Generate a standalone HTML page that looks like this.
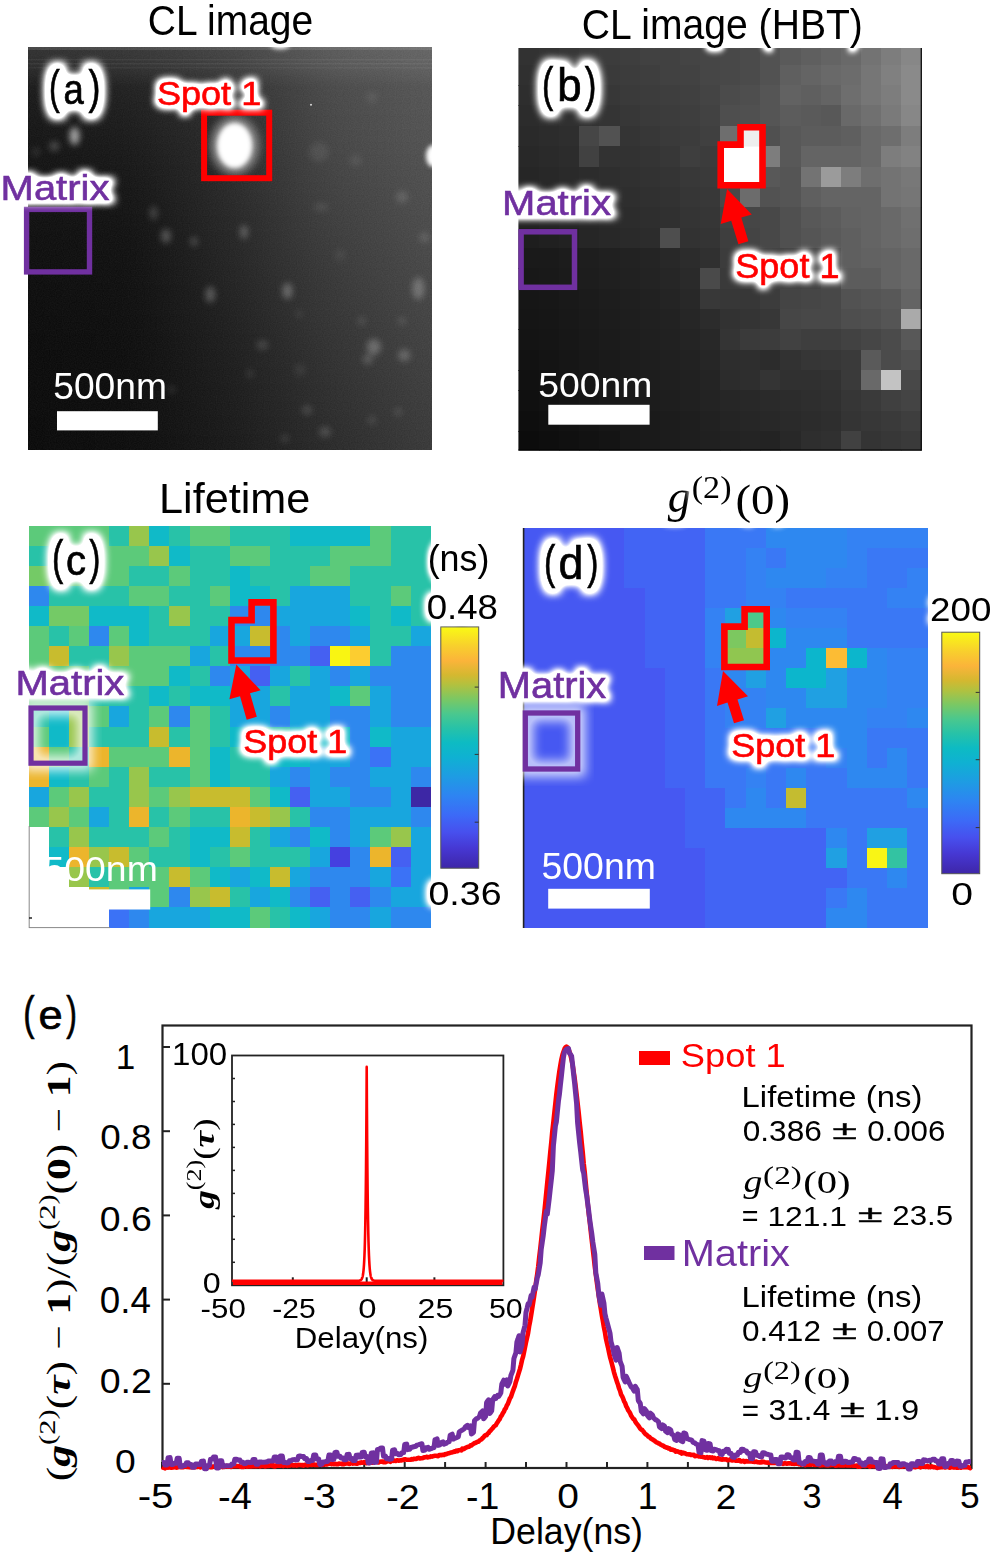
<!DOCTYPE html><html><head><meta charset="utf-8"><title>figure</title><style>html,body{margin:0;padding:0;background:#fff;width:997px;height:1552px;overflow:hidden}svg{position:absolute;left:0;top:0;display:block}</style></head><body>
<svg width="997" height="1552" viewBox="0 0 997 1552">
<defs><filter color-interpolation-filters="sRGB" id="glow" x="-30%" y="-40%" width="160%" height="180%"><feMorphology in="SourceAlpha" operator="dilate" radius="3.2" result="d"/><feGaussianBlur in="d" stdDeviation="3.6" result="b"/><feComponentTransfer in="b" result="b2"><feFuncA type="linear" slope="2.0"/></feComponentTransfer><feFlood flood-color="#fff"/><feComposite in2="b2" operator="in" result="g"/><feMerge><feMergeNode in="g"/><feMergeNode in="SourceGraphic"/></feMerge></filter><filter color-interpolation-filters="sRGB" id="glowS" x="-30%" y="-40%" width="160%" height="180%"><feMorphology in="SourceAlpha" operator="dilate" radius="2.6" result="d"/><feGaussianBlur in="d" stdDeviation="3.0" result="b"/><feComponentTransfer in="b" result="b2"><feFuncA type="linear" slope="1.8"/></feComponentTransfer><feFlood flood-color="#fff"/><feComposite in2="b2" operator="in" result="g"/><feMerge><feMergeNode in="g"/><feMergeNode in="SourceGraphic"/></feMerge></filter><filter color-interpolation-filters="sRGB" id="glowL" x="-30%" y="-40%" width="160%" height="180%"><feMorphology in="SourceAlpha" operator="dilate" radius="5.0" result="d"/><feGaussianBlur in="d" stdDeviation="4.0" result="b"/><feComponentTransfer in="b" result="b2"><feFuncA type="linear" slope="2.2"/></feComponentTransfer><feFlood flood-color="#fff"/><feComposite in2="b2" operator="in" result="g"/><feMerge><feMergeNode in="g"/><feMergeNode in="SourceGraphic"/></feMerge></filter><filter color-interpolation-filters="sRGB" id="boxglow" x="-30%" y="-30%" width="160%" height="160%"><feMorphology in="SourceAlpha" operator="dilate" radius="5" result="d"/><feGaussianBlur in="d" stdDeviation="5.5" result="b"/><feComponentTransfer in="b" result="b2"><feFuncA type="linear" slope="1.3"/></feComponentTransfer><feFlood flood-color="#fff" flood-opacity="0.62"/><feComposite in2="b2" operator="in" result="g"/><feMerge><feMergeNode in="g"/><feMergeNode in="SourceGraphic"/></feMerge></filter><filter color-interpolation-filters="sRGB" id="bl12" x="-100%" y="-100%" width="300%" height="300%"><feGaussianBlur stdDeviation="1.2"/></filter><filter color-interpolation-filters="sRGB" id="bl20" x="-100%" y="-100%" width="300%" height="300%"><feGaussianBlur stdDeviation="2.0"/></filter><filter color-interpolation-filters="sRGB" id="bl30" x="-100%" y="-100%" width="300%" height="300%"><feGaussianBlur stdDeviation="3.0"/></filter><filter color-interpolation-filters="sRGB" id="bl45" x="-100%" y="-100%" width="300%" height="300%"><feGaussianBlur stdDeviation="4.5"/></filter><filter color-interpolation-filters="sRGB" id="bl60" x="-100%" y="-100%" width="300%" height="300%"><feGaussianBlur stdDeviation="6.0"/></filter><filter color-interpolation-filters="sRGB" id="bl120" x="-100%" y="-100%" width="300%" height="300%"><feGaussianBlur stdDeviation="12.0"/></filter><filter color-interpolation-filters="sRGB" id="anoise" x="0" y="0" width="100%" height="100%"><feGaussianBlur in="SourceGraphic" stdDeviation="12" result="bg"/><feTurbulence type="fractalNoise" baseFrequency="0.85" numOctaves="1" seed="3" result="n"/><feColorMatrix in="n" type="matrix" values="1 0 0 0 0  1 0 0 0 0  1 0 0 0 0  0 0 0 0 1" result="ng"/><feComposite in="bg" in2="ng" operator="arithmetic" k1="0" k2="1" k3="0.07" k4="-0.035"/></filter><linearGradient id="parula" x1="0" y1="0" x2="0" y2="1"><stop offset="0.000" stop-color="#F9FA14"/><stop offset="0.080" stop-color="#F8CF2D"/><stop offset="0.140" stop-color="#FBB43A"/><stop offset="0.200" stop-color="#D4B830"/><stop offset="0.240" stop-color="#B2C13F"/><stop offset="0.300" stop-color="#7AC864"/><stop offset="0.360" stop-color="#4AC88E"/><stop offset="0.420" stop-color="#27C2A8"/><stop offset="0.480" stop-color="#0DBBC3"/><stop offset="0.540" stop-color="#0FB1D2"/><stop offset="0.620" stop-color="#1E9CE3"/><stop offset="0.700" stop-color="#2E84F2"/><stop offset="0.780" stop-color="#3C6AF7"/><stop offset="0.850" stop-color="#4750EE"/><stop offset="0.920" stop-color="#4637D2"/><stop offset="1.000" stop-color="#3E26A8"/></linearGradient><radialGradient id="aglow" cx="432" cy="60" r="470" gradientUnits="userSpaceOnUse"><stop offset="0" stop-color="#fff" stop-opacity="0.30"/><stop offset="0.45" stop-color="#fff" stop-opacity="0.18"/><stop offset="1" stop-color="#fff" stop-opacity="0"/></radialGradient><linearGradient id="aband" x1="0" y1="0" x2="0" y2="1"><stop offset="0" stop-color="#fff" stop-opacity="0.08"/><stop offset="0.5" stop-color="#fff" stop-opacity="0.06"/><stop offset="1" stop-color="#fff" stop-opacity="0"/></linearGradient></defs>
<rect width="997" height="1552" fill="#fff"/>
<clipPath id="clipa0"><rect x="28" y="47" width="404" height="403"/></clipPath>
<g clip-path="url(#clipa0)"><g filter="url(#anoise)">
<rect x="-5.7" y="13.3" width="17.4" height="17.4" fill="rgb(36,36,36)" shape-rendering="crispEdges"/>
<rect x="11.2" y="13.3" width="17.4" height="17.4" fill="rgb(36,36,36)" shape-rendering="crispEdges"/>
<rect x="28.0" y="13.3" width="17.4" height="17.4" fill="rgb(36,36,36)" shape-rendering="crispEdges"/>
<rect x="44.8" y="13.3" width="17.4" height="17.4" fill="rgb(38,38,38)" shape-rendering="crispEdges"/>
<rect x="61.7" y="13.3" width="17.4" height="17.4" fill="rgb(38,38,38)" shape-rendering="crispEdges"/>
<rect x="78.5" y="13.3" width="17.4" height="17.4" fill="rgb(40,40,40)" shape-rendering="crispEdges"/>
<rect x="95.3" y="13.3" width="17.4" height="17.4" fill="rgb(40,40,40)" shape-rendering="crispEdges"/>
<rect x="112.2" y="13.3" width="17.4" height="17.4" fill="rgb(42,42,42)" shape-rendering="crispEdges"/>
<rect x="129.0" y="13.3" width="17.4" height="17.4" fill="rgb(43,43,43)" shape-rendering="crispEdges"/>
<rect x="145.8" y="13.3" width="17.4" height="17.4" fill="rgb(46,46,46)" shape-rendering="crispEdges"/>
<rect x="162.7" y="13.3" width="17.4" height="17.4" fill="rgb(48,48,48)" shape-rendering="crispEdges"/>
<rect x="179.5" y="13.3" width="17.4" height="17.4" fill="rgb(50,50,50)" shape-rendering="crispEdges"/>
<rect x="196.3" y="13.3" width="17.4" height="17.4" fill="rgb(52,52,52)" shape-rendering="crispEdges"/>
<rect x="213.2" y="13.3" width="17.4" height="17.4" fill="rgb(55,55,55)" shape-rendering="crispEdges"/>
<rect x="230.0" y="13.3" width="17.4" height="17.4" fill="rgb(58,58,58)" shape-rendering="crispEdges"/>
<rect x="246.8" y="13.3" width="17.4" height="17.4" fill="rgb(62,62,62)" shape-rendering="crispEdges"/>
<rect x="263.7" y="13.3" width="17.4" height="17.4" fill="rgb(66,66,66)" shape-rendering="crispEdges"/>
<rect x="280.5" y="13.3" width="17.4" height="17.4" fill="rgb(70,70,70)" shape-rendering="crispEdges"/>
<rect x="297.3" y="13.3" width="17.4" height="17.4" fill="rgb(74,74,74)" shape-rendering="crispEdges"/>
<rect x="314.2" y="13.3" width="17.4" height="17.4" fill="rgb(78,78,78)" shape-rendering="crispEdges"/>
<rect x="331.0" y="13.3" width="17.4" height="17.4" fill="rgb(81,81,81)" shape-rendering="crispEdges"/>
<rect x="347.8" y="13.3" width="17.4" height="17.4" fill="rgb(82,82,82)" shape-rendering="crispEdges"/>
<rect x="364.7" y="13.3" width="17.4" height="17.4" fill="rgb(84,84,84)" shape-rendering="crispEdges"/>
<rect x="381.5" y="13.3" width="17.4" height="17.4" fill="rgb(86,86,86)" shape-rendering="crispEdges"/>
<rect x="398.3" y="13.3" width="17.4" height="17.4" fill="rgb(88,88,88)" shape-rendering="crispEdges"/>
<rect x="415.2" y="13.3" width="17.4" height="17.4" fill="rgb(89,89,89)" shape-rendering="crispEdges"/>
<rect x="432.0" y="13.3" width="17.4" height="17.4" fill="rgb(90,90,90)" shape-rendering="crispEdges"/>
<rect x="448.8" y="13.3" width="17.4" height="17.4" fill="rgb(90,90,90)" shape-rendering="crispEdges"/>
<rect x="-5.7" y="30.2" width="17.4" height="17.4" fill="rgb(36,36,36)" shape-rendering="crispEdges"/>
<rect x="11.2" y="30.2" width="17.4" height="17.4" fill="rgb(36,36,36)" shape-rendering="crispEdges"/>
<rect x="28.0" y="30.2" width="17.4" height="17.4" fill="rgb(36,36,36)" shape-rendering="crispEdges"/>
<rect x="44.8" y="30.2" width="17.4" height="17.4" fill="rgb(38,38,38)" shape-rendering="crispEdges"/>
<rect x="61.7" y="30.2" width="17.4" height="17.4" fill="rgb(38,38,38)" shape-rendering="crispEdges"/>
<rect x="78.5" y="30.2" width="17.4" height="17.4" fill="rgb(40,40,40)" shape-rendering="crispEdges"/>
<rect x="95.3" y="30.2" width="17.4" height="17.4" fill="rgb(40,40,40)" shape-rendering="crispEdges"/>
<rect x="112.2" y="30.2" width="17.4" height="17.4" fill="rgb(42,42,42)" shape-rendering="crispEdges"/>
<rect x="129.0" y="30.2" width="17.4" height="17.4" fill="rgb(43,43,43)" shape-rendering="crispEdges"/>
<rect x="145.8" y="30.2" width="17.4" height="17.4" fill="rgb(46,46,46)" shape-rendering="crispEdges"/>
<rect x="162.7" y="30.2" width="17.4" height="17.4" fill="rgb(48,48,48)" shape-rendering="crispEdges"/>
<rect x="179.5" y="30.2" width="17.4" height="17.4" fill="rgb(50,50,50)" shape-rendering="crispEdges"/>
<rect x="196.3" y="30.2" width="17.4" height="17.4" fill="rgb(52,52,52)" shape-rendering="crispEdges"/>
<rect x="213.2" y="30.2" width="17.4" height="17.4" fill="rgb(55,55,55)" shape-rendering="crispEdges"/>
<rect x="230.0" y="30.2" width="17.4" height="17.4" fill="rgb(58,58,58)" shape-rendering="crispEdges"/>
<rect x="246.8" y="30.2" width="17.4" height="17.4" fill="rgb(62,62,62)" shape-rendering="crispEdges"/>
<rect x="263.7" y="30.2" width="17.4" height="17.4" fill="rgb(66,66,66)" shape-rendering="crispEdges"/>
<rect x="280.5" y="30.2" width="17.4" height="17.4" fill="rgb(70,70,70)" shape-rendering="crispEdges"/>
<rect x="297.3" y="30.2" width="17.4" height="17.4" fill="rgb(74,74,74)" shape-rendering="crispEdges"/>
<rect x="314.2" y="30.2" width="17.4" height="17.4" fill="rgb(78,78,78)" shape-rendering="crispEdges"/>
<rect x="331.0" y="30.2" width="17.4" height="17.4" fill="rgb(81,81,81)" shape-rendering="crispEdges"/>
<rect x="347.8" y="30.2" width="17.4" height="17.4" fill="rgb(82,82,82)" shape-rendering="crispEdges"/>
<rect x="364.7" y="30.2" width="17.4" height="17.4" fill="rgb(84,84,84)" shape-rendering="crispEdges"/>
<rect x="381.5" y="30.2" width="17.4" height="17.4" fill="rgb(86,86,86)" shape-rendering="crispEdges"/>
<rect x="398.3" y="30.2" width="17.4" height="17.4" fill="rgb(88,88,88)" shape-rendering="crispEdges"/>
<rect x="415.2" y="30.2" width="17.4" height="17.4" fill="rgb(89,89,89)" shape-rendering="crispEdges"/>
<rect x="432.0" y="30.2" width="17.4" height="17.4" fill="rgb(90,90,90)" shape-rendering="crispEdges"/>
<rect x="448.8" y="30.2" width="17.4" height="17.4" fill="rgb(90,90,90)" shape-rendering="crispEdges"/>
<rect x="-5.7" y="47.0" width="17.4" height="17.4" fill="rgb(35,35,35)" shape-rendering="crispEdges"/>
<rect x="11.2" y="47.0" width="17.4" height="17.4" fill="rgb(35,35,35)" shape-rendering="crispEdges"/>
<rect x="28.0" y="47.0" width="17.4" height="17.4" fill="rgb(35,35,35)" shape-rendering="crispEdges"/>
<rect x="44.8" y="47.0" width="17.4" height="17.4" fill="rgb(36,36,36)" shape-rendering="crispEdges"/>
<rect x="61.7" y="47.0" width="17.4" height="17.4" fill="rgb(37,37,37)" shape-rendering="crispEdges"/>
<rect x="78.5" y="47.0" width="17.4" height="17.4" fill="rgb(38,38,38)" shape-rendering="crispEdges"/>
<rect x="95.3" y="47.0" width="17.4" height="17.4" fill="rgb(39,39,39)" shape-rendering="crispEdges"/>
<rect x="112.2" y="47.0" width="17.4" height="17.4" fill="rgb(40,40,40)" shape-rendering="crispEdges"/>
<rect x="129.0" y="47.0" width="17.4" height="17.4" fill="rgb(42,42,42)" shape-rendering="crispEdges"/>
<rect x="145.8" y="47.0" width="17.4" height="17.4" fill="rgb(44,44,44)" shape-rendering="crispEdges"/>
<rect x="162.7" y="47.0" width="17.4" height="17.4" fill="rgb(47,47,47)" shape-rendering="crispEdges"/>
<rect x="179.5" y="47.0" width="17.4" height="17.4" fill="rgb(49,49,49)" shape-rendering="crispEdges"/>
<rect x="196.3" y="47.0" width="17.4" height="17.4" fill="rgb(52,52,52)" shape-rendering="crispEdges"/>
<rect x="213.2" y="47.0" width="17.4" height="17.4" fill="rgb(54,54,54)" shape-rendering="crispEdges"/>
<rect x="230.0" y="47.0" width="17.4" height="17.4" fill="rgb(57,57,57)" shape-rendering="crispEdges"/>
<rect x="246.8" y="47.0" width="17.4" height="17.4" fill="rgb(61,61,61)" shape-rendering="crispEdges"/>
<rect x="263.7" y="47.0" width="17.4" height="17.4" fill="rgb(65,65,65)" shape-rendering="crispEdges"/>
<rect x="280.5" y="47.0" width="17.4" height="17.4" fill="rgb(69,69,69)" shape-rendering="crispEdges"/>
<rect x="297.3" y="47.0" width="17.4" height="17.4" fill="rgb(73,73,73)" shape-rendering="crispEdges"/>
<rect x="314.2" y="47.0" width="17.4" height="17.4" fill="rgb(77,77,77)" shape-rendering="crispEdges"/>
<rect x="331.0" y="47.0" width="17.4" height="17.4" fill="rgb(80,80,80)" shape-rendering="crispEdges"/>
<rect x="347.8" y="47.0" width="17.4" height="17.4" fill="rgb(82,82,82)" shape-rendering="crispEdges"/>
<rect x="364.7" y="47.0" width="17.4" height="17.4" fill="rgb(84,84,84)" shape-rendering="crispEdges"/>
<rect x="381.5" y="47.0" width="17.4" height="17.4" fill="rgb(85,85,85)" shape-rendering="crispEdges"/>
<rect x="398.3" y="47.0" width="17.4" height="17.4" fill="rgb(87,87,87)" shape-rendering="crispEdges"/>
<rect x="415.2" y="47.0" width="17.4" height="17.4" fill="rgb(89,89,89)" shape-rendering="crispEdges"/>
<rect x="432.0" y="47.0" width="17.4" height="17.4" fill="rgb(90,90,90)" shape-rendering="crispEdges"/>
<rect x="448.8" y="47.0" width="17.4" height="17.4" fill="rgb(90,90,90)" shape-rendering="crispEdges"/>
<rect x="-5.7" y="63.8" width="17.4" height="17.4" fill="rgb(33,33,33)" shape-rendering="crispEdges"/>
<rect x="11.2" y="63.8" width="17.4" height="17.4" fill="rgb(33,33,33)" shape-rendering="crispEdges"/>
<rect x="28.0" y="63.8" width="17.4" height="17.4" fill="rgb(33,33,33)" shape-rendering="crispEdges"/>
<rect x="44.8" y="63.8" width="17.4" height="17.4" fill="rgb(34,34,34)" shape-rendering="crispEdges"/>
<rect x="61.7" y="63.8" width="17.4" height="17.4" fill="rgb(35,35,35)" shape-rendering="crispEdges"/>
<rect x="78.5" y="63.8" width="17.4" height="17.4" fill="rgb(36,36,36)" shape-rendering="crispEdges"/>
<rect x="95.3" y="63.8" width="17.4" height="17.4" fill="rgb(37,37,37)" shape-rendering="crispEdges"/>
<rect x="112.2" y="63.8" width="17.4" height="17.4" fill="rgb(38,38,38)" shape-rendering="crispEdges"/>
<rect x="129.0" y="63.8" width="17.4" height="17.4" fill="rgb(40,40,40)" shape-rendering="crispEdges"/>
<rect x="145.8" y="63.8" width="17.4" height="17.4" fill="rgb(42,42,42)" shape-rendering="crispEdges"/>
<rect x="162.7" y="63.8" width="17.4" height="17.4" fill="rgb(45,45,45)" shape-rendering="crispEdges"/>
<rect x="179.5" y="63.8" width="17.4" height="17.4" fill="rgb(47,47,47)" shape-rendering="crispEdges"/>
<rect x="196.3" y="63.8" width="17.4" height="17.4" fill="rgb(50,50,50)" shape-rendering="crispEdges"/>
<rect x="213.2" y="63.8" width="17.4" height="17.4" fill="rgb(52,52,52)" shape-rendering="crispEdges"/>
<rect x="230.0" y="63.8" width="17.4" height="17.4" fill="rgb(56,56,56)" shape-rendering="crispEdges"/>
<rect x="246.8" y="63.8" width="17.4" height="17.4" fill="rgb(60,60,60)" shape-rendering="crispEdges"/>
<rect x="263.7" y="63.8" width="17.4" height="17.4" fill="rgb(64,64,64)" shape-rendering="crispEdges"/>
<rect x="280.5" y="63.8" width="17.4" height="17.4" fill="rgb(68,68,68)" shape-rendering="crispEdges"/>
<rect x="297.3" y="63.8" width="17.4" height="17.4" fill="rgb(72,72,72)" shape-rendering="crispEdges"/>
<rect x="314.2" y="63.8" width="17.4" height="17.4" fill="rgb(76,76,76)" shape-rendering="crispEdges"/>
<rect x="331.0" y="63.8" width="17.4" height="17.4" fill="rgb(79,79,79)" shape-rendering="crispEdges"/>
<rect x="347.8" y="63.8" width="17.4" height="17.4" fill="rgb(81,81,81)" shape-rendering="crispEdges"/>
<rect x="364.7" y="63.8" width="17.4" height="17.4" fill="rgb(82,82,82)" shape-rendering="crispEdges"/>
<rect x="381.5" y="63.8" width="17.4" height="17.4" fill="rgb(84,84,84)" shape-rendering="crispEdges"/>
<rect x="398.3" y="63.8" width="17.4" height="17.4" fill="rgb(86,86,86)" shape-rendering="crispEdges"/>
<rect x="415.2" y="63.8" width="17.4" height="17.4" fill="rgb(88,88,88)" shape-rendering="crispEdges"/>
<rect x="432.0" y="63.8" width="17.4" height="17.4" fill="rgb(88,88,88)" shape-rendering="crispEdges"/>
<rect x="448.8" y="63.8" width="17.4" height="17.4" fill="rgb(88,88,88)" shape-rendering="crispEdges"/>
<rect x="-5.7" y="80.7" width="17.4" height="17.4" fill="rgb(31,31,31)" shape-rendering="crispEdges"/>
<rect x="11.2" y="80.7" width="17.4" height="17.4" fill="rgb(31,31,31)" shape-rendering="crispEdges"/>
<rect x="28.0" y="80.7" width="17.4" height="17.4" fill="rgb(31,31,31)" shape-rendering="crispEdges"/>
<rect x="44.8" y="80.7" width="17.4" height="17.4" fill="rgb(32,32,32)" shape-rendering="crispEdges"/>
<rect x="61.7" y="80.7" width="17.4" height="17.4" fill="rgb(33,33,33)" shape-rendering="crispEdges"/>
<rect x="78.5" y="80.7" width="17.4" height="17.4" fill="rgb(34,34,34)" shape-rendering="crispEdges"/>
<rect x="95.3" y="80.7" width="17.4" height="17.4" fill="rgb(35,35,35)" shape-rendering="crispEdges"/>
<rect x="112.2" y="80.7" width="17.4" height="17.4" fill="rgb(36,36,36)" shape-rendering="crispEdges"/>
<rect x="129.0" y="80.7" width="17.4" height="17.4" fill="rgb(37,37,37)" shape-rendering="crispEdges"/>
<rect x="145.8" y="80.7" width="17.4" height="17.4" fill="rgb(40,40,40)" shape-rendering="crispEdges"/>
<rect x="162.7" y="80.7" width="17.4" height="17.4" fill="rgb(43,43,43)" shape-rendering="crispEdges"/>
<rect x="179.5" y="80.7" width="17.4" height="17.4" fill="rgb(45,45,45)" shape-rendering="crispEdges"/>
<rect x="196.3" y="80.7" width="17.4" height="17.4" fill="rgb(48,48,48)" shape-rendering="crispEdges"/>
<rect x="213.2" y="80.7" width="17.4" height="17.4" fill="rgb(51,51,51)" shape-rendering="crispEdges"/>
<rect x="230.0" y="80.7" width="17.4" height="17.4" fill="rgb(54,54,54)" shape-rendering="crispEdges"/>
<rect x="246.8" y="80.7" width="17.4" height="17.4" fill="rgb(58,58,58)" shape-rendering="crispEdges"/>
<rect x="263.7" y="80.7" width="17.4" height="17.4" fill="rgb(62,62,62)" shape-rendering="crispEdges"/>
<rect x="280.5" y="80.7" width="17.4" height="17.4" fill="rgb(66,66,66)" shape-rendering="crispEdges"/>
<rect x="297.3" y="80.7" width="17.4" height="17.4" fill="rgb(70,70,70)" shape-rendering="crispEdges"/>
<rect x="314.2" y="80.7" width="17.4" height="17.4" fill="rgb(75,75,75)" shape-rendering="crispEdges"/>
<rect x="331.0" y="80.7" width="17.4" height="17.4" fill="rgb(78,78,78)" shape-rendering="crispEdges"/>
<rect x="347.8" y="80.7" width="17.4" height="17.4" fill="rgb(79,79,79)" shape-rendering="crispEdges"/>
<rect x="364.7" y="80.7" width="17.4" height="17.4" fill="rgb(81,81,81)" shape-rendering="crispEdges"/>
<rect x="381.5" y="80.7" width="17.4" height="17.4" fill="rgb(83,83,83)" shape-rendering="crispEdges"/>
<rect x="398.3" y="80.7" width="17.4" height="17.4" fill="rgb(85,85,85)" shape-rendering="crispEdges"/>
<rect x="415.2" y="80.7" width="17.4" height="17.4" fill="rgb(87,87,87)" shape-rendering="crispEdges"/>
<rect x="432.0" y="80.7" width="17.4" height="17.4" fill="rgb(88,88,88)" shape-rendering="crispEdges"/>
<rect x="448.8" y="80.7" width="17.4" height="17.4" fill="rgb(88,88,88)" shape-rendering="crispEdges"/>
<rect x="-5.7" y="97.5" width="17.4" height="17.4" fill="rgb(29,29,29)" shape-rendering="crispEdges"/>
<rect x="11.2" y="97.5" width="17.4" height="17.4" fill="rgb(29,29,29)" shape-rendering="crispEdges"/>
<rect x="28.0" y="97.5" width="17.4" height="17.4" fill="rgb(29,29,29)" shape-rendering="crispEdges"/>
<rect x="44.8" y="97.5" width="17.4" height="17.4" fill="rgb(30,30,30)" shape-rendering="crispEdges"/>
<rect x="61.7" y="97.5" width="17.4" height="17.4" fill="rgb(31,31,31)" shape-rendering="crispEdges"/>
<rect x="78.5" y="97.5" width="17.4" height="17.4" fill="rgb(32,32,32)" shape-rendering="crispEdges"/>
<rect x="95.3" y="97.5" width="17.4" height="17.4" fill="rgb(33,33,33)" shape-rendering="crispEdges"/>
<rect x="112.2" y="97.5" width="17.4" height="17.4" fill="rgb(33,33,33)" shape-rendering="crispEdges"/>
<rect x="129.0" y="97.5" width="17.4" height="17.4" fill="rgb(35,35,35)" shape-rendering="crispEdges"/>
<rect x="145.8" y="97.5" width="17.4" height="17.4" fill="rgb(38,38,38)" shape-rendering="crispEdges"/>
<rect x="162.7" y="97.5" width="17.4" height="17.4" fill="rgb(41,41,41)" shape-rendering="crispEdges"/>
<rect x="179.5" y="97.5" width="17.4" height="17.4" fill="rgb(43,43,43)" shape-rendering="crispEdges"/>
<rect x="196.3" y="97.5" width="17.4" height="17.4" fill="rgb(46,46,46)" shape-rendering="crispEdges"/>
<rect x="213.2" y="97.5" width="17.4" height="17.4" fill="rgb(49,49,49)" shape-rendering="crispEdges"/>
<rect x="230.0" y="97.5" width="17.4" height="17.4" fill="rgb(52,52,52)" shape-rendering="crispEdges"/>
<rect x="246.8" y="97.5" width="17.4" height="17.4" fill="rgb(56,56,56)" shape-rendering="crispEdges"/>
<rect x="263.7" y="97.5" width="17.4" height="17.4" fill="rgb(61,61,61)" shape-rendering="crispEdges"/>
<rect x="280.5" y="97.5" width="17.4" height="17.4" fill="rgb(65,65,65)" shape-rendering="crispEdges"/>
<rect x="297.3" y="97.5" width="17.4" height="17.4" fill="rgb(69,69,69)" shape-rendering="crispEdges"/>
<rect x="314.2" y="97.5" width="17.4" height="17.4" fill="rgb(73,73,73)" shape-rendering="crispEdges"/>
<rect x="331.0" y="97.5" width="17.4" height="17.4" fill="rgb(76,76,76)" shape-rendering="crispEdges"/>
<rect x="347.8" y="97.5" width="17.4" height="17.4" fill="rgb(78,78,78)" shape-rendering="crispEdges"/>
<rect x="364.7" y="97.5" width="17.4" height="17.4" fill="rgb(80,80,80)" shape-rendering="crispEdges"/>
<rect x="381.5" y="97.5" width="17.4" height="17.4" fill="rgb(82,82,82)" shape-rendering="crispEdges"/>
<rect x="398.3" y="97.5" width="17.4" height="17.4" fill="rgb(84,84,84)" shape-rendering="crispEdges"/>
<rect x="415.2" y="97.5" width="17.4" height="17.4" fill="rgb(86,86,86)" shape-rendering="crispEdges"/>
<rect x="432.0" y="97.5" width="17.4" height="17.4" fill="rgb(86,86,86)" shape-rendering="crispEdges"/>
<rect x="448.8" y="97.5" width="17.4" height="17.4" fill="rgb(86,86,86)" shape-rendering="crispEdges"/>
<rect x="-5.7" y="114.3" width="17.4" height="17.4" fill="rgb(27,27,27)" shape-rendering="crispEdges"/>
<rect x="11.2" y="114.3" width="17.4" height="17.4" fill="rgb(27,27,27)" shape-rendering="crispEdges"/>
<rect x="28.0" y="114.3" width="17.4" height="17.4" fill="rgb(27,27,27)" shape-rendering="crispEdges"/>
<rect x="44.8" y="114.3" width="17.4" height="17.4" fill="rgb(28,28,28)" shape-rendering="crispEdges"/>
<rect x="61.7" y="114.3" width="17.4" height="17.4" fill="rgb(29,29,29)" shape-rendering="crispEdges"/>
<rect x="78.5" y="114.3" width="17.4" height="17.4" fill="rgb(30,30,30)" shape-rendering="crispEdges"/>
<rect x="95.3" y="114.3" width="17.4" height="17.4" fill="rgb(30,30,30)" shape-rendering="crispEdges"/>
<rect x="112.2" y="114.3" width="17.4" height="17.4" fill="rgb(31,31,31)" shape-rendering="crispEdges"/>
<rect x="129.0" y="114.3" width="17.4" height="17.4" fill="rgb(33,33,33)" shape-rendering="crispEdges"/>
<rect x="145.8" y="114.3" width="17.4" height="17.4" fill="rgb(36,36,36)" shape-rendering="crispEdges"/>
<rect x="162.7" y="114.3" width="17.4" height="17.4" fill="rgb(39,39,39)" shape-rendering="crispEdges"/>
<rect x="179.5" y="114.3" width="17.4" height="17.4" fill="rgb(41,41,41)" shape-rendering="crispEdges"/>
<rect x="196.3" y="114.3" width="17.4" height="17.4" fill="rgb(44,44,44)" shape-rendering="crispEdges"/>
<rect x="213.2" y="114.3" width="17.4" height="17.4" fill="rgb(47,47,47)" shape-rendering="crispEdges"/>
<rect x="230.0" y="114.3" width="17.4" height="17.4" fill="rgb(51,51,51)" shape-rendering="crispEdges"/>
<rect x="246.8" y="114.3" width="17.4" height="17.4" fill="rgb(55,55,55)" shape-rendering="crispEdges"/>
<rect x="263.7" y="114.3" width="17.4" height="17.4" fill="rgb(59,59,59)" shape-rendering="crispEdges"/>
<rect x="280.5" y="114.3" width="17.4" height="17.4" fill="rgb(63,63,63)" shape-rendering="crispEdges"/>
<rect x="297.3" y="114.3" width="17.4" height="17.4" fill="rgb(68,68,68)" shape-rendering="crispEdges"/>
<rect x="314.2" y="114.3" width="17.4" height="17.4" fill="rgb(72,72,72)" shape-rendering="crispEdges"/>
<rect x="331.0" y="114.3" width="17.4" height="17.4" fill="rgb(75,75,75)" shape-rendering="crispEdges"/>
<rect x="347.8" y="114.3" width="17.4" height="17.4" fill="rgb(77,77,77)" shape-rendering="crispEdges"/>
<rect x="364.7" y="114.3" width="17.4" height="17.4" fill="rgb(79,79,79)" shape-rendering="crispEdges"/>
<rect x="381.5" y="114.3" width="17.4" height="17.4" fill="rgb(81,81,81)" shape-rendering="crispEdges"/>
<rect x="398.3" y="114.3" width="17.4" height="17.4" fill="rgb(83,83,83)" shape-rendering="crispEdges"/>
<rect x="415.2" y="114.3" width="17.4" height="17.4" fill="rgb(85,85,85)" shape-rendering="crispEdges"/>
<rect x="432.0" y="114.3" width="17.4" height="17.4" fill="rgb(86,86,86)" shape-rendering="crispEdges"/>
<rect x="448.8" y="114.3" width="17.4" height="17.4" fill="rgb(86,86,86)" shape-rendering="crispEdges"/>
<rect x="-5.7" y="131.2" width="17.4" height="17.4" fill="rgb(25,25,25)" shape-rendering="crispEdges"/>
<rect x="11.2" y="131.2" width="17.4" height="17.4" fill="rgb(25,25,25)" shape-rendering="crispEdges"/>
<rect x="28.0" y="131.2" width="17.4" height="17.4" fill="rgb(25,25,25)" shape-rendering="crispEdges"/>
<rect x="44.8" y="131.2" width="17.4" height="17.4" fill="rgb(26,26,26)" shape-rendering="crispEdges"/>
<rect x="61.7" y="131.2" width="17.4" height="17.4" fill="rgb(27,27,27)" shape-rendering="crispEdges"/>
<rect x="78.5" y="131.2" width="17.4" height="17.4" fill="rgb(27,27,27)" shape-rendering="crispEdges"/>
<rect x="95.3" y="131.2" width="17.4" height="17.4" fill="rgb(28,28,28)" shape-rendering="crispEdges"/>
<rect x="112.2" y="131.2" width="17.4" height="17.4" fill="rgb(29,29,29)" shape-rendering="crispEdges"/>
<rect x="129.0" y="131.2" width="17.4" height="17.4" fill="rgb(31,31,31)" shape-rendering="crispEdges"/>
<rect x="145.8" y="131.2" width="17.4" height="17.4" fill="rgb(34,34,34)" shape-rendering="crispEdges"/>
<rect x="162.7" y="131.2" width="17.4" height="17.4" fill="rgb(37,37,37)" shape-rendering="crispEdges"/>
<rect x="179.5" y="131.2" width="17.4" height="17.4" fill="rgb(39,39,39)" shape-rendering="crispEdges"/>
<rect x="196.3" y="131.2" width="17.4" height="17.4" fill="rgb(42,42,42)" shape-rendering="crispEdges"/>
<rect x="213.2" y="131.2" width="17.4" height="17.4" fill="rgb(45,45,45)" shape-rendering="crispEdges"/>
<rect x="230.0" y="131.2" width="17.4" height="17.4" fill="rgb(49,49,49)" shape-rendering="crispEdges"/>
<rect x="246.8" y="131.2" width="17.4" height="17.4" fill="rgb(53,53,53)" shape-rendering="crispEdges"/>
<rect x="263.7" y="131.2" width="17.4" height="17.4" fill="rgb(58,58,58)" shape-rendering="crispEdges"/>
<rect x="280.5" y="131.2" width="17.4" height="17.4" fill="rgb(62,62,62)" shape-rendering="crispEdges"/>
<rect x="297.3" y="131.2" width="17.4" height="17.4" fill="rgb(66,66,66)" shape-rendering="crispEdges"/>
<rect x="314.2" y="131.2" width="17.4" height="17.4" fill="rgb(71,71,71)" shape-rendering="crispEdges"/>
<rect x="331.0" y="131.2" width="17.4" height="17.4" fill="rgb(74,74,74)" shape-rendering="crispEdges"/>
<rect x="347.8" y="131.2" width="17.4" height="17.4" fill="rgb(76,76,76)" shape-rendering="crispEdges"/>
<rect x="364.7" y="131.2" width="17.4" height="17.4" fill="rgb(78,78,78)" shape-rendering="crispEdges"/>
<rect x="381.5" y="131.2" width="17.4" height="17.4" fill="rgb(80,80,80)" shape-rendering="crispEdges"/>
<rect x="398.3" y="131.2" width="17.4" height="17.4" fill="rgb(82,82,82)" shape-rendering="crispEdges"/>
<rect x="415.2" y="131.2" width="17.4" height="17.4" fill="rgb(84,84,84)" shape-rendering="crispEdges"/>
<rect x="432.0" y="131.2" width="17.4" height="17.4" fill="rgb(84,84,84)" shape-rendering="crispEdges"/>
<rect x="448.8" y="131.2" width="17.4" height="17.4" fill="rgb(84,84,84)" shape-rendering="crispEdges"/>
<rect x="-5.7" y="148.0" width="17.4" height="17.4" fill="rgb(24,24,24)" shape-rendering="crispEdges"/>
<rect x="11.2" y="148.0" width="17.4" height="17.4" fill="rgb(24,24,24)" shape-rendering="crispEdges"/>
<rect x="28.0" y="148.0" width="17.4" height="17.4" fill="rgb(24,24,24)" shape-rendering="crispEdges"/>
<rect x="44.8" y="148.0" width="17.4" height="17.4" fill="rgb(24,24,24)" shape-rendering="crispEdges"/>
<rect x="61.7" y="148.0" width="17.4" height="17.4" fill="rgb(25,25,25)" shape-rendering="crispEdges"/>
<rect x="78.5" y="148.0" width="17.4" height="17.4" fill="rgb(26,26,26)" shape-rendering="crispEdges"/>
<rect x="95.3" y="148.0" width="17.4" height="17.4" fill="rgb(26,26,26)" shape-rendering="crispEdges"/>
<rect x="112.2" y="148.0" width="17.4" height="17.4" fill="rgb(27,27,27)" shape-rendering="crispEdges"/>
<rect x="129.0" y="148.0" width="17.4" height="17.4" fill="rgb(29,29,29)" shape-rendering="crispEdges"/>
<rect x="145.8" y="148.0" width="17.4" height="17.4" fill="rgb(32,32,32)" shape-rendering="crispEdges"/>
<rect x="162.7" y="148.0" width="17.4" height="17.4" fill="rgb(35,35,35)" shape-rendering="crispEdges"/>
<rect x="179.5" y="148.0" width="17.4" height="17.4" fill="rgb(38,38,38)" shape-rendering="crispEdges"/>
<rect x="196.3" y="148.0" width="17.4" height="17.4" fill="rgb(41,41,41)" shape-rendering="crispEdges"/>
<rect x="213.2" y="148.0" width="17.4" height="17.4" fill="rgb(44,44,44)" shape-rendering="crispEdges"/>
<rect x="230.0" y="148.0" width="17.4" height="17.4" fill="rgb(48,48,48)" shape-rendering="crispEdges"/>
<rect x="246.8" y="148.0" width="17.4" height="17.4" fill="rgb(52,52,52)" shape-rendering="crispEdges"/>
<rect x="263.7" y="148.0" width="17.4" height="17.4" fill="rgb(56,56,56)" shape-rendering="crispEdges"/>
<rect x="280.5" y="148.0" width="17.4" height="17.4" fill="rgb(60,60,60)" shape-rendering="crispEdges"/>
<rect x="297.3" y="148.0" width="17.4" height="17.4" fill="rgb(65,65,65)" shape-rendering="crispEdges"/>
<rect x="314.2" y="148.0" width="17.4" height="17.4" fill="rgb(69,69,69)" shape-rendering="crispEdges"/>
<rect x="331.0" y="148.0" width="17.4" height="17.4" fill="rgb(72,72,72)" shape-rendering="crispEdges"/>
<rect x="347.8" y="148.0" width="17.4" height="17.4" fill="rgb(74,74,74)" shape-rendering="crispEdges"/>
<rect x="364.7" y="148.0" width="17.4" height="17.4" fill="rgb(76,76,76)" shape-rendering="crispEdges"/>
<rect x="381.5" y="148.0" width="17.4" height="17.4" fill="rgb(78,78,78)" shape-rendering="crispEdges"/>
<rect x="398.3" y="148.0" width="17.4" height="17.4" fill="rgb(80,80,80)" shape-rendering="crispEdges"/>
<rect x="415.2" y="148.0" width="17.4" height="17.4" fill="rgb(82,82,82)" shape-rendering="crispEdges"/>
<rect x="432.0" y="148.0" width="17.4" height="17.4" fill="rgb(83,83,83)" shape-rendering="crispEdges"/>
<rect x="448.8" y="148.0" width="17.4" height="17.4" fill="rgb(83,83,83)" shape-rendering="crispEdges"/>
<rect x="-5.7" y="164.8" width="17.4" height="17.4" fill="rgb(22,22,22)" shape-rendering="crispEdges"/>
<rect x="11.2" y="164.8" width="17.4" height="17.4" fill="rgb(22,22,22)" shape-rendering="crispEdges"/>
<rect x="28.0" y="164.8" width="17.4" height="17.4" fill="rgb(23,23,23)" shape-rendering="crispEdges"/>
<rect x="44.8" y="164.8" width="17.4" height="17.4" fill="rgb(23,23,23)" shape-rendering="crispEdges"/>
<rect x="61.7" y="164.8" width="17.4" height="17.4" fill="rgb(24,24,24)" shape-rendering="crispEdges"/>
<rect x="78.5" y="164.8" width="17.4" height="17.4" fill="rgb(25,25,25)" shape-rendering="crispEdges"/>
<rect x="95.3" y="164.8" width="17.4" height="17.4" fill="rgb(25,25,25)" shape-rendering="crispEdges"/>
<rect x="112.2" y="164.8" width="17.4" height="17.4" fill="rgb(26,26,26)" shape-rendering="crispEdges"/>
<rect x="129.0" y="164.8" width="17.4" height="17.4" fill="rgb(28,28,28)" shape-rendering="crispEdges"/>
<rect x="145.8" y="164.8" width="17.4" height="17.4" fill="rgb(31,31,31)" shape-rendering="crispEdges"/>
<rect x="162.7" y="164.8" width="17.4" height="17.4" fill="rgb(34,34,34)" shape-rendering="crispEdges"/>
<rect x="179.5" y="164.8" width="17.4" height="17.4" fill="rgb(37,37,37)" shape-rendering="crispEdges"/>
<rect x="196.3" y="164.8" width="17.4" height="17.4" fill="rgb(40,40,40)" shape-rendering="crispEdges"/>
<rect x="213.2" y="164.8" width="17.4" height="17.4" fill="rgb(43,43,43)" shape-rendering="crispEdges"/>
<rect x="230.0" y="164.8" width="17.4" height="17.4" fill="rgb(47,47,47)" shape-rendering="crispEdges"/>
<rect x="246.8" y="164.8" width="17.4" height="17.4" fill="rgb(51,51,51)" shape-rendering="crispEdges"/>
<rect x="263.7" y="164.8" width="17.4" height="17.4" fill="rgb(55,55,55)" shape-rendering="crispEdges"/>
<rect x="280.5" y="164.8" width="17.4" height="17.4" fill="rgb(59,59,59)" shape-rendering="crispEdges"/>
<rect x="297.3" y="164.8" width="17.4" height="17.4" fill="rgb(63,63,63)" shape-rendering="crispEdges"/>
<rect x="314.2" y="164.8" width="17.4" height="17.4" fill="rgb(67,67,67)" shape-rendering="crispEdges"/>
<rect x="331.0" y="164.8" width="17.4" height="17.4" fill="rgb(71,71,71)" shape-rendering="crispEdges"/>
<rect x="347.8" y="164.8" width="17.4" height="17.4" fill="rgb(73,73,73)" shape-rendering="crispEdges"/>
<rect x="364.7" y="164.8" width="17.4" height="17.4" fill="rgb(75,75,75)" shape-rendering="crispEdges"/>
<rect x="381.5" y="164.8" width="17.4" height="17.4" fill="rgb(77,77,77)" shape-rendering="crispEdges"/>
<rect x="398.3" y="164.8" width="17.4" height="17.4" fill="rgb(79,79,79)" shape-rendering="crispEdges"/>
<rect x="415.2" y="164.8" width="17.4" height="17.4" fill="rgb(81,81,81)" shape-rendering="crispEdges"/>
<rect x="432.0" y="164.8" width="17.4" height="17.4" fill="rgb(82,82,82)" shape-rendering="crispEdges"/>
<rect x="448.8" y="164.8" width="17.4" height="17.4" fill="rgb(82,82,82)" shape-rendering="crispEdges"/>
<rect x="-5.7" y="181.7" width="17.4" height="17.4" fill="rgb(22,22,22)" shape-rendering="crispEdges"/>
<rect x="11.2" y="181.7" width="17.4" height="17.4" fill="rgb(22,22,22)" shape-rendering="crispEdges"/>
<rect x="28.0" y="181.7" width="17.4" height="17.4" fill="rgb(22,22,22)" shape-rendering="crispEdges"/>
<rect x="44.8" y="181.7" width="17.4" height="17.4" fill="rgb(22,22,22)" shape-rendering="crispEdges"/>
<rect x="61.7" y="181.7" width="17.4" height="17.4" fill="rgb(23,23,23)" shape-rendering="crispEdges"/>
<rect x="78.5" y="181.7" width="17.4" height="17.4" fill="rgb(23,23,23)" shape-rendering="crispEdges"/>
<rect x="95.3" y="181.7" width="17.4" height="17.4" fill="rgb(24,24,24)" shape-rendering="crispEdges"/>
<rect x="112.2" y="181.7" width="17.4" height="17.4" fill="rgb(24,24,24)" shape-rendering="crispEdges"/>
<rect x="129.0" y="181.7" width="17.4" height="17.4" fill="rgb(26,26,26)" shape-rendering="crispEdges"/>
<rect x="145.8" y="181.7" width="17.4" height="17.4" fill="rgb(29,29,29)" shape-rendering="crispEdges"/>
<rect x="162.7" y="181.7" width="17.4" height="17.4" fill="rgb(33,33,33)" shape-rendering="crispEdges"/>
<rect x="179.5" y="181.7" width="17.4" height="17.4" fill="rgb(36,36,36)" shape-rendering="crispEdges"/>
<rect x="196.3" y="181.7" width="17.4" height="17.4" fill="rgb(39,39,39)" shape-rendering="crispEdges"/>
<rect x="213.2" y="181.7" width="17.4" height="17.4" fill="rgb(42,42,42)" shape-rendering="crispEdges"/>
<rect x="230.0" y="181.7" width="17.4" height="17.4" fill="rgb(46,46,46)" shape-rendering="crispEdges"/>
<rect x="246.8" y="181.7" width="17.4" height="17.4" fill="rgb(50,50,50)" shape-rendering="crispEdges"/>
<rect x="263.7" y="181.7" width="17.4" height="17.4" fill="rgb(54,54,54)" shape-rendering="crispEdges"/>
<rect x="280.5" y="181.7" width="17.4" height="17.4" fill="rgb(58,58,58)" shape-rendering="crispEdges"/>
<rect x="297.3" y="181.7" width="17.4" height="17.4" fill="rgb(62,62,62)" shape-rendering="crispEdges"/>
<rect x="314.2" y="181.7" width="17.4" height="17.4" fill="rgb(66,66,66)" shape-rendering="crispEdges"/>
<rect x="331.0" y="181.7" width="17.4" height="17.4" fill="rgb(69,69,69)" shape-rendering="crispEdges"/>
<rect x="347.8" y="181.7" width="17.4" height="17.4" fill="rgb(71,71,71)" shape-rendering="crispEdges"/>
<rect x="364.7" y="181.7" width="17.4" height="17.4" fill="rgb(73,73,73)" shape-rendering="crispEdges"/>
<rect x="381.5" y="181.7" width="17.4" height="17.4" fill="rgb(75,75,75)" shape-rendering="crispEdges"/>
<rect x="398.3" y="181.7" width="17.4" height="17.4" fill="rgb(77,77,77)" shape-rendering="crispEdges"/>
<rect x="415.2" y="181.7" width="17.4" height="17.4" fill="rgb(80,80,80)" shape-rendering="crispEdges"/>
<rect x="432.0" y="181.7" width="17.4" height="17.4" fill="rgb(81,81,81)" shape-rendering="crispEdges"/>
<rect x="448.8" y="181.7" width="17.4" height="17.4" fill="rgb(81,81,81)" shape-rendering="crispEdges"/>
<rect x="-5.7" y="198.5" width="17.4" height="17.4" fill="rgb(20,20,20)" shape-rendering="crispEdges"/>
<rect x="11.2" y="198.5" width="17.4" height="17.4" fill="rgb(20,20,20)" shape-rendering="crispEdges"/>
<rect x="28.0" y="198.5" width="17.4" height="17.4" fill="rgb(21,21,21)" shape-rendering="crispEdges"/>
<rect x="44.8" y="198.5" width="17.4" height="17.4" fill="rgb(21,21,21)" shape-rendering="crispEdges"/>
<rect x="61.7" y="198.5" width="17.4" height="17.4" fill="rgb(22,22,22)" shape-rendering="crispEdges"/>
<rect x="78.5" y="198.5" width="17.4" height="17.4" fill="rgb(22,22,22)" shape-rendering="crispEdges"/>
<rect x="95.3" y="198.5" width="17.4" height="17.4" fill="rgb(23,23,23)" shape-rendering="crispEdges"/>
<rect x="112.2" y="198.5" width="17.4" height="17.4" fill="rgb(23,23,23)" shape-rendering="crispEdges"/>
<rect x="129.0" y="198.5" width="17.4" height="17.4" fill="rgb(25,25,25)" shape-rendering="crispEdges"/>
<rect x="145.8" y="198.5" width="17.4" height="17.4" fill="rgb(28,28,28)" shape-rendering="crispEdges"/>
<rect x="162.7" y="198.5" width="17.4" height="17.4" fill="rgb(31,31,31)" shape-rendering="crispEdges"/>
<rect x="179.5" y="198.5" width="17.4" height="17.4" fill="rgb(35,35,35)" shape-rendering="crispEdges"/>
<rect x="196.3" y="198.5" width="17.4" height="17.4" fill="rgb(38,38,38)" shape-rendering="crispEdges"/>
<rect x="213.2" y="198.5" width="17.4" height="17.4" fill="rgb(41,41,41)" shape-rendering="crispEdges"/>
<rect x="230.0" y="198.5" width="17.4" height="17.4" fill="rgb(44,44,44)" shape-rendering="crispEdges"/>
<rect x="246.8" y="198.5" width="17.4" height="17.4" fill="rgb(48,48,48)" shape-rendering="crispEdges"/>
<rect x="263.7" y="198.5" width="17.4" height="17.4" fill="rgb(52,52,52)" shape-rendering="crispEdges"/>
<rect x="280.5" y="198.5" width="17.4" height="17.4" fill="rgb(56,56,56)" shape-rendering="crispEdges"/>
<rect x="297.3" y="198.5" width="17.4" height="17.4" fill="rgb(60,60,60)" shape-rendering="crispEdges"/>
<rect x="314.2" y="198.5" width="17.4" height="17.4" fill="rgb(64,64,64)" shape-rendering="crispEdges"/>
<rect x="331.0" y="198.5" width="17.4" height="17.4" fill="rgb(67,67,67)" shape-rendering="crispEdges"/>
<rect x="347.8" y="198.5" width="17.4" height="17.4" fill="rgb(69,69,69)" shape-rendering="crispEdges"/>
<rect x="364.7" y="198.5" width="17.4" height="17.4" fill="rgb(72,72,72)" shape-rendering="crispEdges"/>
<rect x="381.5" y="198.5" width="17.4" height="17.4" fill="rgb(74,74,74)" shape-rendering="crispEdges"/>
<rect x="398.3" y="198.5" width="17.4" height="17.4" fill="rgb(76,76,76)" shape-rendering="crispEdges"/>
<rect x="415.2" y="198.5" width="17.4" height="17.4" fill="rgb(78,78,78)" shape-rendering="crispEdges"/>
<rect x="432.0" y="198.5" width="17.4" height="17.4" fill="rgb(79,79,79)" shape-rendering="crispEdges"/>
<rect x="448.8" y="198.5" width="17.4" height="17.4" fill="rgb(79,79,79)" shape-rendering="crispEdges"/>
<rect x="-5.7" y="215.3" width="17.4" height="17.4" fill="rgb(20,20,20)" shape-rendering="crispEdges"/>
<rect x="11.2" y="215.3" width="17.4" height="17.4" fill="rgb(20,20,20)" shape-rendering="crispEdges"/>
<rect x="28.0" y="215.3" width="17.4" height="17.4" fill="rgb(20,20,20)" shape-rendering="crispEdges"/>
<rect x="44.8" y="215.3" width="17.4" height="17.4" fill="rgb(20,20,20)" shape-rendering="crispEdges"/>
<rect x="61.7" y="215.3" width="17.4" height="17.4" fill="rgb(21,21,21)" shape-rendering="crispEdges"/>
<rect x="78.5" y="215.3" width="17.4" height="17.4" fill="rgb(21,21,21)" shape-rendering="crispEdges"/>
<rect x="95.3" y="215.3" width="17.4" height="17.4" fill="rgb(21,21,21)" shape-rendering="crispEdges"/>
<rect x="112.2" y="215.3" width="17.4" height="17.4" fill="rgb(22,22,22)" shape-rendering="crispEdges"/>
<rect x="129.0" y="215.3" width="17.4" height="17.4" fill="rgb(24,24,24)" shape-rendering="crispEdges"/>
<rect x="145.8" y="215.3" width="17.4" height="17.4" fill="rgb(27,27,27)" shape-rendering="crispEdges"/>
<rect x="162.7" y="215.3" width="17.4" height="17.4" fill="rgb(30,30,30)" shape-rendering="crispEdges"/>
<rect x="179.5" y="215.3" width="17.4" height="17.4" fill="rgb(33,33,33)" shape-rendering="crispEdges"/>
<rect x="196.3" y="215.3" width="17.4" height="17.4" fill="rgb(37,37,37)" shape-rendering="crispEdges"/>
<rect x="213.2" y="215.3" width="17.4" height="17.4" fill="rgb(40,40,40)" shape-rendering="crispEdges"/>
<rect x="230.0" y="215.3" width="17.4" height="17.4" fill="rgb(43,43,43)" shape-rendering="crispEdges"/>
<rect x="246.8" y="215.3" width="17.4" height="17.4" fill="rgb(47,47,47)" shape-rendering="crispEdges"/>
<rect x="263.7" y="215.3" width="17.4" height="17.4" fill="rgb(51,51,51)" shape-rendering="crispEdges"/>
<rect x="280.5" y="215.3" width="17.4" height="17.4" fill="rgb(55,55,55)" shape-rendering="crispEdges"/>
<rect x="297.3" y="215.3" width="17.4" height="17.4" fill="rgb(59,59,59)" shape-rendering="crispEdges"/>
<rect x="314.2" y="215.3" width="17.4" height="17.4" fill="rgb(63,63,63)" shape-rendering="crispEdges"/>
<rect x="331.0" y="215.3" width="17.4" height="17.4" fill="rgb(66,66,66)" shape-rendering="crispEdges"/>
<rect x="347.8" y="215.3" width="17.4" height="17.4" fill="rgb(68,68,68)" shape-rendering="crispEdges"/>
<rect x="364.7" y="215.3" width="17.4" height="17.4" fill="rgb(70,70,70)" shape-rendering="crispEdges"/>
<rect x="381.5" y="215.3" width="17.4" height="17.4" fill="rgb(72,72,72)" shape-rendering="crispEdges"/>
<rect x="398.3" y="215.3" width="17.4" height="17.4" fill="rgb(75,75,75)" shape-rendering="crispEdges"/>
<rect x="415.2" y="215.3" width="17.4" height="17.4" fill="rgb(77,77,77)" shape-rendering="crispEdges"/>
<rect x="432.0" y="215.3" width="17.4" height="17.4" fill="rgb(78,78,78)" shape-rendering="crispEdges"/>
<rect x="448.8" y="215.3" width="17.4" height="17.4" fill="rgb(78,78,78)" shape-rendering="crispEdges"/>
<rect x="-5.7" y="232.2" width="17.4" height="17.4" fill="rgb(18,18,18)" shape-rendering="crispEdges"/>
<rect x="11.2" y="232.2" width="17.4" height="17.4" fill="rgb(18,18,18)" shape-rendering="crispEdges"/>
<rect x="28.0" y="232.2" width="17.4" height="17.4" fill="rgb(19,19,19)" shape-rendering="crispEdges"/>
<rect x="44.8" y="232.2" width="17.4" height="17.4" fill="rgb(19,19,19)" shape-rendering="crispEdges"/>
<rect x="61.7" y="232.2" width="17.4" height="17.4" fill="rgb(19,19,19)" shape-rendering="crispEdges"/>
<rect x="78.5" y="232.2" width="17.4" height="17.4" fill="rgb(20,20,20)" shape-rendering="crispEdges"/>
<rect x="95.3" y="232.2" width="17.4" height="17.4" fill="rgb(20,20,20)" shape-rendering="crispEdges"/>
<rect x="112.2" y="232.2" width="17.4" height="17.4" fill="rgb(20,20,20)" shape-rendering="crispEdges"/>
<rect x="129.0" y="232.2" width="17.4" height="17.4" fill="rgb(22,22,22)" shape-rendering="crispEdges"/>
<rect x="145.8" y="232.2" width="17.4" height="17.4" fill="rgb(26,26,26)" shape-rendering="crispEdges"/>
<rect x="162.7" y="232.2" width="17.4" height="17.4" fill="rgb(29,29,29)" shape-rendering="crispEdges"/>
<rect x="179.5" y="232.2" width="17.4" height="17.4" fill="rgb(32,32,32)" shape-rendering="crispEdges"/>
<rect x="196.3" y="232.2" width="17.4" height="17.4" fill="rgb(36,36,36)" shape-rendering="crispEdges"/>
<rect x="213.2" y="232.2" width="17.4" height="17.4" fill="rgb(39,39,39)" shape-rendering="crispEdges"/>
<rect x="230.0" y="232.2" width="17.4" height="17.4" fill="rgb(42,42,42)" shape-rendering="crispEdges"/>
<rect x="246.8" y="232.2" width="17.4" height="17.4" fill="rgb(46,46,46)" shape-rendering="crispEdges"/>
<rect x="263.7" y="232.2" width="17.4" height="17.4" fill="rgb(50,50,50)" shape-rendering="crispEdges"/>
<rect x="280.5" y="232.2" width="17.4" height="17.4" fill="rgb(54,54,54)" shape-rendering="crispEdges"/>
<rect x="297.3" y="232.2" width="17.4" height="17.4" fill="rgb(57,57,57)" shape-rendering="crispEdges"/>
<rect x="314.2" y="232.2" width="17.4" height="17.4" fill="rgb(61,61,61)" shape-rendering="crispEdges"/>
<rect x="331.0" y="232.2" width="17.4" height="17.4" fill="rgb(64,64,64)" shape-rendering="crispEdges"/>
<rect x="347.8" y="232.2" width="17.4" height="17.4" fill="rgb(66,66,66)" shape-rendering="crispEdges"/>
<rect x="364.7" y="232.2" width="17.4" height="17.4" fill="rgb(69,69,69)" shape-rendering="crispEdges"/>
<rect x="381.5" y="232.2" width="17.4" height="17.4" fill="rgb(71,71,71)" shape-rendering="crispEdges"/>
<rect x="398.3" y="232.2" width="17.4" height="17.4" fill="rgb(73,73,73)" shape-rendering="crispEdges"/>
<rect x="415.2" y="232.2" width="17.4" height="17.4" fill="rgb(76,76,76)" shape-rendering="crispEdges"/>
<rect x="432.0" y="232.2" width="17.4" height="17.4" fill="rgb(77,77,77)" shape-rendering="crispEdges"/>
<rect x="448.8" y="232.2" width="17.4" height="17.4" fill="rgb(77,77,77)" shape-rendering="crispEdges"/>
<rect x="-5.7" y="249.0" width="17.4" height="17.4" fill="rgb(18,18,18)" shape-rendering="crispEdges"/>
<rect x="11.2" y="249.0" width="17.4" height="17.4" fill="rgb(18,18,18)" shape-rendering="crispEdges"/>
<rect x="28.0" y="249.0" width="17.4" height="17.4" fill="rgb(18,18,18)" shape-rendering="crispEdges"/>
<rect x="44.8" y="249.0" width="17.4" height="17.4" fill="rgb(18,18,18)" shape-rendering="crispEdges"/>
<rect x="61.7" y="249.0" width="17.4" height="17.4" fill="rgb(19,19,19)" shape-rendering="crispEdges"/>
<rect x="78.5" y="249.0" width="17.4" height="17.4" fill="rgb(19,19,19)" shape-rendering="crispEdges"/>
<rect x="95.3" y="249.0" width="17.4" height="17.4" fill="rgb(19,19,19)" shape-rendering="crispEdges"/>
<rect x="112.2" y="249.0" width="17.4" height="17.4" fill="rgb(20,20,20)" shape-rendering="crispEdges"/>
<rect x="129.0" y="249.0" width="17.4" height="17.4" fill="rgb(21,21,21)" shape-rendering="crispEdges"/>
<rect x="145.8" y="249.0" width="17.4" height="17.4" fill="rgb(25,25,25)" shape-rendering="crispEdges"/>
<rect x="162.7" y="249.0" width="17.4" height="17.4" fill="rgb(28,28,28)" shape-rendering="crispEdges"/>
<rect x="179.5" y="249.0" width="17.4" height="17.4" fill="rgb(31,31,31)" shape-rendering="crispEdges"/>
<rect x="196.3" y="249.0" width="17.4" height="17.4" fill="rgb(34,34,34)" shape-rendering="crispEdges"/>
<rect x="213.2" y="249.0" width="17.4" height="17.4" fill="rgb(38,38,38)" shape-rendering="crispEdges"/>
<rect x="230.0" y="249.0" width="17.4" height="17.4" fill="rgb(41,41,41)" shape-rendering="crispEdges"/>
<rect x="246.8" y="249.0" width="17.4" height="17.4" fill="rgb(45,45,45)" shape-rendering="crispEdges"/>
<rect x="263.7" y="249.0" width="17.4" height="17.4" fill="rgb(49,49,49)" shape-rendering="crispEdges"/>
<rect x="280.5" y="249.0" width="17.4" height="17.4" fill="rgb(52,52,52)" shape-rendering="crispEdges"/>
<rect x="297.3" y="249.0" width="17.4" height="17.4" fill="rgb(56,56,56)" shape-rendering="crispEdges"/>
<rect x="314.2" y="249.0" width="17.4" height="17.4" fill="rgb(59,59,59)" shape-rendering="crispEdges"/>
<rect x="331.0" y="249.0" width="17.4" height="17.4" fill="rgb(62,62,62)" shape-rendering="crispEdges"/>
<rect x="347.8" y="249.0" width="17.4" height="17.4" fill="rgb(65,65,65)" shape-rendering="crispEdges"/>
<rect x="364.7" y="249.0" width="17.4" height="17.4" fill="rgb(67,67,67)" shape-rendering="crispEdges"/>
<rect x="381.5" y="249.0" width="17.4" height="17.4" fill="rgb(69,69,69)" shape-rendering="crispEdges"/>
<rect x="398.3" y="249.0" width="17.4" height="17.4" fill="rgb(72,72,72)" shape-rendering="crispEdges"/>
<rect x="415.2" y="249.0" width="17.4" height="17.4" fill="rgb(74,74,74)" shape-rendering="crispEdges"/>
<rect x="432.0" y="249.0" width="17.4" height="17.4" fill="rgb(75,75,75)" shape-rendering="crispEdges"/>
<rect x="448.8" y="249.0" width="17.4" height="17.4" fill="rgb(75,75,75)" shape-rendering="crispEdges"/>
<rect x="-5.7" y="265.8" width="17.4" height="17.4" fill="rgb(17,17,17)" shape-rendering="crispEdges"/>
<rect x="11.2" y="265.8" width="17.4" height="17.4" fill="rgb(17,17,17)" shape-rendering="crispEdges"/>
<rect x="28.0" y="265.8" width="17.4" height="17.4" fill="rgb(17,17,17)" shape-rendering="crispEdges"/>
<rect x="44.8" y="265.8" width="17.4" height="17.4" fill="rgb(18,18,18)" shape-rendering="crispEdges"/>
<rect x="61.7" y="265.8" width="17.4" height="17.4" fill="rgb(18,18,18)" shape-rendering="crispEdges"/>
<rect x="78.5" y="265.8" width="17.4" height="17.4" fill="rgb(18,18,18)" shape-rendering="crispEdges"/>
<rect x="95.3" y="265.8" width="17.4" height="17.4" fill="rgb(19,19,19)" shape-rendering="crispEdges"/>
<rect x="112.2" y="265.8" width="17.4" height="17.4" fill="rgb(19,19,19)" shape-rendering="crispEdges"/>
<rect x="129.0" y="265.8" width="17.4" height="17.4" fill="rgb(21,21,21)" shape-rendering="crispEdges"/>
<rect x="145.8" y="265.8" width="17.4" height="17.4" fill="rgb(24,24,24)" shape-rendering="crispEdges"/>
<rect x="162.7" y="265.8" width="17.4" height="17.4" fill="rgb(27,27,27)" shape-rendering="crispEdges"/>
<rect x="179.5" y="265.8" width="17.4" height="17.4" fill="rgb(30,30,30)" shape-rendering="crispEdges"/>
<rect x="196.3" y="265.8" width="17.4" height="17.4" fill="rgb(34,34,34)" shape-rendering="crispEdges"/>
<rect x="213.2" y="265.8" width="17.4" height="17.4" fill="rgb(37,37,37)" shape-rendering="crispEdges"/>
<rect x="230.0" y="265.8" width="17.4" height="17.4" fill="rgb(40,40,40)" shape-rendering="crispEdges"/>
<rect x="246.8" y="265.8" width="17.4" height="17.4" fill="rgb(44,44,44)" shape-rendering="crispEdges"/>
<rect x="263.7" y="265.8" width="17.4" height="17.4" fill="rgb(47,47,47)" shape-rendering="crispEdges"/>
<rect x="280.5" y="265.8" width="17.4" height="17.4" fill="rgb(51,51,51)" shape-rendering="crispEdges"/>
<rect x="297.3" y="265.8" width="17.4" height="17.4" fill="rgb(54,54,54)" shape-rendering="crispEdges"/>
<rect x="314.2" y="265.8" width="17.4" height="17.4" fill="rgb(58,58,58)" shape-rendering="crispEdges"/>
<rect x="331.0" y="265.8" width="17.4" height="17.4" fill="rgb(61,61,61)" shape-rendering="crispEdges"/>
<rect x="347.8" y="265.8" width="17.4" height="17.4" fill="rgb(63,63,63)" shape-rendering="crispEdges"/>
<rect x="364.7" y="265.8" width="17.4" height="17.4" fill="rgb(66,66,66)" shape-rendering="crispEdges"/>
<rect x="381.5" y="265.8" width="17.4" height="17.4" fill="rgb(68,68,68)" shape-rendering="crispEdges"/>
<rect x="398.3" y="265.8" width="17.4" height="17.4" fill="rgb(70,70,70)" shape-rendering="crispEdges"/>
<rect x="415.2" y="265.8" width="17.4" height="17.4" fill="rgb(73,73,73)" shape-rendering="crispEdges"/>
<rect x="432.0" y="265.8" width="17.4" height="17.4" fill="rgb(74,74,74)" shape-rendering="crispEdges"/>
<rect x="448.8" y="265.8" width="17.4" height="17.4" fill="rgb(74,74,74)" shape-rendering="crispEdges"/>
<rect x="-5.7" y="282.7" width="17.4" height="17.4" fill="rgb(17,17,17)" shape-rendering="crispEdges"/>
<rect x="11.2" y="282.7" width="17.4" height="17.4" fill="rgb(17,17,17)" shape-rendering="crispEdges"/>
<rect x="28.0" y="282.7" width="17.4" height="17.4" fill="rgb(17,17,17)" shape-rendering="crispEdges"/>
<rect x="44.8" y="282.7" width="17.4" height="17.4" fill="rgb(17,17,17)" shape-rendering="crispEdges"/>
<rect x="61.7" y="282.7" width="17.4" height="17.4" fill="rgb(18,18,18)" shape-rendering="crispEdges"/>
<rect x="78.5" y="282.7" width="17.4" height="17.4" fill="rgb(18,18,18)" shape-rendering="crispEdges"/>
<rect x="95.3" y="282.7" width="17.4" height="17.4" fill="rgb(18,18,18)" shape-rendering="crispEdges"/>
<rect x="112.2" y="282.7" width="17.4" height="17.4" fill="rgb(19,19,19)" shape-rendering="crispEdges"/>
<rect x="129.0" y="282.7" width="17.4" height="17.4" fill="rgb(20,20,20)" shape-rendering="crispEdges"/>
<rect x="145.8" y="282.7" width="17.4" height="17.4" fill="rgb(23,23,23)" shape-rendering="crispEdges"/>
<rect x="162.7" y="282.7" width="17.4" height="17.4" fill="rgb(26,26,26)" shape-rendering="crispEdges"/>
<rect x="179.5" y="282.7" width="17.4" height="17.4" fill="rgb(29,29,29)" shape-rendering="crispEdges"/>
<rect x="196.3" y="282.7" width="17.4" height="17.4" fill="rgb(32,32,32)" shape-rendering="crispEdges"/>
<rect x="213.2" y="282.7" width="17.4" height="17.4" fill="rgb(36,36,36)" shape-rendering="crispEdges"/>
<rect x="230.0" y="282.7" width="17.4" height="17.4" fill="rgb(39,39,39)" shape-rendering="crispEdges"/>
<rect x="246.8" y="282.7" width="17.4" height="17.4" fill="rgb(42,42,42)" shape-rendering="crispEdges"/>
<rect x="263.7" y="282.7" width="17.4" height="17.4" fill="rgb(46,46,46)" shape-rendering="crispEdges"/>
<rect x="280.5" y="282.7" width="17.4" height="17.4" fill="rgb(49,49,49)" shape-rendering="crispEdges"/>
<rect x="297.3" y="282.7" width="17.4" height="17.4" fill="rgb(53,53,53)" shape-rendering="crispEdges"/>
<rect x="314.2" y="282.7" width="17.4" height="17.4" fill="rgb(56,56,56)" shape-rendering="crispEdges"/>
<rect x="331.0" y="282.7" width="17.4" height="17.4" fill="rgb(59,59,59)" shape-rendering="crispEdges"/>
<rect x="347.8" y="282.7" width="17.4" height="17.4" fill="rgb(62,62,62)" shape-rendering="crispEdges"/>
<rect x="364.7" y="282.7" width="17.4" height="17.4" fill="rgb(64,64,64)" shape-rendering="crispEdges"/>
<rect x="381.5" y="282.7" width="17.4" height="17.4" fill="rgb(67,67,67)" shape-rendering="crispEdges"/>
<rect x="398.3" y="282.7" width="17.4" height="17.4" fill="rgb(69,69,69)" shape-rendering="crispEdges"/>
<rect x="415.2" y="282.7" width="17.4" height="17.4" fill="rgb(71,71,71)" shape-rendering="crispEdges"/>
<rect x="432.0" y="282.7" width="17.4" height="17.4" fill="rgb(73,73,73)" shape-rendering="crispEdges"/>
<rect x="448.8" y="282.7" width="17.4" height="17.4" fill="rgb(73,73,73)" shape-rendering="crispEdges"/>
<rect x="-5.7" y="299.5" width="17.4" height="17.4" fill="rgb(16,16,16)" shape-rendering="crispEdges"/>
<rect x="11.2" y="299.5" width="17.4" height="17.4" fill="rgb(16,16,16)" shape-rendering="crispEdges"/>
<rect x="28.0" y="299.5" width="17.4" height="17.4" fill="rgb(16,16,16)" shape-rendering="crispEdges"/>
<rect x="44.8" y="299.5" width="17.4" height="17.4" fill="rgb(17,17,17)" shape-rendering="crispEdges"/>
<rect x="61.7" y="299.5" width="17.4" height="17.4" fill="rgb(17,17,17)" shape-rendering="crispEdges"/>
<rect x="78.5" y="299.5" width="17.4" height="17.4" fill="rgb(17,17,17)" shape-rendering="crispEdges"/>
<rect x="95.3" y="299.5" width="17.4" height="17.4" fill="rgb(18,18,18)" shape-rendering="crispEdges"/>
<rect x="112.2" y="299.5" width="17.4" height="17.4" fill="rgb(18,18,18)" shape-rendering="crispEdges"/>
<rect x="129.0" y="299.5" width="17.4" height="17.4" fill="rgb(20,20,20)" shape-rendering="crispEdges"/>
<rect x="145.8" y="299.5" width="17.4" height="17.4" fill="rgb(23,23,23)" shape-rendering="crispEdges"/>
<rect x="162.7" y="299.5" width="17.4" height="17.4" fill="rgb(26,26,26)" shape-rendering="crispEdges"/>
<rect x="179.5" y="299.5" width="17.4" height="17.4" fill="rgb(29,29,29)" shape-rendering="crispEdges"/>
<rect x="196.3" y="299.5" width="17.4" height="17.4" fill="rgb(32,32,32)" shape-rendering="crispEdges"/>
<rect x="213.2" y="299.5" width="17.4" height="17.4" fill="rgb(34,34,34)" shape-rendering="crispEdges"/>
<rect x="230.0" y="299.5" width="17.4" height="17.4" fill="rgb(38,38,38)" shape-rendering="crispEdges"/>
<rect x="246.8" y="299.5" width="17.4" height="17.4" fill="rgb(41,41,41)" shape-rendering="crispEdges"/>
<rect x="263.7" y="299.5" width="17.4" height="17.4" fill="rgb(45,45,45)" shape-rendering="crispEdges"/>
<rect x="280.5" y="299.5" width="17.4" height="17.4" fill="rgb(48,48,48)" shape-rendering="crispEdges"/>
<rect x="297.3" y="299.5" width="17.4" height="17.4" fill="rgb(52,52,52)" shape-rendering="crispEdges"/>
<rect x="314.2" y="299.5" width="17.4" height="17.4" fill="rgb(55,55,55)" shape-rendering="crispEdges"/>
<rect x="331.0" y="299.5" width="17.4" height="17.4" fill="rgb(58,58,58)" shape-rendering="crispEdges"/>
<rect x="347.8" y="299.5" width="17.4" height="17.4" fill="rgb(60,60,60)" shape-rendering="crispEdges"/>
<rect x="364.7" y="299.5" width="17.4" height="17.4" fill="rgb(63,63,63)" shape-rendering="crispEdges"/>
<rect x="381.5" y="299.5" width="17.4" height="17.4" fill="rgb(65,65,65)" shape-rendering="crispEdges"/>
<rect x="398.3" y="299.5" width="17.4" height="17.4" fill="rgb(68,68,68)" shape-rendering="crispEdges"/>
<rect x="415.2" y="299.5" width="17.4" height="17.4" fill="rgb(70,70,70)" shape-rendering="crispEdges"/>
<rect x="432.0" y="299.5" width="17.4" height="17.4" fill="rgb(71,71,71)" shape-rendering="crispEdges"/>
<rect x="448.8" y="299.5" width="17.4" height="17.4" fill="rgb(71,71,71)" shape-rendering="crispEdges"/>
<rect x="-5.7" y="316.3" width="17.4" height="17.4" fill="rgb(16,16,16)" shape-rendering="crispEdges"/>
<rect x="11.2" y="316.3" width="17.4" height="17.4" fill="rgb(16,16,16)" shape-rendering="crispEdges"/>
<rect x="28.0" y="316.3" width="17.4" height="17.4" fill="rgb(16,16,16)" shape-rendering="crispEdges"/>
<rect x="44.8" y="316.3" width="17.4" height="17.4" fill="rgb(16,16,16)" shape-rendering="crispEdges"/>
<rect x="61.7" y="316.3" width="17.4" height="17.4" fill="rgb(17,17,17)" shape-rendering="crispEdges"/>
<rect x="78.5" y="316.3" width="17.4" height="17.4" fill="rgb(17,17,17)" shape-rendering="crispEdges"/>
<rect x="95.3" y="316.3" width="17.4" height="17.4" fill="rgb(17,17,17)" shape-rendering="crispEdges"/>
<rect x="112.2" y="316.3" width="17.4" height="17.4" fill="rgb(18,18,18)" shape-rendering="crispEdges"/>
<rect x="129.0" y="316.3" width="17.4" height="17.4" fill="rgb(19,19,19)" shape-rendering="crispEdges"/>
<rect x="145.8" y="316.3" width="17.4" height="17.4" fill="rgb(22,22,22)" shape-rendering="crispEdges"/>
<rect x="162.7" y="316.3" width="17.4" height="17.4" fill="rgb(25,25,25)" shape-rendering="crispEdges"/>
<rect x="179.5" y="316.3" width="17.4" height="17.4" fill="rgb(28,28,28)" shape-rendering="crispEdges"/>
<rect x="196.3" y="316.3" width="17.4" height="17.4" fill="rgb(30,30,30)" shape-rendering="crispEdges"/>
<rect x="213.2" y="316.3" width="17.4" height="17.4" fill="rgb(33,33,33)" shape-rendering="crispEdges"/>
<rect x="230.0" y="316.3" width="17.4" height="17.4" fill="rgb(36,36,36)" shape-rendering="crispEdges"/>
<rect x="246.8" y="316.3" width="17.4" height="17.4" fill="rgb(40,40,40)" shape-rendering="crispEdges"/>
<rect x="263.7" y="316.3" width="17.4" height="17.4" fill="rgb(43,43,43)" shape-rendering="crispEdges"/>
<rect x="280.5" y="316.3" width="17.4" height="17.4" fill="rgb(47,47,47)" shape-rendering="crispEdges"/>
<rect x="297.3" y="316.3" width="17.4" height="17.4" fill="rgb(50,50,50)" shape-rendering="crispEdges"/>
<rect x="314.2" y="316.3" width="17.4" height="17.4" fill="rgb(54,54,54)" shape-rendering="crispEdges"/>
<rect x="331.0" y="316.3" width="17.4" height="17.4" fill="rgb(56,56,56)" shape-rendering="crispEdges"/>
<rect x="347.8" y="316.3" width="17.4" height="17.4" fill="rgb(59,59,59)" shape-rendering="crispEdges"/>
<rect x="364.7" y="316.3" width="17.4" height="17.4" fill="rgb(61,61,61)" shape-rendering="crispEdges"/>
<rect x="381.5" y="316.3" width="17.4" height="17.4" fill="rgb(64,64,64)" shape-rendering="crispEdges"/>
<rect x="398.3" y="316.3" width="17.4" height="17.4" fill="rgb(66,66,66)" shape-rendering="crispEdges"/>
<rect x="415.2" y="316.3" width="17.4" height="17.4" fill="rgb(69,69,69)" shape-rendering="crispEdges"/>
<rect x="432.0" y="316.3" width="17.4" height="17.4" fill="rgb(70,70,70)" shape-rendering="crispEdges"/>
<rect x="448.8" y="316.3" width="17.4" height="17.4" fill="rgb(70,70,70)" shape-rendering="crispEdges"/>
<rect x="-5.7" y="333.2" width="17.4" height="17.4" fill="rgb(15,15,15)" shape-rendering="crispEdges"/>
<rect x="11.2" y="333.2" width="17.4" height="17.4" fill="rgb(15,15,15)" shape-rendering="crispEdges"/>
<rect x="28.0" y="333.2" width="17.4" height="17.4" fill="rgb(15,15,15)" shape-rendering="crispEdges"/>
<rect x="44.8" y="333.2" width="17.4" height="17.4" fill="rgb(16,16,16)" shape-rendering="crispEdges"/>
<rect x="61.7" y="333.2" width="17.4" height="17.4" fill="rgb(16,16,16)" shape-rendering="crispEdges"/>
<rect x="78.5" y="333.2" width="17.4" height="17.4" fill="rgb(16,16,16)" shape-rendering="crispEdges"/>
<rect x="95.3" y="333.2" width="17.4" height="17.4" fill="rgb(17,17,17)" shape-rendering="crispEdges"/>
<rect x="112.2" y="333.2" width="17.4" height="17.4" fill="rgb(17,17,17)" shape-rendering="crispEdges"/>
<rect x="129.0" y="333.2" width="17.4" height="17.4" fill="rgb(19,19,19)" shape-rendering="crispEdges"/>
<rect x="145.8" y="333.2" width="17.4" height="17.4" fill="rgb(21,21,21)" shape-rendering="crispEdges"/>
<rect x="162.7" y="333.2" width="17.4" height="17.4" fill="rgb(24,24,24)" shape-rendering="crispEdges"/>
<rect x="179.5" y="333.2" width="17.4" height="17.4" fill="rgb(27,27,27)" shape-rendering="crispEdges"/>
<rect x="196.3" y="333.2" width="17.4" height="17.4" fill="rgb(30,30,30)" shape-rendering="crispEdges"/>
<rect x="213.2" y="333.2" width="17.4" height="17.4" fill="rgb(32,32,32)" shape-rendering="crispEdges"/>
<rect x="230.0" y="333.2" width="17.4" height="17.4" fill="rgb(35,35,35)" shape-rendering="crispEdges"/>
<rect x="246.8" y="333.2" width="17.4" height="17.4" fill="rgb(39,39,39)" shape-rendering="crispEdges"/>
<rect x="263.7" y="333.2" width="17.4" height="17.4" fill="rgb(42,42,42)" shape-rendering="crispEdges"/>
<rect x="280.5" y="333.2" width="17.4" height="17.4" fill="rgb(45,45,45)" shape-rendering="crispEdges"/>
<rect x="297.3" y="333.2" width="17.4" height="17.4" fill="rgb(49,49,49)" shape-rendering="crispEdges"/>
<rect x="314.2" y="333.2" width="17.4" height="17.4" fill="rgb(52,52,52)" shape-rendering="crispEdges"/>
<rect x="331.0" y="333.2" width="17.4" height="17.4" fill="rgb(55,55,55)" shape-rendering="crispEdges"/>
<rect x="347.8" y="333.2" width="17.4" height="17.4" fill="rgb(57,57,57)" shape-rendering="crispEdges"/>
<rect x="364.7" y="333.2" width="17.4" height="17.4" fill="rgb(60,60,60)" shape-rendering="crispEdges"/>
<rect x="381.5" y="333.2" width="17.4" height="17.4" fill="rgb(62,62,62)" shape-rendering="crispEdges"/>
<rect x="398.3" y="333.2" width="17.4" height="17.4" fill="rgb(65,65,65)" shape-rendering="crispEdges"/>
<rect x="415.2" y="333.2" width="17.4" height="17.4" fill="rgb(67,67,67)" shape-rendering="crispEdges"/>
<rect x="432.0" y="333.2" width="17.4" height="17.4" fill="rgb(69,69,69)" shape-rendering="crispEdges"/>
<rect x="448.8" y="333.2" width="17.4" height="17.4" fill="rgb(69,69,69)" shape-rendering="crispEdges"/>
<rect x="-5.7" y="350.0" width="17.4" height="17.4" fill="rgb(15,15,15)" shape-rendering="crispEdges"/>
<rect x="11.2" y="350.0" width="17.4" height="17.4" fill="rgb(15,15,15)" shape-rendering="crispEdges"/>
<rect x="28.0" y="350.0" width="17.4" height="17.4" fill="rgb(15,15,15)" shape-rendering="crispEdges"/>
<rect x="44.8" y="350.0" width="17.4" height="17.4" fill="rgb(15,15,15)" shape-rendering="crispEdges"/>
<rect x="61.7" y="350.0" width="17.4" height="17.4" fill="rgb(16,16,16)" shape-rendering="crispEdges"/>
<rect x="78.5" y="350.0" width="17.4" height="17.4" fill="rgb(16,16,16)" shape-rendering="crispEdges"/>
<rect x="95.3" y="350.0" width="17.4" height="17.4" fill="rgb(16,16,16)" shape-rendering="crispEdges"/>
<rect x="112.2" y="350.0" width="17.4" height="17.4" fill="rgb(17,17,17)" shape-rendering="crispEdges"/>
<rect x="129.0" y="350.0" width="17.4" height="17.4" fill="rgb(18,18,18)" shape-rendering="crispEdges"/>
<rect x="145.8" y="350.0" width="17.4" height="17.4" fill="rgb(21,21,21)" shape-rendering="crispEdges"/>
<rect x="162.7" y="350.0" width="17.4" height="17.4" fill="rgb(23,23,23)" shape-rendering="crispEdges"/>
<rect x="179.5" y="350.0" width="17.4" height="17.4" fill="rgb(26,26,26)" shape-rendering="crispEdges"/>
<rect x="196.3" y="350.0" width="17.4" height="17.4" fill="rgb(29,29,29)" shape-rendering="crispEdges"/>
<rect x="213.2" y="350.0" width="17.4" height="17.4" fill="rgb(31,31,31)" shape-rendering="crispEdges"/>
<rect x="230.0" y="350.0" width="17.4" height="17.4" fill="rgb(34,34,34)" shape-rendering="crispEdges"/>
<rect x="246.8" y="350.0" width="17.4" height="17.4" fill="rgb(38,38,38)" shape-rendering="crispEdges"/>
<rect x="263.7" y="350.0" width="17.4" height="17.4" fill="rgb(41,41,41)" shape-rendering="crispEdges"/>
<rect x="280.5" y="350.0" width="17.4" height="17.4" fill="rgb(44,44,44)" shape-rendering="crispEdges"/>
<rect x="297.3" y="350.0" width="17.4" height="17.4" fill="rgb(47,47,47)" shape-rendering="crispEdges"/>
<rect x="314.2" y="350.0" width="17.4" height="17.4" fill="rgb(51,51,51)" shape-rendering="crispEdges"/>
<rect x="331.0" y="350.0" width="17.4" height="17.4" fill="rgb(54,54,54)" shape-rendering="crispEdges"/>
<rect x="347.8" y="350.0" width="17.4" height="17.4" fill="rgb(56,56,56)" shape-rendering="crispEdges"/>
<rect x="364.7" y="350.0" width="17.4" height="17.4" fill="rgb(59,59,59)" shape-rendering="crispEdges"/>
<rect x="381.5" y="350.0" width="17.4" height="17.4" fill="rgb(61,61,61)" shape-rendering="crispEdges"/>
<rect x="398.3" y="350.0" width="17.4" height="17.4" fill="rgb(64,64,64)" shape-rendering="crispEdges"/>
<rect x="415.2" y="350.0" width="17.4" height="17.4" fill="rgb(66,66,66)" shape-rendering="crispEdges"/>
<rect x="432.0" y="350.0" width="17.4" height="17.4" fill="rgb(67,67,67)" shape-rendering="crispEdges"/>
<rect x="448.8" y="350.0" width="17.4" height="17.4" fill="rgb(67,67,67)" shape-rendering="crispEdges"/>
<rect x="-5.7" y="366.8" width="17.4" height="17.4" fill="rgb(15,15,15)" shape-rendering="crispEdges"/>
<rect x="11.2" y="366.8" width="17.4" height="17.4" fill="rgb(15,15,15)" shape-rendering="crispEdges"/>
<rect x="28.0" y="366.8" width="17.4" height="17.4" fill="rgb(15,15,15)" shape-rendering="crispEdges"/>
<rect x="44.8" y="366.8" width="17.4" height="17.4" fill="rgb(15,15,15)" shape-rendering="crispEdges"/>
<rect x="61.7" y="366.8" width="17.4" height="17.4" fill="rgb(16,16,16)" shape-rendering="crispEdges"/>
<rect x="78.5" y="366.8" width="17.4" height="17.4" fill="rgb(16,16,16)" shape-rendering="crispEdges"/>
<rect x="95.3" y="366.8" width="17.4" height="17.4" fill="rgb(16,16,16)" shape-rendering="crispEdges"/>
<rect x="112.2" y="366.8" width="17.4" height="17.4" fill="rgb(17,17,17)" shape-rendering="crispEdges"/>
<rect x="129.0" y="366.8" width="17.4" height="17.4" fill="rgb(18,18,18)" shape-rendering="crispEdges"/>
<rect x="145.8" y="366.8" width="17.4" height="17.4" fill="rgb(20,20,20)" shape-rendering="crispEdges"/>
<rect x="162.7" y="366.8" width="17.4" height="17.4" fill="rgb(23,23,23)" shape-rendering="crispEdges"/>
<rect x="179.5" y="366.8" width="17.4" height="17.4" fill="rgb(25,25,25)" shape-rendering="crispEdges"/>
<rect x="196.3" y="366.8" width="17.4" height="17.4" fill="rgb(28,28,28)" shape-rendering="crispEdges"/>
<rect x="213.2" y="366.8" width="17.4" height="17.4" fill="rgb(31,31,31)" shape-rendering="crispEdges"/>
<rect x="230.0" y="366.8" width="17.4" height="17.4" fill="rgb(33,33,33)" shape-rendering="crispEdges"/>
<rect x="246.8" y="366.8" width="17.4" height="17.4" fill="rgb(37,37,37)" shape-rendering="crispEdges"/>
<rect x="263.7" y="366.8" width="17.4" height="17.4" fill="rgb(40,40,40)" shape-rendering="crispEdges"/>
<rect x="280.5" y="366.8" width="17.4" height="17.4" fill="rgb(43,43,43)" shape-rendering="crispEdges"/>
<rect x="297.3" y="366.8" width="17.4" height="17.4" fill="rgb(46,46,46)" shape-rendering="crispEdges"/>
<rect x="314.2" y="366.8" width="17.4" height="17.4" fill="rgb(49,49,49)" shape-rendering="crispEdges"/>
<rect x="331.0" y="366.8" width="17.4" height="17.4" fill="rgb(52,52,52)" shape-rendering="crispEdges"/>
<rect x="347.8" y="366.8" width="17.4" height="17.4" fill="rgb(55,55,55)" shape-rendering="crispEdges"/>
<rect x="364.7" y="366.8" width="17.4" height="17.4" fill="rgb(57,57,57)" shape-rendering="crispEdges"/>
<rect x="381.5" y="366.8" width="17.4" height="17.4" fill="rgb(60,60,60)" shape-rendering="crispEdges"/>
<rect x="398.3" y="366.8" width="17.4" height="17.4" fill="rgb(62,62,62)" shape-rendering="crispEdges"/>
<rect x="415.2" y="366.8" width="17.4" height="17.4" fill="rgb(65,65,65)" shape-rendering="crispEdges"/>
<rect x="432.0" y="366.8" width="17.4" height="17.4" fill="rgb(66,66,66)" shape-rendering="crispEdges"/>
<rect x="448.8" y="366.8" width="17.4" height="17.4" fill="rgb(66,66,66)" shape-rendering="crispEdges"/>
<rect x="-5.7" y="383.7" width="17.4" height="17.4" fill="rgb(15,15,15)" shape-rendering="crispEdges"/>
<rect x="11.2" y="383.7" width="17.4" height="17.4" fill="rgb(15,15,15)" shape-rendering="crispEdges"/>
<rect x="28.0" y="383.7" width="17.4" height="17.4" fill="rgb(15,15,15)" shape-rendering="crispEdges"/>
<rect x="44.8" y="383.7" width="17.4" height="17.4" fill="rgb(15,15,15)" shape-rendering="crispEdges"/>
<rect x="61.7" y="383.7" width="17.4" height="17.4" fill="rgb(15,15,15)" shape-rendering="crispEdges"/>
<rect x="78.5" y="383.7" width="17.4" height="17.4" fill="rgb(16,16,16)" shape-rendering="crispEdges"/>
<rect x="95.3" y="383.7" width="17.4" height="17.4" fill="rgb(16,16,16)" shape-rendering="crispEdges"/>
<rect x="112.2" y="383.7" width="17.4" height="17.4" fill="rgb(16,16,16)" shape-rendering="crispEdges"/>
<rect x="129.0" y="383.7" width="17.4" height="17.4" fill="rgb(18,18,18)" shape-rendering="crispEdges"/>
<rect x="145.8" y="383.7" width="17.4" height="17.4" fill="rgb(20,20,20)" shape-rendering="crispEdges"/>
<rect x="162.7" y="383.7" width="17.4" height="17.4" fill="rgb(23,23,23)" shape-rendering="crispEdges"/>
<rect x="179.5" y="383.7" width="17.4" height="17.4" fill="rgb(25,25,25)" shape-rendering="crispEdges"/>
<rect x="196.3" y="383.7" width="17.4" height="17.4" fill="rgb(27,27,27)" shape-rendering="crispEdges"/>
<rect x="213.2" y="383.7" width="17.4" height="17.4" fill="rgb(30,30,30)" shape-rendering="crispEdges"/>
<rect x="230.0" y="383.7" width="17.4" height="17.4" fill="rgb(32,32,32)" shape-rendering="crispEdges"/>
<rect x="246.8" y="383.7" width="17.4" height="17.4" fill="rgb(36,36,36)" shape-rendering="crispEdges"/>
<rect x="263.7" y="383.7" width="17.4" height="17.4" fill="rgb(39,39,39)" shape-rendering="crispEdges"/>
<rect x="280.5" y="383.7" width="17.4" height="17.4" fill="rgb(42,42,42)" shape-rendering="crispEdges"/>
<rect x="297.3" y="383.7" width="17.4" height="17.4" fill="rgb(45,45,45)" shape-rendering="crispEdges"/>
<rect x="314.2" y="383.7" width="17.4" height="17.4" fill="rgb(48,48,48)" shape-rendering="crispEdges"/>
<rect x="331.0" y="383.7" width="17.4" height="17.4" fill="rgb(51,51,51)" shape-rendering="crispEdges"/>
<rect x="347.8" y="383.7" width="17.4" height="17.4" fill="rgb(53,53,53)" shape-rendering="crispEdges"/>
<rect x="364.7" y="383.7" width="17.4" height="17.4" fill="rgb(56,56,56)" shape-rendering="crispEdges"/>
<rect x="381.5" y="383.7" width="17.4" height="17.4" fill="rgb(58,58,58)" shape-rendering="crispEdges"/>
<rect x="398.3" y="383.7" width="17.4" height="17.4" fill="rgb(61,61,61)" shape-rendering="crispEdges"/>
<rect x="415.2" y="383.7" width="17.4" height="17.4" fill="rgb(63,63,63)" shape-rendering="crispEdges"/>
<rect x="432.0" y="383.7" width="17.4" height="17.4" fill="rgb(65,65,65)" shape-rendering="crispEdges"/>
<rect x="448.8" y="383.7" width="17.4" height="17.4" fill="rgb(65,65,65)" shape-rendering="crispEdges"/>
<rect x="-5.7" y="400.5" width="17.4" height="17.4" fill="rgb(14,14,14)" shape-rendering="crispEdges"/>
<rect x="11.2" y="400.5" width="17.4" height="17.4" fill="rgb(14,14,14)" shape-rendering="crispEdges"/>
<rect x="28.0" y="400.5" width="17.4" height="17.4" fill="rgb(15,15,15)" shape-rendering="crispEdges"/>
<rect x="44.8" y="400.5" width="17.4" height="17.4" fill="rgb(15,15,15)" shape-rendering="crispEdges"/>
<rect x="61.7" y="400.5" width="17.4" height="17.4" fill="rgb(15,15,15)" shape-rendering="crispEdges"/>
<rect x="78.5" y="400.5" width="17.4" height="17.4" fill="rgb(16,16,16)" shape-rendering="crispEdges"/>
<rect x="95.3" y="400.5" width="17.4" height="17.4" fill="rgb(16,16,16)" shape-rendering="crispEdges"/>
<rect x="112.2" y="400.5" width="17.4" height="17.4" fill="rgb(16,16,16)" shape-rendering="crispEdges"/>
<rect x="129.0" y="400.5" width="17.4" height="17.4" fill="rgb(18,18,18)" shape-rendering="crispEdges"/>
<rect x="145.8" y="400.5" width="17.4" height="17.4" fill="rgb(20,20,20)" shape-rendering="crispEdges"/>
<rect x="162.7" y="400.5" width="17.4" height="17.4" fill="rgb(22,22,22)" shape-rendering="crispEdges"/>
<rect x="179.5" y="400.5" width="17.4" height="17.4" fill="rgb(24,24,24)" shape-rendering="crispEdges"/>
<rect x="196.3" y="400.5" width="17.4" height="17.4" fill="rgb(27,27,27)" shape-rendering="crispEdges"/>
<rect x="213.2" y="400.5" width="17.4" height="17.4" fill="rgb(29,29,29)" shape-rendering="crispEdges"/>
<rect x="230.0" y="400.5" width="17.4" height="17.4" fill="rgb(32,32,32)" shape-rendering="crispEdges"/>
<rect x="246.8" y="400.5" width="17.4" height="17.4" fill="rgb(35,35,35)" shape-rendering="crispEdges"/>
<rect x="263.7" y="400.5" width="17.4" height="17.4" fill="rgb(38,38,38)" shape-rendering="crispEdges"/>
<rect x="280.5" y="400.5" width="17.4" height="17.4" fill="rgb(41,41,41)" shape-rendering="crispEdges"/>
<rect x="297.3" y="400.5" width="17.4" height="17.4" fill="rgb(44,44,44)" shape-rendering="crispEdges"/>
<rect x="314.2" y="400.5" width="17.4" height="17.4" fill="rgb(47,47,47)" shape-rendering="crispEdges"/>
<rect x="331.0" y="400.5" width="17.4" height="17.4" fill="rgb(50,50,50)" shape-rendering="crispEdges"/>
<rect x="347.8" y="400.5" width="17.4" height="17.4" fill="rgb(52,52,52)" shape-rendering="crispEdges"/>
<rect x="364.7" y="400.5" width="17.4" height="17.4" fill="rgb(55,55,55)" shape-rendering="crispEdges"/>
<rect x="381.5" y="400.5" width="17.4" height="17.4" fill="rgb(57,57,57)" shape-rendering="crispEdges"/>
<rect x="398.3" y="400.5" width="17.4" height="17.4" fill="rgb(60,60,60)" shape-rendering="crispEdges"/>
<rect x="415.2" y="400.5" width="17.4" height="17.4" fill="rgb(62,62,62)" shape-rendering="crispEdges"/>
<rect x="432.0" y="400.5" width="17.4" height="17.4" fill="rgb(63,63,63)" shape-rendering="crispEdges"/>
<rect x="448.8" y="400.5" width="17.4" height="17.4" fill="rgb(63,63,63)" shape-rendering="crispEdges"/>
<rect x="-5.7" y="417.3" width="17.4" height="17.4" fill="rgb(14,14,14)" shape-rendering="crispEdges"/>
<rect x="11.2" y="417.3" width="17.4" height="17.4" fill="rgb(14,14,14)" shape-rendering="crispEdges"/>
<rect x="28.0" y="417.3" width="17.4" height="17.4" fill="rgb(14,14,14)" shape-rendering="crispEdges"/>
<rect x="44.8" y="417.3" width="17.4" height="17.4" fill="rgb(15,15,15)" shape-rendering="crispEdges"/>
<rect x="61.7" y="417.3" width="17.4" height="17.4" fill="rgb(15,15,15)" shape-rendering="crispEdges"/>
<rect x="78.5" y="417.3" width="17.4" height="17.4" fill="rgb(15,15,15)" shape-rendering="crispEdges"/>
<rect x="95.3" y="417.3" width="17.4" height="17.4" fill="rgb(16,16,16)" shape-rendering="crispEdges"/>
<rect x="112.2" y="417.3" width="17.4" height="17.4" fill="rgb(16,16,16)" shape-rendering="crispEdges"/>
<rect x="129.0" y="417.3" width="17.4" height="17.4" fill="rgb(17,17,17)" shape-rendering="crispEdges"/>
<rect x="145.8" y="417.3" width="17.4" height="17.4" fill="rgb(20,20,20)" shape-rendering="crispEdges"/>
<rect x="162.7" y="417.3" width="17.4" height="17.4" fill="rgb(22,22,22)" shape-rendering="crispEdges"/>
<rect x="179.5" y="417.3" width="17.4" height="17.4" fill="rgb(24,24,24)" shape-rendering="crispEdges"/>
<rect x="196.3" y="417.3" width="17.4" height="17.4" fill="rgb(26,26,26)" shape-rendering="crispEdges"/>
<rect x="213.2" y="417.3" width="17.4" height="17.4" fill="rgb(28,28,28)" shape-rendering="crispEdges"/>
<rect x="230.0" y="417.3" width="17.4" height="17.4" fill="rgb(31,31,31)" shape-rendering="crispEdges"/>
<rect x="246.8" y="417.3" width="17.4" height="17.4" fill="rgb(34,34,34)" shape-rendering="crispEdges"/>
<rect x="263.7" y="417.3" width="17.4" height="17.4" fill="rgb(37,37,37)" shape-rendering="crispEdges"/>
<rect x="280.5" y="417.3" width="17.4" height="17.4" fill="rgb(40,40,40)" shape-rendering="crispEdges"/>
<rect x="297.3" y="417.3" width="17.4" height="17.4" fill="rgb(43,43,43)" shape-rendering="crispEdges"/>
<rect x="314.2" y="417.3" width="17.4" height="17.4" fill="rgb(46,46,46)" shape-rendering="crispEdges"/>
<rect x="331.0" y="417.3" width="17.4" height="17.4" fill="rgb(48,48,48)" shape-rendering="crispEdges"/>
<rect x="347.8" y="417.3" width="17.4" height="17.4" fill="rgb(51,51,51)" shape-rendering="crispEdges"/>
<rect x="364.7" y="417.3" width="17.4" height="17.4" fill="rgb(53,53,53)" shape-rendering="crispEdges"/>
<rect x="381.5" y="417.3" width="17.4" height="17.4" fill="rgb(56,56,56)" shape-rendering="crispEdges"/>
<rect x="398.3" y="417.3" width="17.4" height="17.4" fill="rgb(58,58,58)" shape-rendering="crispEdges"/>
<rect x="415.2" y="417.3" width="17.4" height="17.4" fill="rgb(61,61,61)" shape-rendering="crispEdges"/>
<rect x="432.0" y="417.3" width="17.4" height="17.4" fill="rgb(62,62,62)" shape-rendering="crispEdges"/>
<rect x="448.8" y="417.3" width="17.4" height="17.4" fill="rgb(62,62,62)" shape-rendering="crispEdges"/>
<rect x="-5.7" y="434.2" width="17.4" height="17.4" fill="rgb(14,14,14)" shape-rendering="crispEdges"/>
<rect x="11.2" y="434.2" width="17.4" height="17.4" fill="rgb(14,14,14)" shape-rendering="crispEdges"/>
<rect x="28.0" y="434.2" width="17.4" height="17.4" fill="rgb(14,14,14)" shape-rendering="crispEdges"/>
<rect x="44.8" y="434.2" width="17.4" height="17.4" fill="rgb(15,15,15)" shape-rendering="crispEdges"/>
<rect x="61.7" y="434.2" width="17.4" height="17.4" fill="rgb(15,15,15)" shape-rendering="crispEdges"/>
<rect x="78.5" y="434.2" width="17.4" height="17.4" fill="rgb(15,15,15)" shape-rendering="crispEdges"/>
<rect x="95.3" y="434.2" width="17.4" height="17.4" fill="rgb(16,16,16)" shape-rendering="crispEdges"/>
<rect x="112.2" y="434.2" width="17.4" height="17.4" fill="rgb(16,16,16)" shape-rendering="crispEdges"/>
<rect x="129.0" y="434.2" width="17.4" height="17.4" fill="rgb(17,17,17)" shape-rendering="crispEdges"/>
<rect x="145.8" y="434.2" width="17.4" height="17.4" fill="rgb(19,19,19)" shape-rendering="crispEdges"/>
<rect x="162.7" y="434.2" width="17.4" height="17.4" fill="rgb(21,21,21)" shape-rendering="crispEdges"/>
<rect x="179.5" y="434.2" width="17.4" height="17.4" fill="rgb(23,23,23)" shape-rendering="crispEdges"/>
<rect x="196.3" y="434.2" width="17.4" height="17.4" fill="rgb(25,25,25)" shape-rendering="crispEdges"/>
<rect x="213.2" y="434.2" width="17.4" height="17.4" fill="rgb(27,27,27)" shape-rendering="crispEdges"/>
<rect x="230.0" y="434.2" width="17.4" height="17.4" fill="rgb(30,30,30)" shape-rendering="crispEdges"/>
<rect x="246.8" y="434.2" width="17.4" height="17.4" fill="rgb(33,33,33)" shape-rendering="crispEdges"/>
<rect x="263.7" y="434.2" width="17.4" height="17.4" fill="rgb(36,36,36)" shape-rendering="crispEdges"/>
<rect x="280.5" y="434.2" width="17.4" height="17.4" fill="rgb(38,38,38)" shape-rendering="crispEdges"/>
<rect x="297.3" y="434.2" width="17.4" height="17.4" fill="rgb(41,41,41)" shape-rendering="crispEdges"/>
<rect x="314.2" y="434.2" width="17.4" height="17.4" fill="rgb(44,44,44)" shape-rendering="crispEdges"/>
<rect x="331.0" y="434.2" width="17.4" height="17.4" fill="rgb(47,47,47)" shape-rendering="crispEdges"/>
<rect x="347.8" y="434.2" width="17.4" height="17.4" fill="rgb(49,49,49)" shape-rendering="crispEdges"/>
<rect x="364.7" y="434.2" width="17.4" height="17.4" fill="rgb(52,52,52)" shape-rendering="crispEdges"/>
<rect x="381.5" y="434.2" width="17.4" height="17.4" fill="rgb(54,54,54)" shape-rendering="crispEdges"/>
<rect x="398.3" y="434.2" width="17.4" height="17.4" fill="rgb(57,57,57)" shape-rendering="crispEdges"/>
<rect x="415.2" y="434.2" width="17.4" height="17.4" fill="rgb(59,59,59)" shape-rendering="crispEdges"/>
<rect x="432.0" y="434.2" width="17.4" height="17.4" fill="rgb(61,61,61)" shape-rendering="crispEdges"/>
<rect x="448.8" y="434.2" width="17.4" height="17.4" fill="rgb(61,61,61)" shape-rendering="crispEdges"/>
<rect x="-5.7" y="451.0" width="17.4" height="17.4" fill="rgb(14,14,14)" shape-rendering="crispEdges"/>
<rect x="11.2" y="451.0" width="17.4" height="17.4" fill="rgb(14,14,14)" shape-rendering="crispEdges"/>
<rect x="28.0" y="451.0" width="17.4" height="17.4" fill="rgb(14,14,14)" shape-rendering="crispEdges"/>
<rect x="44.8" y="451.0" width="17.4" height="17.4" fill="rgb(14,14,14)" shape-rendering="crispEdges"/>
<rect x="61.7" y="451.0" width="17.4" height="17.4" fill="rgb(15,15,15)" shape-rendering="crispEdges"/>
<rect x="78.5" y="451.0" width="17.4" height="17.4" fill="rgb(15,15,15)" shape-rendering="crispEdges"/>
<rect x="95.3" y="451.0" width="17.4" height="17.4" fill="rgb(16,16,16)" shape-rendering="crispEdges"/>
<rect x="112.2" y="451.0" width="17.4" height="17.4" fill="rgb(16,16,16)" shape-rendering="crispEdges"/>
<rect x="129.0" y="451.0" width="17.4" height="17.4" fill="rgb(17,17,17)" shape-rendering="crispEdges"/>
<rect x="145.8" y="451.0" width="17.4" height="17.4" fill="rgb(19,19,19)" shape-rendering="crispEdges"/>
<rect x="162.7" y="451.0" width="17.4" height="17.4" fill="rgb(21,21,21)" shape-rendering="crispEdges"/>
<rect x="179.5" y="451.0" width="17.4" height="17.4" fill="rgb(23,23,23)" shape-rendering="crispEdges"/>
<rect x="196.3" y="451.0" width="17.4" height="17.4" fill="rgb(25,25,25)" shape-rendering="crispEdges"/>
<rect x="213.2" y="451.0" width="17.4" height="17.4" fill="rgb(27,27,27)" shape-rendering="crispEdges"/>
<rect x="230.0" y="451.0" width="17.4" height="17.4" fill="rgb(29,29,29)" shape-rendering="crispEdges"/>
<rect x="246.8" y="451.0" width="17.4" height="17.4" fill="rgb(32,32,32)" shape-rendering="crispEdges"/>
<rect x="263.7" y="451.0" width="17.4" height="17.4" fill="rgb(35,35,35)" shape-rendering="crispEdges"/>
<rect x="280.5" y="451.0" width="17.4" height="17.4" fill="rgb(38,38,38)" shape-rendering="crispEdges"/>
<rect x="297.3" y="451.0" width="17.4" height="17.4" fill="rgb(41,41,41)" shape-rendering="crispEdges"/>
<rect x="314.2" y="451.0" width="17.4" height="17.4" fill="rgb(44,44,44)" shape-rendering="crispEdges"/>
<rect x="331.0" y="451.0" width="17.4" height="17.4" fill="rgb(46,46,46)" shape-rendering="crispEdges"/>
<rect x="347.8" y="451.0" width="17.4" height="17.4" fill="rgb(49,49,49)" shape-rendering="crispEdges"/>
<rect x="364.7" y="451.0" width="17.4" height="17.4" fill="rgb(51,51,51)" shape-rendering="crispEdges"/>
<rect x="381.5" y="451.0" width="17.4" height="17.4" fill="rgb(54,54,54)" shape-rendering="crispEdges"/>
<rect x="398.3" y="451.0" width="17.4" height="17.4" fill="rgb(56,56,56)" shape-rendering="crispEdges"/>
<rect x="415.2" y="451.0" width="17.4" height="17.4" fill="rgb(59,59,59)" shape-rendering="crispEdges"/>
<rect x="432.0" y="451.0" width="17.4" height="17.4" fill="rgb(60,60,60)" shape-rendering="crispEdges"/>
<rect x="448.8" y="451.0" width="17.4" height="17.4" fill="rgb(60,60,60)" shape-rendering="crispEdges"/>
<rect x="-5.7" y="467.8" width="17.4" height="17.4" fill="rgb(14,14,14)" shape-rendering="crispEdges"/>
<rect x="11.2" y="467.8" width="17.4" height="17.4" fill="rgb(14,14,14)" shape-rendering="crispEdges"/>
<rect x="28.0" y="467.8" width="17.4" height="17.4" fill="rgb(14,14,14)" shape-rendering="crispEdges"/>
<rect x="44.8" y="467.8" width="17.4" height="17.4" fill="rgb(14,14,14)" shape-rendering="crispEdges"/>
<rect x="61.7" y="467.8" width="17.4" height="17.4" fill="rgb(15,15,15)" shape-rendering="crispEdges"/>
<rect x="78.5" y="467.8" width="17.4" height="17.4" fill="rgb(15,15,15)" shape-rendering="crispEdges"/>
<rect x="95.3" y="467.8" width="17.4" height="17.4" fill="rgb(16,16,16)" shape-rendering="crispEdges"/>
<rect x="112.2" y="467.8" width="17.4" height="17.4" fill="rgb(16,16,16)" shape-rendering="crispEdges"/>
<rect x="129.0" y="467.8" width="17.4" height="17.4" fill="rgb(17,17,17)" shape-rendering="crispEdges"/>
<rect x="145.8" y="467.8" width="17.4" height="17.4" fill="rgb(19,19,19)" shape-rendering="crispEdges"/>
<rect x="162.7" y="467.8" width="17.4" height="17.4" fill="rgb(21,21,21)" shape-rendering="crispEdges"/>
<rect x="179.5" y="467.8" width="17.4" height="17.4" fill="rgb(23,23,23)" shape-rendering="crispEdges"/>
<rect x="196.3" y="467.8" width="17.4" height="17.4" fill="rgb(25,25,25)" shape-rendering="crispEdges"/>
<rect x="213.2" y="467.8" width="17.4" height="17.4" fill="rgb(27,27,27)" shape-rendering="crispEdges"/>
<rect x="230.0" y="467.8" width="17.4" height="17.4" fill="rgb(29,29,29)" shape-rendering="crispEdges"/>
<rect x="246.8" y="467.8" width="17.4" height="17.4" fill="rgb(32,32,32)" shape-rendering="crispEdges"/>
<rect x="263.7" y="467.8" width="17.4" height="17.4" fill="rgb(35,35,35)" shape-rendering="crispEdges"/>
<rect x="280.5" y="467.8" width="17.4" height="17.4" fill="rgb(38,38,38)" shape-rendering="crispEdges"/>
<rect x="297.3" y="467.8" width="17.4" height="17.4" fill="rgb(41,41,41)" shape-rendering="crispEdges"/>
<rect x="314.2" y="467.8" width="17.4" height="17.4" fill="rgb(44,44,44)" shape-rendering="crispEdges"/>
<rect x="331.0" y="467.8" width="17.4" height="17.4" fill="rgb(46,46,46)" shape-rendering="crispEdges"/>
<rect x="347.8" y="467.8" width="17.4" height="17.4" fill="rgb(49,49,49)" shape-rendering="crispEdges"/>
<rect x="364.7" y="467.8" width="17.4" height="17.4" fill="rgb(51,51,51)" shape-rendering="crispEdges"/>
<rect x="381.5" y="467.8" width="17.4" height="17.4" fill="rgb(54,54,54)" shape-rendering="crispEdges"/>
<rect x="398.3" y="467.8" width="17.4" height="17.4" fill="rgb(56,56,56)" shape-rendering="crispEdges"/>
<rect x="415.2" y="467.8" width="17.4" height="17.4" fill="rgb(59,59,59)" shape-rendering="crispEdges"/>
<rect x="432.0" y="467.8" width="17.4" height="17.4" fill="rgb(60,60,60)" shape-rendering="crispEdges"/>
<rect x="448.8" y="467.8" width="17.4" height="17.4" fill="rgb(60,60,60)" shape-rendering="crispEdges"/>
</g></g>
<rect x="28" y="47" width="404" height="3" fill="#fff" opacity="0.10"/>
<rect x="28" y="47" width="404" height="40" fill="url(#aband)"/>
<rect x="28" y="59" width="404" height="1.5" fill="#fff" opacity="0.05"/>
<rect x="28" y="63" width="404" height="1.5" fill="#fff" opacity="0.06"/>
<rect x="28" y="67" width="404" height="1.5" fill="#fff" opacity="0.04"/>
<g filter="url(#bl30)">
<ellipse cx="74.6" cy="136" rx="5" ry="9" fill="#fff" opacity="0.6"/>
<ellipse cx="54.3" cy="146.3" rx="5" ry="5" fill="#fff" opacity="0.22"/>
<ellipse cx="36" cy="152" rx="4" ry="4" fill="#fff" opacity="0.12"/>
<ellipse cx="153.6" cy="213" rx="4" ry="7" fill="#fff" opacity="0.18"/>
<ellipse cx="166" cy="236" rx="5" ry="7" fill="#fff" opacity="0.25"/>
<ellipse cx="194" cy="241.5" rx="4" ry="5" fill="#fff" opacity="0.18"/>
<ellipse cx="244" cy="232" rx="4" ry="7" fill="#fff" opacity="0.25"/>
<ellipse cx="210.3" cy="294.5" rx="5" ry="8" fill="#fff" opacity="0.25"/>
<ellipse cx="287.5" cy="291" rx="5" ry="8" fill="#fff" opacity="0.28"/>
<ellipse cx="299" cy="314" rx="3" ry="3" fill="#fff" opacity="0.12"/>
<ellipse cx="262.4" cy="345" rx="6" ry="5" fill="#fff" opacity="0.14"/>
<ellipse cx="373.8" cy="347" rx="7" ry="8" fill="#fff" opacity="0.25"/>
<ellipse cx="367.8" cy="359.4" rx="5" ry="5" fill="#fff" opacity="0.18"/>
<ellipse cx="404.2" cy="355.3" rx="6" ry="6" fill="#fff" opacity="0.22"/>
<ellipse cx="418.4" cy="288.5" rx="6" ry="11" fill="#fff" opacity="0.25"/>
<ellipse cx="402" cy="321" rx="4" ry="4" fill="#fff" opacity="0.12"/>
<ellipse cx="361.7" cy="321" rx="4" ry="4" fill="#fff" opacity="0.12"/>
<ellipse cx="307" cy="410" rx="5" ry="5" fill="#fff" opacity="0.14"/>
<ellipse cx="325" cy="432" rx="6" ry="5" fill="#fff" opacity="0.17"/>
<ellipse cx="398" cy="412" rx="4" ry="4" fill="#fff" opacity="0.12"/>
<ellipse cx="250" cy="373.6" rx="4" ry="4" fill="#fff" opacity="0.1"/>
<ellipse cx="284.7" cy="438.4" rx="4" ry="4" fill="#fff" opacity="0.12"/>
<ellipse cx="371.8" cy="420.2" rx="4" ry="4" fill="#fff" opacity="0.12"/>
<ellipse cx="319" cy="152" rx="10" ry="10" fill="#fff" opacity="0.08"/>
<ellipse cx="355.6" cy="160.5" rx="6" ry="6" fill="#fff" opacity="0.08"/>
<ellipse cx="402" cy="197" rx="6" ry="6" fill="#fff" opacity="0.14"/>
<ellipse cx="424.5" cy="237.4" rx="5" ry="5" fill="#fff" opacity="0.14"/>
<ellipse cx="371.8" cy="97.6" rx="6" ry="6" fill="#fff" opacity="0.07"/>
<ellipse cx="171.8" cy="389.4" rx="4" ry="4" fill="#fff" opacity="0.1"/>
<ellipse cx="321" cy="207" rx="8" ry="3" fill="#fff" opacity="0.12"/>
<ellipse cx="340" cy="255" rx="6" ry="6" fill="#fff" opacity="0.06"/>
<ellipse cx="300" cy="370" rx="6" ry="6" fill="#fff" opacity="0.07"/>
</g>
<circle cx="311" cy="104.7" r="1" fill="#fff" opacity="0.8"/>
<ellipse cx="234.6" cy="145.6" rx="24" ry="29" fill="#fff" opacity="0.45" filter="url(#bl45)"/>
<ellipse cx="234.6" cy="145.6" rx="17.5" ry="22.5" fill="#fff" filter="url(#bl20)"/>
<clipPath id="clipa"><rect x="28" y="47" width="404" height="403"/></clipPath>
<g clip-path="url(#clipa)"><ellipse cx="433" cy="156" rx="7" ry="11" fill="#fff" filter="url(#bl20)"/></g>
<clipPath id="clipb"><rect x="518.4" y="48.1" width="402.9" height="402.09999999999997"/></clipPath>
<g clip-path="url(#clipb)" shape-rendering="crispEdges">
<rect x="518.40" y="44.40" width="21.12" height="20.85" fill="rgb(50,50,50)"/>
<rect x="539.02" y="44.40" width="20.62" height="20.85" fill="rgb(52,52,52)"/>
<rect x="559.14" y="44.40" width="20.62" height="20.85" fill="rgb(55,55,55)"/>
<rect x="579.26" y="44.40" width="20.62" height="20.85" fill="rgb(58,58,58)"/>
<rect x="599.38" y="44.40" width="20.62" height="20.85" fill="rgb(60,60,60)"/>
<rect x="619.50" y="44.40" width="20.62" height="20.85" fill="rgb(62,62,62)"/>
<rect x="639.62" y="44.40" width="20.62" height="20.85" fill="rgb(65,65,65)"/>
<rect x="659.74" y="44.40" width="20.62" height="20.85" fill="rgb(65,65,65)"/>
<rect x="679.86" y="44.40" width="20.62" height="20.85" fill="rgb(68,68,68)"/>
<rect x="699.98" y="44.40" width="20.62" height="20.85" fill="rgb(70,70,70)"/>
<rect x="720.10" y="44.40" width="20.62" height="20.85" fill="rgb(72,72,72)"/>
<rect x="740.22" y="44.40" width="20.62" height="20.85" fill="rgb(75,75,75)"/>
<rect x="760.34" y="44.40" width="20.62" height="20.85" fill="rgb(82,82,82)"/>
<rect x="780.46" y="44.40" width="20.62" height="20.85" fill="rgb(90,90,90)"/>
<rect x="800.58" y="44.40" width="20.62" height="20.85" fill="rgb(95,95,95)"/>
<rect x="820.70" y="44.40" width="20.62" height="20.85" fill="rgb(100,100,100)"/>
<rect x="840.82" y="44.40" width="20.62" height="20.85" fill="rgb(105,105,105)"/>
<rect x="860.94" y="44.40" width="20.62" height="20.85" fill="rgb(115,115,115)"/>
<rect x="881.06" y="44.40" width="20.62" height="20.85" fill="rgb(125,125,125)"/>
<rect x="901.18" y="44.40" width="20.62" height="20.85" fill="rgb(135,135,135)"/>
<rect x="518.40" y="64.75" width="21.12" height="20.85" fill="rgb(48,48,48)"/>
<rect x="539.02" y="64.75" width="20.62" height="20.85" fill="rgb(50,50,50)"/>
<rect x="559.14" y="64.75" width="20.62" height="20.85" fill="rgb(52,52,52)"/>
<rect x="579.26" y="64.75" width="20.62" height="20.85" fill="rgb(55,55,55)"/>
<rect x="599.38" y="64.75" width="20.62" height="20.85" fill="rgb(58,58,58)"/>
<rect x="619.50" y="64.75" width="20.62" height="20.85" fill="rgb(60,60,60)"/>
<rect x="639.62" y="64.75" width="20.62" height="20.85" fill="rgb(62,62,62)"/>
<rect x="659.74" y="64.75" width="20.62" height="20.85" fill="rgb(65,65,65)"/>
<rect x="679.86" y="64.75" width="20.62" height="20.85" fill="rgb(66,66,66)"/>
<rect x="699.98" y="64.75" width="20.62" height="20.85" fill="rgb(70,70,70)"/>
<rect x="720.10" y="64.75" width="20.62" height="20.85" fill="rgb(72,72,72)"/>
<rect x="740.22" y="64.75" width="20.62" height="20.85" fill="rgb(75,75,75)"/>
<rect x="760.34" y="64.75" width="20.62" height="20.85" fill="rgb(82,82,82)"/>
<rect x="780.46" y="64.75" width="20.62" height="20.85" fill="rgb(95,95,95)"/>
<rect x="800.58" y="64.75" width="20.62" height="20.85" fill="rgb(100,100,100)"/>
<rect x="820.70" y="64.75" width="20.62" height="20.85" fill="rgb(105,105,105)"/>
<rect x="840.82" y="64.75" width="20.62" height="20.85" fill="rgb(108,108,108)"/>
<rect x="860.94" y="64.75" width="20.62" height="20.85" fill="rgb(118,118,118)"/>
<rect x="881.06" y="64.75" width="20.62" height="20.85" fill="rgb(128,128,128)"/>
<rect x="901.18" y="64.75" width="20.62" height="20.85" fill="rgb(138,138,138)"/>
<rect x="518.40" y="85.10" width="21.12" height="20.85" fill="rgb(46,46,46)"/>
<rect x="539.02" y="85.10" width="20.62" height="20.85" fill="rgb(48,48,48)"/>
<rect x="559.14" y="85.10" width="20.62" height="20.85" fill="rgb(50,50,50)"/>
<rect x="579.26" y="85.10" width="20.62" height="20.85" fill="rgb(52,52,52)"/>
<rect x="599.38" y="85.10" width="20.62" height="20.85" fill="rgb(55,55,55)"/>
<rect x="619.50" y="85.10" width="20.62" height="20.85" fill="rgb(58,58,58)"/>
<rect x="639.62" y="85.10" width="20.62" height="20.85" fill="rgb(60,60,60)"/>
<rect x="659.74" y="85.10" width="20.62" height="20.85" fill="rgb(62,62,62)"/>
<rect x="679.86" y="85.10" width="20.62" height="20.85" fill="rgb(64,64,64)"/>
<rect x="699.98" y="85.10" width="20.62" height="20.85" fill="rgb(68,68,68)"/>
<rect x="720.10" y="85.10" width="20.62" height="20.85" fill="rgb(75,75,75)"/>
<rect x="740.22" y="85.10" width="20.62" height="20.85" fill="rgb(78,78,78)"/>
<rect x="760.34" y="85.10" width="20.62" height="20.85" fill="rgb(85,85,85)"/>
<rect x="780.46" y="85.10" width="20.62" height="20.85" fill="rgb(98,98,98)"/>
<rect x="800.58" y="85.10" width="20.62" height="20.85" fill="rgb(95,95,95)"/>
<rect x="820.70" y="85.10" width="20.62" height="20.85" fill="rgb(100,100,100)"/>
<rect x="840.82" y="85.10" width="20.62" height="20.85" fill="rgb(110,110,110)"/>
<rect x="860.94" y="85.10" width="20.62" height="20.85" fill="rgb(118,118,118)"/>
<rect x="881.06" y="85.10" width="20.62" height="20.85" fill="rgb(125,125,125)"/>
<rect x="901.18" y="85.10" width="20.62" height="20.85" fill="rgb(138,138,138)"/>
<rect x="518.40" y="105.45" width="21.12" height="20.85" fill="rgb(44,44,44)"/>
<rect x="539.02" y="105.45" width="20.62" height="20.85" fill="rgb(46,46,46)"/>
<rect x="559.14" y="105.45" width="20.62" height="20.85" fill="rgb(48,48,48)"/>
<rect x="579.26" y="105.45" width="20.62" height="20.85" fill="rgb(50,50,50)"/>
<rect x="599.38" y="105.45" width="20.62" height="20.85" fill="rgb(52,52,52)"/>
<rect x="619.50" y="105.45" width="20.62" height="20.85" fill="rgb(55,55,55)"/>
<rect x="639.62" y="105.45" width="20.62" height="20.85" fill="rgb(58,58,58)"/>
<rect x="659.74" y="105.45" width="20.62" height="20.85" fill="rgb(60,60,60)"/>
<rect x="679.86" y="105.45" width="20.62" height="20.85" fill="rgb(62,62,62)"/>
<rect x="699.98" y="105.45" width="20.62" height="20.85" fill="rgb(66,66,66)"/>
<rect x="720.10" y="105.45" width="20.62" height="20.85" fill="rgb(78,78,78)"/>
<rect x="740.22" y="105.45" width="20.62" height="20.85" fill="rgb(80,80,80)"/>
<rect x="760.34" y="105.45" width="20.62" height="20.85" fill="rgb(85,85,85)"/>
<rect x="780.46" y="105.45" width="20.62" height="20.85" fill="rgb(92,92,92)"/>
<rect x="800.58" y="105.45" width="20.62" height="20.85" fill="rgb(90,90,90)"/>
<rect x="820.70" y="105.45" width="20.62" height="20.85" fill="rgb(88,88,88)"/>
<rect x="840.82" y="105.45" width="20.62" height="20.85" fill="rgb(105,105,105)"/>
<rect x="860.94" y="105.45" width="20.62" height="20.85" fill="rgb(112,112,112)"/>
<rect x="881.06" y="105.45" width="20.62" height="20.85" fill="rgb(122,122,122)"/>
<rect x="901.18" y="105.45" width="20.62" height="20.85" fill="rgb(135,135,135)"/>
<rect x="518.40" y="125.80" width="21.12" height="20.85" fill="rgb(42,42,42)"/>
<rect x="539.02" y="125.80" width="20.62" height="20.85" fill="rgb(44,44,44)"/>
<rect x="559.14" y="125.80" width="20.62" height="20.85" fill="rgb(46,46,46)"/>
<rect x="579.26" y="125.80" width="20.62" height="20.85" fill="rgb(70,70,70)"/>
<rect x="599.38" y="125.80" width="20.62" height="20.85" fill="rgb(82,82,82)"/>
<rect x="619.50" y="125.80" width="20.62" height="20.85" fill="rgb(52,52,52)"/>
<rect x="639.62" y="125.80" width="20.62" height="20.85" fill="rgb(55,55,55)"/>
<rect x="659.74" y="125.80" width="20.62" height="20.85" fill="rgb(58,58,58)"/>
<rect x="679.86" y="125.80" width="20.62" height="20.85" fill="rgb(60,60,60)"/>
<rect x="699.98" y="125.80" width="20.62" height="20.85" fill="rgb(64,64,64)"/>
<rect x="720.10" y="125.80" width="20.62" height="20.85" fill="rgb(110,110,110)"/>
<rect x="740.22" y="125.80" width="20.62" height="20.85" fill="rgb(100,100,100)"/>
<rect x="760.34" y="125.80" width="20.62" height="20.85" fill="rgb(80,80,80)"/>
<rect x="780.46" y="125.80" width="20.62" height="20.85" fill="rgb(88,88,88)"/>
<rect x="800.58" y="125.80" width="20.62" height="20.85" fill="rgb(92,92,92)"/>
<rect x="820.70" y="125.80" width="20.62" height="20.85" fill="rgb(92,92,92)"/>
<rect x="840.82" y="125.80" width="20.62" height="20.85" fill="rgb(95,95,95)"/>
<rect x="860.94" y="125.80" width="20.62" height="20.85" fill="rgb(105,105,105)"/>
<rect x="881.06" y="125.80" width="20.62" height="20.85" fill="rgb(110,110,110)"/>
<rect x="901.18" y="125.80" width="20.62" height="20.85" fill="rgb(125,125,125)"/>
<rect x="518.40" y="146.15" width="21.12" height="20.85" fill="rgb(40,40,40)"/>
<rect x="539.02" y="146.15" width="20.62" height="20.85" fill="rgb(42,42,42)"/>
<rect x="559.14" y="146.15" width="20.62" height="20.85" fill="rgb(44,44,44)"/>
<rect x="579.26" y="146.15" width="20.62" height="20.85" fill="rgb(65,65,65)"/>
<rect x="599.38" y="146.15" width="20.62" height="20.85" fill="rgb(50,50,50)"/>
<rect x="619.50" y="146.15" width="20.62" height="20.85" fill="rgb(50,50,50)"/>
<rect x="639.62" y="146.15" width="20.62" height="20.85" fill="rgb(52,52,52)"/>
<rect x="659.74" y="146.15" width="20.62" height="20.85" fill="rgb(55,55,55)"/>
<rect x="679.86" y="146.15" width="20.62" height="20.85" fill="rgb(62,62,62)"/>
<rect x="699.98" y="146.15" width="20.62" height="20.85" fill="rgb(60,60,60)"/>
<rect x="720.10" y="146.15" width="20.62" height="20.85" fill="rgb(100,100,100)"/>
<rect x="740.22" y="146.15" width="20.62" height="20.85" fill="rgb(100,100,100)"/>
<rect x="760.34" y="146.15" width="20.62" height="20.85" fill="rgb(125,125,125)"/>
<rect x="780.46" y="146.15" width="20.62" height="20.85" fill="rgb(88,88,88)"/>
<rect x="800.58" y="146.15" width="20.62" height="20.85" fill="rgb(100,100,100)"/>
<rect x="820.70" y="146.15" width="20.62" height="20.85" fill="rgb(100,100,100)"/>
<rect x="840.82" y="146.15" width="20.62" height="20.85" fill="rgb(100,100,100)"/>
<rect x="860.94" y="146.15" width="20.62" height="20.85" fill="rgb(105,105,105)"/>
<rect x="881.06" y="146.15" width="20.62" height="20.85" fill="rgb(125,125,125)"/>
<rect x="901.18" y="146.15" width="20.62" height="20.85" fill="rgb(130,130,130)"/>
<rect x="518.40" y="166.50" width="21.12" height="20.85" fill="rgb(38,38,38)"/>
<rect x="539.02" y="166.50" width="20.62" height="20.85" fill="rgb(40,40,40)"/>
<rect x="559.14" y="166.50" width="20.62" height="20.85" fill="rgb(42,42,42)"/>
<rect x="579.26" y="166.50" width="20.62" height="20.85" fill="rgb(44,44,44)"/>
<rect x="599.38" y="166.50" width="20.62" height="20.85" fill="rgb(46,46,46)"/>
<rect x="619.50" y="166.50" width="20.62" height="20.85" fill="rgb(48,48,48)"/>
<rect x="639.62" y="166.50" width="20.62" height="20.85" fill="rgb(50,50,50)"/>
<rect x="659.74" y="166.50" width="20.62" height="20.85" fill="rgb(52,52,52)"/>
<rect x="679.86" y="166.50" width="20.62" height="20.85" fill="rgb(56,56,56)"/>
<rect x="699.98" y="166.50" width="20.62" height="20.85" fill="rgb(58,58,58)"/>
<rect x="720.10" y="166.50" width="20.62" height="20.85" fill="rgb(75,75,75)"/>
<rect x="740.22" y="166.50" width="20.62" height="20.85" fill="rgb(80,80,80)"/>
<rect x="760.34" y="166.50" width="20.62" height="20.85" fill="rgb(88,88,88)"/>
<rect x="780.46" y="166.50" width="20.62" height="20.85" fill="rgb(85,85,85)"/>
<rect x="800.58" y="166.50" width="20.62" height="20.85" fill="rgb(115,115,115)"/>
<rect x="820.70" y="166.50" width="20.62" height="20.85" fill="rgb(155,155,155)"/>
<rect x="840.82" y="166.50" width="20.62" height="20.85" fill="rgb(125,125,125)"/>
<rect x="860.94" y="166.50" width="20.62" height="20.85" fill="rgb(110,110,110)"/>
<rect x="881.06" y="166.50" width="20.62" height="20.85" fill="rgb(115,115,115)"/>
<rect x="901.18" y="166.50" width="20.62" height="20.85" fill="rgb(120,120,120)"/>
<rect x="518.40" y="186.85" width="21.12" height="20.85" fill="rgb(36,36,36)"/>
<rect x="539.02" y="186.85" width="20.62" height="20.85" fill="rgb(38,38,38)"/>
<rect x="559.14" y="186.85" width="20.62" height="20.85" fill="rgb(40,40,40)"/>
<rect x="579.26" y="186.85" width="20.62" height="20.85" fill="rgb(42,42,42)"/>
<rect x="599.38" y="186.85" width="20.62" height="20.85" fill="rgb(44,44,44)"/>
<rect x="619.50" y="186.85" width="20.62" height="20.85" fill="rgb(46,46,46)"/>
<rect x="639.62" y="186.85" width="20.62" height="20.85" fill="rgb(48,48,48)"/>
<rect x="659.74" y="186.85" width="20.62" height="20.85" fill="rgb(50,50,50)"/>
<rect x="679.86" y="186.85" width="20.62" height="20.85" fill="rgb(54,54,54)"/>
<rect x="699.98" y="186.85" width="20.62" height="20.85" fill="rgb(56,56,56)"/>
<rect x="720.10" y="186.85" width="20.62" height="20.85" fill="rgb(72,72,72)"/>
<rect x="740.22" y="186.85" width="20.62" height="20.85" fill="rgb(108,108,108)"/>
<rect x="760.34" y="186.85" width="20.62" height="20.85" fill="rgb(82,82,82)"/>
<rect x="780.46" y="186.85" width="20.62" height="20.85" fill="rgb(85,85,85)"/>
<rect x="800.58" y="186.85" width="20.62" height="20.85" fill="rgb(95,95,95)"/>
<rect x="820.70" y="186.85" width="20.62" height="20.85" fill="rgb(100,100,100)"/>
<rect x="840.82" y="186.85" width="20.62" height="20.85" fill="rgb(100,100,100)"/>
<rect x="860.94" y="186.85" width="20.62" height="20.85" fill="rgb(100,100,100)"/>
<rect x="881.06" y="186.85" width="20.62" height="20.85" fill="rgb(115,115,115)"/>
<rect x="901.18" y="186.85" width="20.62" height="20.85" fill="rgb(118,118,118)"/>
<rect x="518.40" y="207.20" width="21.12" height="20.85" fill="rgb(34,34,34)"/>
<rect x="539.02" y="207.20" width="20.62" height="20.85" fill="rgb(36,36,36)"/>
<rect x="559.14" y="207.20" width="20.62" height="20.85" fill="rgb(38,38,38)"/>
<rect x="579.26" y="207.20" width="20.62" height="20.85" fill="rgb(40,40,40)"/>
<rect x="599.38" y="207.20" width="20.62" height="20.85" fill="rgb(42,42,42)"/>
<rect x="619.50" y="207.20" width="20.62" height="20.85" fill="rgb(44,44,44)"/>
<rect x="639.62" y="207.20" width="20.62" height="20.85" fill="rgb(46,46,46)"/>
<rect x="659.74" y="207.20" width="20.62" height="20.85" fill="rgb(48,48,48)"/>
<rect x="679.86" y="207.20" width="20.62" height="20.85" fill="rgb(52,52,52)"/>
<rect x="699.98" y="207.20" width="20.62" height="20.85" fill="rgb(54,54,54)"/>
<rect x="720.10" y="207.20" width="20.62" height="20.85" fill="rgb(65,65,65)"/>
<rect x="740.22" y="207.20" width="20.62" height="20.85" fill="rgb(70,70,70)"/>
<rect x="760.34" y="207.20" width="20.62" height="20.85" fill="rgb(72,72,72)"/>
<rect x="780.46" y="207.20" width="20.62" height="20.85" fill="rgb(80,80,80)"/>
<rect x="800.58" y="207.20" width="20.62" height="20.85" fill="rgb(88,88,88)"/>
<rect x="820.70" y="207.20" width="20.62" height="20.85" fill="rgb(92,92,92)"/>
<rect x="840.82" y="207.20" width="20.62" height="20.85" fill="rgb(98,98,98)"/>
<rect x="860.94" y="207.20" width="20.62" height="20.85" fill="rgb(100,100,100)"/>
<rect x="881.06" y="207.20" width="20.62" height="20.85" fill="rgb(105,105,105)"/>
<rect x="901.18" y="207.20" width="20.62" height="20.85" fill="rgb(112,112,112)"/>
<rect x="518.40" y="227.55" width="21.12" height="20.85" fill="rgb(30,30,30)"/>
<rect x="539.02" y="227.55" width="20.62" height="20.85" fill="rgb(32,32,32)"/>
<rect x="559.14" y="227.55" width="20.62" height="20.85" fill="rgb(34,34,34)"/>
<rect x="579.26" y="227.55" width="20.62" height="20.85" fill="rgb(38,38,38)"/>
<rect x="599.38" y="227.55" width="20.62" height="20.85" fill="rgb(40,40,40)"/>
<rect x="619.50" y="227.55" width="20.62" height="20.85" fill="rgb(42,42,42)"/>
<rect x="639.62" y="227.55" width="20.62" height="20.85" fill="rgb(44,44,44)"/>
<rect x="659.74" y="227.55" width="20.62" height="20.85" fill="rgb(78,78,78)"/>
<rect x="679.86" y="227.55" width="20.62" height="20.85" fill="rgb(50,50,50)"/>
<rect x="699.98" y="227.55" width="20.62" height="20.85" fill="rgb(52,52,52)"/>
<rect x="720.10" y="227.55" width="20.62" height="20.85" fill="rgb(62,62,62)"/>
<rect x="740.22" y="227.55" width="20.62" height="20.85" fill="rgb(68,68,68)"/>
<rect x="760.34" y="227.55" width="20.62" height="20.85" fill="rgb(72,72,72)"/>
<rect x="780.46" y="227.55" width="20.62" height="20.85" fill="rgb(80,80,80)"/>
<rect x="800.58" y="227.55" width="20.62" height="20.85" fill="rgb(85,85,85)"/>
<rect x="820.70" y="227.55" width="20.62" height="20.85" fill="rgb(90,90,90)"/>
<rect x="840.82" y="227.55" width="20.62" height="20.85" fill="rgb(95,95,95)"/>
<rect x="860.94" y="227.55" width="20.62" height="20.85" fill="rgb(100,100,100)"/>
<rect x="881.06" y="227.55" width="20.62" height="20.85" fill="rgb(105,105,105)"/>
<rect x="901.18" y="227.55" width="20.62" height="20.85" fill="rgb(110,110,110)"/>
<rect x="518.40" y="247.90" width="21.12" height="20.85" fill="rgb(26,26,26)"/>
<rect x="539.02" y="247.90" width="20.62" height="20.85" fill="rgb(26,26,26)"/>
<rect x="559.14" y="247.90" width="20.62" height="20.85" fill="rgb(28,28,28)"/>
<rect x="579.26" y="247.90" width="20.62" height="20.85" fill="rgb(30,30,30)"/>
<rect x="599.38" y="247.90" width="20.62" height="20.85" fill="rgb(32,32,32)"/>
<rect x="619.50" y="247.90" width="20.62" height="20.85" fill="rgb(34,34,34)"/>
<rect x="639.62" y="247.90" width="20.62" height="20.85" fill="rgb(36,36,36)"/>
<rect x="659.74" y="247.90" width="20.62" height="20.85" fill="rgb(40,40,40)"/>
<rect x="679.86" y="247.90" width="20.62" height="20.85" fill="rgb(44,44,44)"/>
<rect x="699.98" y="247.90" width="20.62" height="20.85" fill="rgb(48,48,48)"/>
<rect x="720.10" y="247.90" width="20.62" height="20.85" fill="rgb(60,60,60)"/>
<rect x="740.22" y="247.90" width="20.62" height="20.85" fill="rgb(62,62,62)"/>
<rect x="760.34" y="247.90" width="20.62" height="20.85" fill="rgb(64,64,64)"/>
<rect x="780.46" y="247.90" width="20.62" height="20.85" fill="rgb(66,66,66)"/>
<rect x="800.58" y="247.90" width="20.62" height="20.85" fill="rgb(70,70,70)"/>
<rect x="820.70" y="247.90" width="20.62" height="20.85" fill="rgb(80,80,80)"/>
<rect x="840.82" y="247.90" width="20.62" height="20.85" fill="rgb(95,95,95)"/>
<rect x="860.94" y="247.90" width="20.62" height="20.85" fill="rgb(98,98,98)"/>
<rect x="881.06" y="247.90" width="20.62" height="20.85" fill="rgb(100,100,100)"/>
<rect x="901.18" y="247.90" width="20.62" height="20.85" fill="rgb(105,105,105)"/>
<rect x="518.40" y="268.25" width="21.12" height="20.85" fill="rgb(24,24,24)"/>
<rect x="539.02" y="268.25" width="20.62" height="20.85" fill="rgb(25,25,25)"/>
<rect x="559.14" y="268.25" width="20.62" height="20.85" fill="rgb(27,27,27)"/>
<rect x="579.26" y="268.25" width="20.62" height="20.85" fill="rgb(29,29,29)"/>
<rect x="599.38" y="268.25" width="20.62" height="20.85" fill="rgb(31,31,31)"/>
<rect x="619.50" y="268.25" width="20.62" height="20.85" fill="rgb(33,33,33)"/>
<rect x="639.62" y="268.25" width="20.62" height="20.85" fill="rgb(35,35,35)"/>
<rect x="659.74" y="268.25" width="20.62" height="20.85" fill="rgb(38,38,38)"/>
<rect x="679.86" y="268.25" width="20.62" height="20.85" fill="rgb(42,42,42)"/>
<rect x="699.98" y="268.25" width="20.62" height="20.85" fill="rgb(74,74,74)"/>
<rect x="720.10" y="268.25" width="20.62" height="20.85" fill="rgb(58,58,58)"/>
<rect x="740.22" y="268.25" width="20.62" height="20.85" fill="rgb(60,60,60)"/>
<rect x="760.34" y="268.25" width="20.62" height="20.85" fill="rgb(62,62,62)"/>
<rect x="780.46" y="268.25" width="20.62" height="20.85" fill="rgb(64,64,64)"/>
<rect x="800.58" y="268.25" width="20.62" height="20.85" fill="rgb(66,66,66)"/>
<rect x="820.70" y="268.25" width="20.62" height="20.85" fill="rgb(72,72,72)"/>
<rect x="840.82" y="268.25" width="20.62" height="20.85" fill="rgb(92,92,92)"/>
<rect x="860.94" y="268.25" width="20.62" height="20.85" fill="rgb(92,92,92)"/>
<rect x="881.06" y="268.25" width="20.62" height="20.85" fill="rgb(100,100,100)"/>
<rect x="901.18" y="268.25" width="20.62" height="20.85" fill="rgb(105,105,105)"/>
<rect x="518.40" y="288.60" width="21.12" height="20.85" fill="rgb(22,22,22)"/>
<rect x="539.02" y="288.60" width="20.62" height="20.85" fill="rgb(23,23,23)"/>
<rect x="559.14" y="288.60" width="20.62" height="20.85" fill="rgb(25,25,25)"/>
<rect x="579.26" y="288.60" width="20.62" height="20.85" fill="rgb(27,27,27)"/>
<rect x="599.38" y="288.60" width="20.62" height="20.85" fill="rgb(29,29,29)"/>
<rect x="619.50" y="288.60" width="20.62" height="20.85" fill="rgb(31,31,31)"/>
<rect x="639.62" y="288.60" width="20.62" height="20.85" fill="rgb(33,33,33)"/>
<rect x="659.74" y="288.60" width="20.62" height="20.85" fill="rgb(36,36,36)"/>
<rect x="679.86" y="288.60" width="20.62" height="20.85" fill="rgb(40,40,40)"/>
<rect x="699.98" y="288.60" width="20.62" height="20.85" fill="rgb(56,56,56)"/>
<rect x="720.10" y="288.60" width="20.62" height="20.85" fill="rgb(55,55,55)"/>
<rect x="740.22" y="288.60" width="20.62" height="20.85" fill="rgb(55,55,55)"/>
<rect x="760.34" y="288.60" width="20.62" height="20.85" fill="rgb(60,60,60)"/>
<rect x="780.46" y="288.60" width="20.62" height="20.85" fill="rgb(68,68,68)"/>
<rect x="800.58" y="288.60" width="20.62" height="20.85" fill="rgb(70,70,70)"/>
<rect x="820.70" y="288.60" width="20.62" height="20.85" fill="rgb(72,72,72)"/>
<rect x="840.82" y="288.60" width="20.62" height="20.85" fill="rgb(82,82,82)"/>
<rect x="860.94" y="288.60" width="20.62" height="20.85" fill="rgb(85,85,85)"/>
<rect x="881.06" y="288.60" width="20.62" height="20.85" fill="rgb(88,88,88)"/>
<rect x="901.18" y="288.60" width="20.62" height="20.85" fill="rgb(100,100,100)"/>
<rect x="518.40" y="308.95" width="21.12" height="20.85" fill="rgb(21,21,21)"/>
<rect x="539.02" y="308.95" width="20.62" height="20.85" fill="rgb(22,22,22)"/>
<rect x="559.14" y="308.95" width="20.62" height="20.85" fill="rgb(24,24,24)"/>
<rect x="579.26" y="308.95" width="20.62" height="20.85" fill="rgb(26,26,26)"/>
<rect x="599.38" y="308.95" width="20.62" height="20.85" fill="rgb(28,28,28)"/>
<rect x="619.50" y="308.95" width="20.62" height="20.85" fill="rgb(30,30,30)"/>
<rect x="639.62" y="308.95" width="20.62" height="20.85" fill="rgb(32,32,32)"/>
<rect x="659.74" y="308.95" width="20.62" height="20.85" fill="rgb(34,34,34)"/>
<rect x="679.86" y="308.95" width="20.62" height="20.85" fill="rgb(38,38,38)"/>
<rect x="699.98" y="308.95" width="20.62" height="20.85" fill="rgb(44,44,44)"/>
<rect x="720.10" y="308.95" width="20.62" height="20.85" fill="rgb(50,50,50)"/>
<rect x="740.22" y="308.95" width="20.62" height="20.85" fill="rgb(52,52,52)"/>
<rect x="760.34" y="308.95" width="20.62" height="20.85" fill="rgb(55,55,55)"/>
<rect x="780.46" y="308.95" width="20.62" height="20.85" fill="rgb(70,70,70)"/>
<rect x="800.58" y="308.95" width="20.62" height="20.85" fill="rgb(72,72,72)"/>
<rect x="820.70" y="308.95" width="20.62" height="20.85" fill="rgb(72,72,72)"/>
<rect x="840.82" y="308.95" width="20.62" height="20.85" fill="rgb(78,78,78)"/>
<rect x="860.94" y="308.95" width="20.62" height="20.85" fill="rgb(80,80,80)"/>
<rect x="881.06" y="308.95" width="20.62" height="20.85" fill="rgb(85,85,85)"/>
<rect x="901.18" y="308.95" width="20.62" height="20.85" fill="rgb(170,170,170)"/>
<rect x="518.40" y="329.30" width="21.12" height="20.85" fill="rgb(20,20,20)"/>
<rect x="539.02" y="329.30" width="20.62" height="20.85" fill="rgb(21,21,21)"/>
<rect x="559.14" y="329.30" width="20.62" height="20.85" fill="rgb(23,23,23)"/>
<rect x="579.26" y="329.30" width="20.62" height="20.85" fill="rgb(25,25,25)"/>
<rect x="599.38" y="329.30" width="20.62" height="20.85" fill="rgb(27,27,27)"/>
<rect x="619.50" y="329.30" width="20.62" height="20.85" fill="rgb(29,29,29)"/>
<rect x="639.62" y="329.30" width="20.62" height="20.85" fill="rgb(31,31,31)"/>
<rect x="659.74" y="329.30" width="20.62" height="20.85" fill="rgb(33,33,33)"/>
<rect x="679.86" y="329.30" width="20.62" height="20.85" fill="rgb(36,36,36)"/>
<rect x="699.98" y="329.30" width="20.62" height="20.85" fill="rgb(40,40,40)"/>
<rect x="720.10" y="329.30" width="20.62" height="20.85" fill="rgb(52,52,52)"/>
<rect x="740.22" y="329.30" width="20.62" height="20.85" fill="rgb(58,58,58)"/>
<rect x="760.34" y="329.30" width="20.62" height="20.85" fill="rgb(60,60,60)"/>
<rect x="780.46" y="329.30" width="20.62" height="20.85" fill="rgb(65,65,65)"/>
<rect x="800.58" y="329.30" width="20.62" height="20.85" fill="rgb(62,62,62)"/>
<rect x="820.70" y="329.30" width="20.62" height="20.85" fill="rgb(62,62,62)"/>
<rect x="840.82" y="329.30" width="20.62" height="20.85" fill="rgb(66,66,66)"/>
<rect x="860.94" y="329.30" width="20.62" height="20.85" fill="rgb(70,70,70)"/>
<rect x="881.06" y="329.30" width="20.62" height="20.85" fill="rgb(75,75,75)"/>
<rect x="901.18" y="329.30" width="20.62" height="20.85" fill="rgb(88,88,88)"/>
<rect x="518.40" y="349.65" width="21.12" height="20.85" fill="rgb(18,18,18)"/>
<rect x="539.02" y="349.65" width="20.62" height="20.85" fill="rgb(20,20,20)"/>
<rect x="559.14" y="349.65" width="20.62" height="20.85" fill="rgb(22,22,22)"/>
<rect x="579.26" y="349.65" width="20.62" height="20.85" fill="rgb(24,24,24)"/>
<rect x="599.38" y="349.65" width="20.62" height="20.85" fill="rgb(26,26,26)"/>
<rect x="619.50" y="349.65" width="20.62" height="20.85" fill="rgb(28,28,28)"/>
<rect x="639.62" y="349.65" width="20.62" height="20.85" fill="rgb(30,30,30)"/>
<rect x="659.74" y="349.65" width="20.62" height="20.85" fill="rgb(32,32,32)"/>
<rect x="679.86" y="349.65" width="20.62" height="20.85" fill="rgb(34,34,34)"/>
<rect x="699.98" y="349.65" width="20.62" height="20.85" fill="rgb(38,38,38)"/>
<rect x="720.10" y="349.65" width="20.62" height="20.85" fill="rgb(45,45,45)"/>
<rect x="740.22" y="349.65" width="20.62" height="20.85" fill="rgb(46,46,46)"/>
<rect x="760.34" y="349.65" width="20.62" height="20.85" fill="rgb(44,44,44)"/>
<rect x="780.46" y="349.65" width="20.62" height="20.85" fill="rgb(50,50,50)"/>
<rect x="800.58" y="349.65" width="20.62" height="20.85" fill="rgb(54,54,54)"/>
<rect x="820.70" y="349.65" width="20.62" height="20.85" fill="rgb(55,55,55)"/>
<rect x="840.82" y="349.65" width="20.62" height="20.85" fill="rgb(58,58,58)"/>
<rect x="860.94" y="349.65" width="20.62" height="20.85" fill="rgb(90,90,90)"/>
<rect x="881.06" y="349.65" width="20.62" height="20.85" fill="rgb(75,75,75)"/>
<rect x="901.18" y="349.65" width="20.62" height="20.85" fill="rgb(80,80,80)"/>
<rect x="518.40" y="370.00" width="21.12" height="20.85" fill="rgb(17,17,17)"/>
<rect x="539.02" y="370.00" width="20.62" height="20.85" fill="rgb(19,19,19)"/>
<rect x="559.14" y="370.00" width="20.62" height="20.85" fill="rgb(21,21,21)"/>
<rect x="579.26" y="370.00" width="20.62" height="20.85" fill="rgb(23,23,23)"/>
<rect x="599.38" y="370.00" width="20.62" height="20.85" fill="rgb(25,25,25)"/>
<rect x="619.50" y="370.00" width="20.62" height="20.85" fill="rgb(27,27,27)"/>
<rect x="639.62" y="370.00" width="20.62" height="20.85" fill="rgb(29,29,29)"/>
<rect x="659.74" y="370.00" width="20.62" height="20.85" fill="rgb(31,31,31)"/>
<rect x="679.86" y="370.00" width="20.62" height="20.85" fill="rgb(33,33,33)"/>
<rect x="699.98" y="370.00" width="20.62" height="20.85" fill="rgb(36,36,36)"/>
<rect x="720.10" y="370.00" width="20.62" height="20.85" fill="rgb(44,44,44)"/>
<rect x="740.22" y="370.00" width="20.62" height="20.85" fill="rgb(46,46,46)"/>
<rect x="760.34" y="370.00" width="20.62" height="20.85" fill="rgb(52,52,52)"/>
<rect x="780.46" y="370.00" width="20.62" height="20.85" fill="rgb(48,48,48)"/>
<rect x="800.58" y="370.00" width="20.62" height="20.85" fill="rgb(48,48,48)"/>
<rect x="820.70" y="370.00" width="20.62" height="20.85" fill="rgb(50,50,50)"/>
<rect x="840.82" y="370.00" width="20.62" height="20.85" fill="rgb(58,58,58)"/>
<rect x="860.94" y="370.00" width="20.62" height="20.85" fill="rgb(105,105,105)"/>
<rect x="881.06" y="370.00" width="20.62" height="20.85" fill="rgb(195,195,195)"/>
<rect x="901.18" y="370.00" width="20.62" height="20.85" fill="rgb(72,72,72)"/>
<rect x="518.40" y="390.35" width="21.12" height="20.85" fill="rgb(16,16,16)"/>
<rect x="539.02" y="390.35" width="20.62" height="20.85" fill="rgb(18,18,18)"/>
<rect x="559.14" y="390.35" width="20.62" height="20.85" fill="rgb(20,20,20)"/>
<rect x="579.26" y="390.35" width="20.62" height="20.85" fill="rgb(22,22,22)"/>
<rect x="599.38" y="390.35" width="20.62" height="20.85" fill="rgb(24,24,24)"/>
<rect x="619.50" y="390.35" width="20.62" height="20.85" fill="rgb(26,26,26)"/>
<rect x="639.62" y="390.35" width="20.62" height="20.85" fill="rgb(28,28,28)"/>
<rect x="659.74" y="390.35" width="20.62" height="20.85" fill="rgb(30,30,30)"/>
<rect x="679.86" y="390.35" width="20.62" height="20.85" fill="rgb(32,32,32)"/>
<rect x="699.98" y="390.35" width="20.62" height="20.85" fill="rgb(35,35,35)"/>
<rect x="720.10" y="390.35" width="20.62" height="20.85" fill="rgb(38,38,38)"/>
<rect x="740.22" y="390.35" width="20.62" height="20.85" fill="rgb(40,40,40)"/>
<rect x="760.34" y="390.35" width="20.62" height="20.85" fill="rgb(42,42,42)"/>
<rect x="780.46" y="390.35" width="20.62" height="20.85" fill="rgb(44,44,44)"/>
<rect x="800.58" y="390.35" width="20.62" height="20.85" fill="rgb(46,46,46)"/>
<rect x="820.70" y="390.35" width="20.62" height="20.85" fill="rgb(48,48,48)"/>
<rect x="840.82" y="390.35" width="20.62" height="20.85" fill="rgb(54,54,54)"/>
<rect x="860.94" y="390.35" width="20.62" height="20.85" fill="rgb(58,58,58)"/>
<rect x="881.06" y="390.35" width="20.62" height="20.85" fill="rgb(64,64,64)"/>
<rect x="901.18" y="390.35" width="20.62" height="20.85" fill="rgb(68,68,68)"/>
<rect x="518.40" y="410.70" width="21.12" height="20.85" fill="rgb(14,14,14)"/>
<rect x="539.02" y="410.70" width="20.62" height="20.85" fill="rgb(16,16,16)"/>
<rect x="559.14" y="410.70" width="20.62" height="20.85" fill="rgb(18,18,18)"/>
<rect x="579.26" y="410.70" width="20.62" height="20.85" fill="rgb(20,20,20)"/>
<rect x="599.38" y="410.70" width="20.62" height="20.85" fill="rgb(22,22,22)"/>
<rect x="619.50" y="410.70" width="20.62" height="20.85" fill="rgb(24,24,24)"/>
<rect x="639.62" y="410.70" width="20.62" height="20.85" fill="rgb(26,26,26)"/>
<rect x="659.74" y="410.70" width="20.62" height="20.85" fill="rgb(28,28,28)"/>
<rect x="679.86" y="410.70" width="20.62" height="20.85" fill="rgb(30,30,30)"/>
<rect x="699.98" y="410.70" width="20.62" height="20.85" fill="rgb(33,33,33)"/>
<rect x="720.10" y="410.70" width="20.62" height="20.85" fill="rgb(36,36,36)"/>
<rect x="740.22" y="410.70" width="20.62" height="20.85" fill="rgb(38,38,38)"/>
<rect x="760.34" y="410.70" width="20.62" height="20.85" fill="rgb(40,40,40)"/>
<rect x="780.46" y="410.70" width="20.62" height="20.85" fill="rgb(42,42,42)"/>
<rect x="800.58" y="410.70" width="20.62" height="20.85" fill="rgb(44,44,44)"/>
<rect x="820.70" y="410.70" width="20.62" height="20.85" fill="rgb(46,46,46)"/>
<rect x="840.82" y="410.70" width="20.62" height="20.85" fill="rgb(52,52,52)"/>
<rect x="860.94" y="410.70" width="20.62" height="20.85" fill="rgb(55,55,55)"/>
<rect x="881.06" y="410.70" width="20.62" height="20.85" fill="rgb(58,58,58)"/>
<rect x="901.18" y="410.70" width="20.62" height="20.85" fill="rgb(62,62,62)"/>
<rect x="518.40" y="431.05" width="21.12" height="20.85" fill="rgb(12,12,12)"/>
<rect x="539.02" y="431.05" width="20.62" height="20.85" fill="rgb(14,14,14)"/>
<rect x="559.14" y="431.05" width="20.62" height="20.85" fill="rgb(16,16,16)"/>
<rect x="579.26" y="431.05" width="20.62" height="20.85" fill="rgb(18,18,18)"/>
<rect x="599.38" y="431.05" width="20.62" height="20.85" fill="rgb(20,20,20)"/>
<rect x="619.50" y="431.05" width="20.62" height="20.85" fill="rgb(24,24,24)"/>
<rect x="639.62" y="431.05" width="20.62" height="20.85" fill="rgb(26,26,26)"/>
<rect x="659.74" y="431.05" width="20.62" height="20.85" fill="rgb(28,28,28)"/>
<rect x="679.86" y="431.05" width="20.62" height="20.85" fill="rgb(30,30,30)"/>
<rect x="699.98" y="431.05" width="20.62" height="20.85" fill="rgb(32,32,32)"/>
<rect x="720.10" y="431.05" width="20.62" height="20.85" fill="rgb(34,34,34)"/>
<rect x="740.22" y="431.05" width="20.62" height="20.85" fill="rgb(36,36,36)"/>
<rect x="760.34" y="431.05" width="20.62" height="20.85" fill="rgb(35,35,35)"/>
<rect x="780.46" y="431.05" width="20.62" height="20.85" fill="rgb(40,40,40)"/>
<rect x="800.58" y="431.05" width="20.62" height="20.85" fill="rgb(46,46,46)"/>
<rect x="820.70" y="431.05" width="20.62" height="20.85" fill="rgb(48,48,48)"/>
<rect x="840.82" y="431.05" width="20.62" height="20.85" fill="rgb(65,65,65)"/>
<rect x="860.94" y="431.05" width="20.62" height="20.85" fill="rgb(52,52,52)"/>
<rect x="881.06" y="431.05" width="20.62" height="20.85" fill="rgb(55,55,55)"/>
<rect x="901.18" y="431.05" width="20.62" height="20.85" fill="rgb(58,58,58)"/>
</g>
<line x1="921.3" y1="48.1" x2="921.3" y2="450.7" stroke="#000" stroke-width="1.2"/>
<line x1="518.4" y1="450.2" x2="921.3" y2="450.2" stroke="#000" stroke-width="1.2"/>
<g shape-rendering="crispEdges">
<rect x="28.70" y="525.50" width="20.50" height="20.50" fill="#5CCA7A"/>
<rect x="48.80" y="525.50" width="20.50" height="20.50" fill="#5CCA7A"/>
<rect x="68.90" y="525.50" width="20.50" height="20.50" fill="#5CCA7A"/>
<rect x="89.00" y="525.50" width="20.50" height="20.50" fill="#5CCA7A"/>
<rect x="109.10" y="525.50" width="20.50" height="20.50" fill="#28C2A8"/>
<rect x="129.20" y="525.50" width="20.50" height="20.50" fill="#98C64C"/>
<rect x="149.30" y="525.50" width="20.50" height="20.50" fill="#10BAC8"/>
<rect x="169.40" y="525.50" width="20.50" height="20.50" fill="#28C2A8"/>
<rect x="189.50" y="525.50" width="20.50" height="20.50" fill="#5CCA7A"/>
<rect x="209.60" y="525.50" width="20.50" height="20.50" fill="#5CCA7A"/>
<rect x="229.70" y="525.50" width="20.50" height="20.50" fill="#28C2A8"/>
<rect x="249.80" y="525.50" width="20.50" height="20.50" fill="#28C2A8"/>
<rect x="269.90" y="525.50" width="20.50" height="20.50" fill="#28C2A8"/>
<rect x="290.00" y="525.50" width="20.50" height="20.50" fill="#10BAC8"/>
<rect x="310.10" y="525.50" width="20.50" height="20.50" fill="#10BAC8"/>
<rect x="330.20" y="525.50" width="20.50" height="20.50" fill="#10BAC8"/>
<rect x="350.30" y="525.50" width="20.50" height="20.50" fill="#10BAC8"/>
<rect x="370.40" y="525.50" width="20.50" height="20.50" fill="#5CCA7A"/>
<rect x="390.50" y="525.50" width="20.50" height="20.50" fill="#28C2A8"/>
<rect x="410.60" y="525.50" width="20.50" height="20.50" fill="#28C2A8"/>
<rect x="28.70" y="545.60" width="20.50" height="20.50" fill="#28C2A8"/>
<rect x="48.80" y="545.60" width="20.50" height="20.50" fill="#98C64C"/>
<rect x="68.90" y="545.60" width="20.50" height="20.50" fill="#5CCA7A"/>
<rect x="89.00" y="545.60" width="20.50" height="20.50" fill="#5CCA7A"/>
<rect x="109.10" y="545.60" width="20.50" height="20.50" fill="#5CCA7A"/>
<rect x="129.20" y="545.60" width="20.50" height="20.50" fill="#5CCA7A"/>
<rect x="149.30" y="545.60" width="20.50" height="20.50" fill="#98C64C"/>
<rect x="169.40" y="545.60" width="20.50" height="20.50" fill="#10BAC8"/>
<rect x="189.50" y="545.60" width="20.50" height="20.50" fill="#28C2A8"/>
<rect x="209.60" y="545.60" width="20.50" height="20.50" fill="#28C2A8"/>
<rect x="229.70" y="545.60" width="20.50" height="20.50" fill="#5CCA7A"/>
<rect x="249.80" y="545.60" width="20.50" height="20.50" fill="#5CCA7A"/>
<rect x="269.90" y="545.60" width="20.50" height="20.50" fill="#28C2A8"/>
<rect x="290.00" y="545.60" width="20.50" height="20.50" fill="#28C2A8"/>
<rect x="310.10" y="545.60" width="20.50" height="20.50" fill="#28C2A8"/>
<rect x="330.20" y="545.60" width="20.50" height="20.50" fill="#5CCA7A"/>
<rect x="350.30" y="545.60" width="20.50" height="20.50" fill="#5CCA7A"/>
<rect x="370.40" y="545.60" width="20.50" height="20.50" fill="#5CCA7A"/>
<rect x="390.50" y="545.60" width="20.50" height="20.50" fill="#28C2A8"/>
<rect x="410.60" y="545.60" width="20.50" height="20.50" fill="#28C2A8"/>
<rect x="28.70" y="565.70" width="20.50" height="20.50" fill="#74CA66"/>
<rect x="48.80" y="565.70" width="20.50" height="20.50" fill="#5CCA7A"/>
<rect x="68.90" y="565.70" width="20.50" height="20.50" fill="#5CCA7A"/>
<rect x="89.00" y="565.70" width="20.50" height="20.50" fill="#5CCA7A"/>
<rect x="109.10" y="565.70" width="20.50" height="20.50" fill="#5CCA7A"/>
<rect x="129.20" y="565.70" width="20.50" height="20.50" fill="#28C2A8"/>
<rect x="149.30" y="565.70" width="20.50" height="20.50" fill="#28C2A8"/>
<rect x="169.40" y="565.70" width="20.50" height="20.50" fill="#5CCA7A"/>
<rect x="189.50" y="565.70" width="20.50" height="20.50" fill="#28C2A8"/>
<rect x="209.60" y="565.70" width="20.50" height="20.50" fill="#28C2A8"/>
<rect x="229.70" y="565.70" width="20.50" height="20.50" fill="#10BAC8"/>
<rect x="249.80" y="565.70" width="20.50" height="20.50" fill="#28C2A8"/>
<rect x="269.90" y="565.70" width="20.50" height="20.50" fill="#28C2A8"/>
<rect x="290.00" y="565.70" width="20.50" height="20.50" fill="#28C2A8"/>
<rect x="310.10" y="565.70" width="20.50" height="20.50" fill="#5CCA7A"/>
<rect x="330.20" y="565.70" width="20.50" height="20.50" fill="#5CCA7A"/>
<rect x="350.30" y="565.70" width="20.50" height="20.50" fill="#28C2A8"/>
<rect x="370.40" y="565.70" width="20.50" height="20.50" fill="#28C2A8"/>
<rect x="390.50" y="565.70" width="20.50" height="20.50" fill="#28C2A8"/>
<rect x="410.60" y="565.70" width="20.50" height="20.50" fill="#28C2A8"/>
<rect x="28.70" y="585.80" width="20.50" height="20.50" fill="#2E88EE"/>
<rect x="48.80" y="585.80" width="20.50" height="20.50" fill="#28C2A8"/>
<rect x="68.90" y="585.80" width="20.50" height="20.50" fill="#28C2A8"/>
<rect x="89.00" y="585.80" width="20.50" height="20.50" fill="#28C2A8"/>
<rect x="109.10" y="585.80" width="20.50" height="20.50" fill="#28C2A8"/>
<rect x="129.20" y="585.80" width="20.50" height="20.50" fill="#5CCA7A"/>
<rect x="149.30" y="585.80" width="20.50" height="20.50" fill="#5CCA7A"/>
<rect x="169.40" y="585.80" width="20.50" height="20.50" fill="#28C2A8"/>
<rect x="189.50" y="585.80" width="20.50" height="20.50" fill="#28C2A8"/>
<rect x="209.60" y="585.80" width="20.50" height="20.50" fill="#5CCA7A"/>
<rect x="229.70" y="585.80" width="20.50" height="20.50" fill="#10BAC8"/>
<rect x="249.80" y="585.80" width="20.50" height="20.50" fill="#10BAC8"/>
<rect x="269.90" y="585.80" width="20.50" height="20.50" fill="#28C2A8"/>
<rect x="290.00" y="585.80" width="20.50" height="20.50" fill="#18A6DE"/>
<rect x="310.10" y="585.80" width="20.50" height="20.50" fill="#18A6DE"/>
<rect x="330.20" y="585.80" width="20.50" height="20.50" fill="#18A6DE"/>
<rect x="350.30" y="585.80" width="20.50" height="20.50" fill="#28C2A8"/>
<rect x="370.40" y="585.80" width="20.50" height="20.50" fill="#28C2A8"/>
<rect x="390.50" y="585.80" width="20.50" height="20.50" fill="#5CCA7A"/>
<rect x="410.60" y="585.80" width="20.50" height="20.50" fill="#28C2A8"/>
<rect x="28.70" y="605.90" width="20.50" height="20.50" fill="#10BAC8"/>
<rect x="48.80" y="605.90" width="20.50" height="20.50" fill="#74CA66"/>
<rect x="68.90" y="605.90" width="20.50" height="20.50" fill="#74CA66"/>
<rect x="89.00" y="605.90" width="20.50" height="20.50" fill="#10BAC8"/>
<rect x="109.10" y="605.90" width="20.50" height="20.50" fill="#10BAC8"/>
<rect x="129.20" y="605.90" width="20.50" height="20.50" fill="#10BAC8"/>
<rect x="149.30" y="605.90" width="20.50" height="20.50" fill="#28C2A8"/>
<rect x="169.40" y="605.90" width="20.50" height="20.50" fill="#98C64C"/>
<rect x="189.50" y="605.90" width="20.50" height="20.50" fill="#28C2A8"/>
<rect x="209.60" y="605.90" width="20.50" height="20.50" fill="#28C2A8"/>
<rect x="229.70" y="605.90" width="20.50" height="20.50" fill="#2E88EE"/>
<rect x="249.80" y="605.90" width="20.50" height="20.50" fill="#2E88EE"/>
<rect x="269.90" y="605.90" width="20.50" height="20.50" fill="#18A6DE"/>
<rect x="290.00" y="605.90" width="20.50" height="20.50" fill="#18A6DE"/>
<rect x="310.10" y="605.90" width="20.50" height="20.50" fill="#18A6DE"/>
<rect x="330.20" y="605.90" width="20.50" height="20.50" fill="#18A6DE"/>
<rect x="350.30" y="605.90" width="20.50" height="20.50" fill="#10BAC8"/>
<rect x="370.40" y="605.90" width="20.50" height="20.50" fill="#28C2A8"/>
<rect x="390.50" y="605.90" width="20.50" height="20.50" fill="#10BAC8"/>
<rect x="410.60" y="605.90" width="20.50" height="20.50" fill="#28C2A8"/>
<rect x="28.70" y="626.00" width="20.50" height="20.50" fill="#5CCA7A"/>
<rect x="48.80" y="626.00" width="20.50" height="20.50" fill="#28C2A8"/>
<rect x="68.90" y="626.00" width="20.50" height="20.50" fill="#5CCA7A"/>
<rect x="89.00" y="626.00" width="20.50" height="20.50" fill="#2E88EE"/>
<rect x="109.10" y="626.00" width="20.50" height="20.50" fill="#5CCA7A"/>
<rect x="129.20" y="626.00" width="20.50" height="20.50" fill="#10BAC8"/>
<rect x="149.30" y="626.00" width="20.50" height="20.50" fill="#28C2A8"/>
<rect x="169.40" y="626.00" width="20.50" height="20.50" fill="#28C2A8"/>
<rect x="189.50" y="626.00" width="20.50" height="20.50" fill="#28C2A8"/>
<rect x="209.60" y="626.00" width="20.50" height="20.50" fill="#18A6DE"/>
<rect x="229.70" y="626.00" width="20.50" height="20.50" fill="#18A6DE"/>
<rect x="249.80" y="626.00" width="20.50" height="20.50" fill="#C8BC2E"/>
<rect x="269.90" y="626.00" width="20.50" height="20.50" fill="#2E88EE"/>
<rect x="290.00" y="626.00" width="20.50" height="20.50" fill="#18A6DE"/>
<rect x="310.10" y="626.00" width="20.50" height="20.50" fill="#2E88EE"/>
<rect x="330.20" y="626.00" width="20.50" height="20.50" fill="#2E88EE"/>
<rect x="350.30" y="626.00" width="20.50" height="20.50" fill="#18A6DE"/>
<rect x="370.40" y="626.00" width="20.50" height="20.50" fill="#28C2A8"/>
<rect x="390.50" y="626.00" width="20.50" height="20.50" fill="#28C2A8"/>
<rect x="410.60" y="626.00" width="20.50" height="20.50" fill="#18A6DE"/>
<rect x="28.70" y="646.10" width="20.50" height="20.50" fill="#5CCA7A"/>
<rect x="48.80" y="646.10" width="20.50" height="20.50" fill="#C8BC2E"/>
<rect x="68.90" y="646.10" width="20.50" height="20.50" fill="#28C2A8"/>
<rect x="89.00" y="646.10" width="20.50" height="20.50" fill="#28C2A8"/>
<rect x="109.10" y="646.10" width="20.50" height="20.50" fill="#98C64C"/>
<rect x="129.20" y="646.10" width="20.50" height="20.50" fill="#5CCA7A"/>
<rect x="149.30" y="646.10" width="20.50" height="20.50" fill="#5CCA7A"/>
<rect x="169.40" y="646.10" width="20.50" height="20.50" fill="#5CCA7A"/>
<rect x="189.50" y="646.10" width="20.50" height="20.50" fill="#18A6DE"/>
<rect x="209.60" y="646.10" width="20.50" height="20.50" fill="#28C2A8"/>
<rect x="229.70" y="646.10" width="20.50" height="20.50" fill="#2E88EE"/>
<rect x="249.80" y="646.10" width="20.50" height="20.50" fill="#2E88EE"/>
<rect x="269.90" y="646.10" width="20.50" height="20.50" fill="#2E88EE"/>
<rect x="290.00" y="646.10" width="20.50" height="20.50" fill="#2E88EE"/>
<rect x="310.10" y="646.10" width="20.50" height="20.50" fill="#4560F2"/>
<rect x="330.20" y="646.10" width="20.50" height="20.50" fill="#F9F512"/>
<rect x="350.30" y="646.10" width="20.50" height="20.50" fill="#FCCD30"/>
<rect x="370.40" y="646.10" width="20.50" height="20.50" fill="#28C2A8"/>
<rect x="390.50" y="646.10" width="20.50" height="20.50" fill="#2E88EE"/>
<rect x="410.60" y="646.10" width="20.50" height="20.50" fill="#2E88EE"/>
<rect x="28.70" y="666.20" width="20.50" height="20.50" fill="#5CCA7A"/>
<rect x="48.80" y="666.20" width="20.50" height="20.50" fill="#5CCA7A"/>
<rect x="68.90" y="666.20" width="20.50" height="20.50" fill="#5CCA7A"/>
<rect x="89.00" y="666.20" width="20.50" height="20.50" fill="#28C2A8"/>
<rect x="109.10" y="666.20" width="20.50" height="20.50" fill="#5CCA7A"/>
<rect x="129.20" y="666.20" width="20.50" height="20.50" fill="#5CCA7A"/>
<rect x="149.30" y="666.20" width="20.50" height="20.50" fill="#5CCA7A"/>
<rect x="169.40" y="666.20" width="20.50" height="20.50" fill="#10BAC8"/>
<rect x="189.50" y="666.20" width="20.50" height="20.50" fill="#28C2A8"/>
<rect x="209.60" y="666.20" width="20.50" height="20.50" fill="#2E88EE"/>
<rect x="229.70" y="666.20" width="20.50" height="20.50" fill="#18A6DE"/>
<rect x="249.80" y="666.20" width="20.50" height="20.50" fill="#4560F2"/>
<rect x="269.90" y="666.20" width="20.50" height="20.50" fill="#18A6DE"/>
<rect x="290.00" y="666.20" width="20.50" height="20.50" fill="#28C2A8"/>
<rect x="310.10" y="666.20" width="20.50" height="20.50" fill="#18A6DE"/>
<rect x="330.20" y="666.20" width="20.50" height="20.50" fill="#2E88EE"/>
<rect x="350.30" y="666.20" width="20.50" height="20.50" fill="#18A6DE"/>
<rect x="370.40" y="666.20" width="20.50" height="20.50" fill="#2E88EE"/>
<rect x="390.50" y="666.20" width="20.50" height="20.50" fill="#2E88EE"/>
<rect x="410.60" y="666.20" width="20.50" height="20.50" fill="#2E88EE"/>
<rect x="28.70" y="686.30" width="20.50" height="20.50" fill="#5CCA7A"/>
<rect x="48.80" y="686.30" width="20.50" height="20.50" fill="#5CCA7A"/>
<rect x="68.90" y="686.30" width="20.50" height="20.50" fill="#5CCA7A"/>
<rect x="89.00" y="686.30" width="20.50" height="20.50" fill="#28C2A8"/>
<rect x="109.10" y="686.30" width="20.50" height="20.50" fill="#28C2A8"/>
<rect x="129.20" y="686.30" width="20.50" height="20.50" fill="#28C2A8"/>
<rect x="149.30" y="686.30" width="20.50" height="20.50" fill="#10BAC8"/>
<rect x="169.40" y="686.30" width="20.50" height="20.50" fill="#28C2A8"/>
<rect x="189.50" y="686.30" width="20.50" height="20.50" fill="#10BAC8"/>
<rect x="209.60" y="686.30" width="20.50" height="20.50" fill="#10BAC8"/>
<rect x="229.70" y="686.30" width="20.50" height="20.50" fill="#18A6DE"/>
<rect x="249.80" y="686.30" width="20.50" height="20.50" fill="#18A6DE"/>
<rect x="269.90" y="686.30" width="20.50" height="20.50" fill="#28C2A8"/>
<rect x="290.00" y="686.30" width="20.50" height="20.50" fill="#18A6DE"/>
<rect x="310.10" y="686.30" width="20.50" height="20.50" fill="#18A6DE"/>
<rect x="330.20" y="686.30" width="20.50" height="20.50" fill="#10BAC8"/>
<rect x="350.30" y="686.30" width="20.50" height="20.50" fill="#5CCA7A"/>
<rect x="370.40" y="686.30" width="20.50" height="20.50" fill="#18A6DE"/>
<rect x="390.50" y="686.30" width="20.50" height="20.50" fill="#2E88EE"/>
<rect x="410.60" y="686.30" width="20.50" height="20.50" fill="#2E88EE"/>
<rect x="28.70" y="706.40" width="20.50" height="20.50" fill="#28C2A8"/>
<rect x="48.80" y="706.40" width="20.50" height="20.50" fill="#10BAC8"/>
<rect x="68.90" y="706.40" width="20.50" height="20.50" fill="#98C64C"/>
<rect x="89.00" y="706.40" width="20.50" height="20.50" fill="#5CCA7A"/>
<rect x="109.10" y="706.40" width="20.50" height="20.50" fill="#18A6DE"/>
<rect x="129.20" y="706.40" width="20.50" height="20.50" fill="#28C2A8"/>
<rect x="149.30" y="706.40" width="20.50" height="20.50" fill="#5CCA7A"/>
<rect x="169.40" y="706.40" width="20.50" height="20.50" fill="#2E88EE"/>
<rect x="189.50" y="706.40" width="20.50" height="20.50" fill="#5CCA7A"/>
<rect x="209.60" y="706.40" width="20.50" height="20.50" fill="#28C2A8"/>
<rect x="229.70" y="706.40" width="20.50" height="20.50" fill="#18A6DE"/>
<rect x="249.80" y="706.40" width="20.50" height="20.50" fill="#18A6DE"/>
<rect x="269.90" y="706.40" width="20.50" height="20.50" fill="#2E88EE"/>
<rect x="290.00" y="706.40" width="20.50" height="20.50" fill="#18A6DE"/>
<rect x="310.10" y="706.40" width="20.50" height="20.50" fill="#18A6DE"/>
<rect x="330.20" y="706.40" width="20.50" height="20.50" fill="#2E88EE"/>
<rect x="350.30" y="706.40" width="20.50" height="20.50" fill="#2E88EE"/>
<rect x="370.40" y="706.40" width="20.50" height="20.50" fill="#18A6DE"/>
<rect x="390.50" y="706.40" width="20.50" height="20.50" fill="#2E88EE"/>
<rect x="410.60" y="706.40" width="20.50" height="20.50" fill="#2E88EE"/>
<rect x="28.70" y="726.50" width="20.50" height="20.50" fill="#5CCA7A"/>
<rect x="48.80" y="726.50" width="20.50" height="20.50" fill="#10BAC8"/>
<rect x="68.90" y="726.50" width="20.50" height="20.50" fill="#98C64C"/>
<rect x="89.00" y="726.50" width="20.50" height="20.50" fill="#28C2A8"/>
<rect x="109.10" y="726.50" width="20.50" height="20.50" fill="#28C2A8"/>
<rect x="129.20" y="726.50" width="20.50" height="20.50" fill="#28C2A8"/>
<rect x="149.30" y="726.50" width="20.50" height="20.50" fill="#C8BC2E"/>
<rect x="169.40" y="726.50" width="20.50" height="20.50" fill="#28C2A8"/>
<rect x="189.50" y="726.50" width="20.50" height="20.50" fill="#5CCA7A"/>
<rect x="209.60" y="726.50" width="20.50" height="20.50" fill="#28C2A8"/>
<rect x="229.70" y="726.50" width="20.50" height="20.50" fill="#10BAC8"/>
<rect x="249.80" y="726.50" width="20.50" height="20.50" fill="#28C2A8"/>
<rect x="269.90" y="726.50" width="20.50" height="20.50" fill="#28C2A8"/>
<rect x="290.00" y="726.50" width="20.50" height="20.50" fill="#10BAC8"/>
<rect x="310.10" y="726.50" width="20.50" height="20.50" fill="#10BAC8"/>
<rect x="330.20" y="726.50" width="20.50" height="20.50" fill="#10BAC8"/>
<rect x="350.30" y="726.50" width="20.50" height="20.50" fill="#2E88EE"/>
<rect x="370.40" y="726.50" width="20.50" height="20.50" fill="#10BAC8"/>
<rect x="390.50" y="726.50" width="20.50" height="20.50" fill="#18A6DE"/>
<rect x="410.60" y="726.50" width="20.50" height="20.50" fill="#18A6DE"/>
<rect x="28.70" y="746.60" width="20.50" height="20.50" fill="#ECB52C"/>
<rect x="48.80" y="746.60" width="20.50" height="20.50" fill="#5CCA7A"/>
<rect x="68.90" y="746.60" width="20.50" height="20.50" fill="#28C2A8"/>
<rect x="89.00" y="746.60" width="20.50" height="20.50" fill="#ECB52C"/>
<rect x="109.10" y="746.60" width="20.50" height="20.50" fill="#5CCA7A"/>
<rect x="129.20" y="746.60" width="20.50" height="20.50" fill="#5CCA7A"/>
<rect x="149.30" y="746.60" width="20.50" height="20.50" fill="#5CCA7A"/>
<rect x="169.40" y="746.60" width="20.50" height="20.50" fill="#ECB52C"/>
<rect x="189.50" y="746.60" width="20.50" height="20.50" fill="#5CCA7A"/>
<rect x="209.60" y="746.60" width="20.50" height="20.50" fill="#10BAC8"/>
<rect x="229.70" y="746.60" width="20.50" height="20.50" fill="#28C2A8"/>
<rect x="249.80" y="746.60" width="20.50" height="20.50" fill="#28C2A8"/>
<rect x="269.90" y="746.60" width="20.50" height="20.50" fill="#10BAC8"/>
<rect x="290.00" y="746.60" width="20.50" height="20.50" fill="#10BAC8"/>
<rect x="310.10" y="746.60" width="20.50" height="20.50" fill="#18A6DE"/>
<rect x="330.20" y="746.60" width="20.50" height="20.50" fill="#18A6DE"/>
<rect x="350.30" y="746.60" width="20.50" height="20.50" fill="#2E88EE"/>
<rect x="370.40" y="746.60" width="20.50" height="20.50" fill="#3B72F6"/>
<rect x="390.50" y="746.60" width="20.50" height="20.50" fill="#18A6DE"/>
<rect x="410.60" y="746.60" width="20.50" height="20.50" fill="#18A6DE"/>
<rect x="28.70" y="766.70" width="20.50" height="20.50" fill="#ECB52C"/>
<rect x="48.80" y="766.70" width="20.50" height="20.50" fill="#10BAC8"/>
<rect x="68.90" y="766.70" width="20.50" height="20.50" fill="#28C2A8"/>
<rect x="89.00" y="766.70" width="20.50" height="20.50" fill="#5CCA7A"/>
<rect x="109.10" y="766.70" width="20.50" height="20.50" fill="#28C2A8"/>
<rect x="129.20" y="766.70" width="20.50" height="20.50" fill="#98C64C"/>
<rect x="149.30" y="766.70" width="20.50" height="20.50" fill="#28C2A8"/>
<rect x="169.40" y="766.70" width="20.50" height="20.50" fill="#28C2A8"/>
<rect x="189.50" y="766.70" width="20.50" height="20.50" fill="#5CCA7A"/>
<rect x="209.60" y="766.70" width="20.50" height="20.50" fill="#10BAC8"/>
<rect x="229.70" y="766.70" width="20.50" height="20.50" fill="#28C2A8"/>
<rect x="249.80" y="766.70" width="20.50" height="20.50" fill="#28C2A8"/>
<rect x="269.90" y="766.70" width="20.50" height="20.50" fill="#18A6DE"/>
<rect x="290.00" y="766.70" width="20.50" height="20.50" fill="#2E88EE"/>
<rect x="310.10" y="766.70" width="20.50" height="20.50" fill="#18A6DE"/>
<rect x="330.20" y="766.70" width="20.50" height="20.50" fill="#2E88EE"/>
<rect x="350.30" y="766.70" width="20.50" height="20.50" fill="#2E88EE"/>
<rect x="370.40" y="766.70" width="20.50" height="20.50" fill="#18A6DE"/>
<rect x="390.50" y="766.70" width="20.50" height="20.50" fill="#18A6DE"/>
<rect x="410.60" y="766.70" width="20.50" height="20.50" fill="#2E88EE"/>
<rect x="28.70" y="786.80" width="20.50" height="20.50" fill="#18A6DE"/>
<rect x="48.80" y="786.80" width="20.50" height="20.50" fill="#5CCA7A"/>
<rect x="68.90" y="786.80" width="20.50" height="20.50" fill="#98C64C"/>
<rect x="89.00" y="786.80" width="20.50" height="20.50" fill="#28C2A8"/>
<rect x="109.10" y="786.80" width="20.50" height="20.50" fill="#28C2A8"/>
<rect x="129.20" y="786.80" width="20.50" height="20.50" fill="#98C64C"/>
<rect x="149.30" y="786.80" width="20.50" height="20.50" fill="#5CCA7A"/>
<rect x="169.40" y="786.80" width="20.50" height="20.50" fill="#98C64C"/>
<rect x="189.50" y="786.80" width="20.50" height="20.50" fill="#C8BC2E"/>
<rect x="209.60" y="786.80" width="20.50" height="20.50" fill="#C8BC2E"/>
<rect x="229.70" y="786.80" width="20.50" height="20.50" fill="#C8BC2E"/>
<rect x="249.80" y="786.80" width="20.50" height="20.50" fill="#5CCA7A"/>
<rect x="269.90" y="786.80" width="20.50" height="20.50" fill="#10BAC8"/>
<rect x="290.00" y="786.80" width="20.50" height="20.50" fill="#4560F2"/>
<rect x="310.10" y="786.80" width="20.50" height="20.50" fill="#18A6DE"/>
<rect x="330.20" y="786.80" width="20.50" height="20.50" fill="#18A6DE"/>
<rect x="350.30" y="786.80" width="20.50" height="20.50" fill="#2E88EE"/>
<rect x="370.40" y="786.80" width="20.50" height="20.50" fill="#2E88EE"/>
<rect x="390.50" y="786.80" width="20.50" height="20.50" fill="#18A6DE"/>
<rect x="410.60" y="786.80" width="20.50" height="20.50" fill="#3D27A5"/>
<rect x="28.70" y="806.90" width="20.50" height="20.50" fill="#5CCA7A"/>
<rect x="48.80" y="806.90" width="20.50" height="20.50" fill="#98C64C"/>
<rect x="68.90" y="806.90" width="20.50" height="20.50" fill="#5CCA7A"/>
<rect x="89.00" y="806.90" width="20.50" height="20.50" fill="#18A6DE"/>
<rect x="109.10" y="806.90" width="20.50" height="20.50" fill="#28C2A8"/>
<rect x="129.20" y="806.90" width="20.50" height="20.50" fill="#ECB52C"/>
<rect x="149.30" y="806.90" width="20.50" height="20.50" fill="#28C2A8"/>
<rect x="169.40" y="806.90" width="20.50" height="20.50" fill="#5CCA7A"/>
<rect x="189.50" y="806.90" width="20.50" height="20.50" fill="#28C2A8"/>
<rect x="209.60" y="806.90" width="20.50" height="20.50" fill="#28C2A8"/>
<rect x="229.70" y="806.90" width="20.50" height="20.50" fill="#ECB52C"/>
<rect x="249.80" y="806.90" width="20.50" height="20.50" fill="#C8BC2E"/>
<rect x="269.90" y="806.90" width="20.50" height="20.50" fill="#98C64C"/>
<rect x="290.00" y="806.90" width="20.50" height="20.50" fill="#28C2A8"/>
<rect x="310.10" y="806.90" width="20.50" height="20.50" fill="#2E88EE"/>
<rect x="330.20" y="806.90" width="20.50" height="20.50" fill="#2E88EE"/>
<rect x="350.30" y="806.90" width="20.50" height="20.50" fill="#18A6DE"/>
<rect x="370.40" y="806.90" width="20.50" height="20.50" fill="#18A6DE"/>
<rect x="390.50" y="806.90" width="20.50" height="20.50" fill="#18A6DE"/>
<rect x="410.60" y="806.90" width="20.50" height="20.50" fill="#2E88EE"/>
<rect x="28.70" y="827.00" width="20.50" height="20.50" fill="#FFFFFF"/>
<rect x="48.80" y="827.00" width="20.50" height="20.50" fill="#28C2A8"/>
<rect x="68.90" y="827.00" width="20.50" height="20.50" fill="#98C64C"/>
<rect x="89.00" y="827.00" width="20.50" height="20.50" fill="#28C2A8"/>
<rect x="109.10" y="827.00" width="20.50" height="20.50" fill="#28C2A8"/>
<rect x="129.20" y="827.00" width="20.50" height="20.50" fill="#28C2A8"/>
<rect x="149.30" y="827.00" width="20.50" height="20.50" fill="#5CCA7A"/>
<rect x="169.40" y="827.00" width="20.50" height="20.50" fill="#28C2A8"/>
<rect x="189.50" y="827.00" width="20.50" height="20.50" fill="#10BAC8"/>
<rect x="209.60" y="827.00" width="20.50" height="20.50" fill="#10BAC8"/>
<rect x="229.70" y="827.00" width="20.50" height="20.50" fill="#C8BC2E"/>
<rect x="249.80" y="827.00" width="20.50" height="20.50" fill="#28C2A8"/>
<rect x="269.90" y="827.00" width="20.50" height="20.50" fill="#18A6DE"/>
<rect x="290.00" y="827.00" width="20.50" height="20.50" fill="#2E88EE"/>
<rect x="310.10" y="827.00" width="20.50" height="20.50" fill="#10BAC8"/>
<rect x="330.20" y="827.00" width="20.50" height="20.50" fill="#2E88EE"/>
<rect x="350.30" y="827.00" width="20.50" height="20.50" fill="#18A6DE"/>
<rect x="370.40" y="827.00" width="20.50" height="20.50" fill="#5CCA7A"/>
<rect x="390.50" y="827.00" width="20.50" height="20.50" fill="#98C64C"/>
<rect x="410.60" y="827.00" width="20.50" height="20.50" fill="#18A6DE"/>
<rect x="28.70" y="847.10" width="20.50" height="20.50" fill="#FFFFFF"/>
<rect x="48.80" y="847.10" width="20.50" height="20.50" fill="#10BAC8"/>
<rect x="68.90" y="847.10" width="20.50" height="20.50" fill="#ECB52C"/>
<rect x="89.00" y="847.10" width="20.50" height="20.50" fill="#98C64C"/>
<rect x="109.10" y="847.10" width="20.50" height="20.50" fill="#C8BC2E"/>
<rect x="129.20" y="847.10" width="20.50" height="20.50" fill="#5CCA7A"/>
<rect x="149.30" y="847.10" width="20.50" height="20.50" fill="#28C2A8"/>
<rect x="169.40" y="847.10" width="20.50" height="20.50" fill="#28C2A8"/>
<rect x="189.50" y="847.10" width="20.50" height="20.50" fill="#10BAC8"/>
<rect x="209.60" y="847.10" width="20.50" height="20.50" fill="#28C2A8"/>
<rect x="229.70" y="847.10" width="20.50" height="20.50" fill="#5CCA7A"/>
<rect x="249.80" y="847.10" width="20.50" height="20.50" fill="#28C2A8"/>
<rect x="269.90" y="847.10" width="20.50" height="20.50" fill="#28C2A8"/>
<rect x="290.00" y="847.10" width="20.50" height="20.50" fill="#28C2A8"/>
<rect x="310.10" y="847.10" width="20.50" height="20.50" fill="#18A6DE"/>
<rect x="330.20" y="847.10" width="20.50" height="20.50" fill="#4540E0"/>
<rect x="350.30" y="847.10" width="20.50" height="20.50" fill="#2E88EE"/>
<rect x="370.40" y="847.10" width="20.50" height="20.50" fill="#ECB52C"/>
<rect x="390.50" y="847.10" width="20.50" height="20.50" fill="#4560F2"/>
<rect x="410.60" y="847.10" width="20.50" height="20.50" fill="#18A6DE"/>
<rect x="28.70" y="867.20" width="20.50" height="20.50" fill="#FFFFFF"/>
<rect x="48.80" y="867.20" width="20.50" height="20.50" fill="#FFFFFF"/>
<rect x="68.90" y="867.20" width="20.50" height="20.50" fill="#98C64C"/>
<rect x="89.00" y="867.20" width="20.50" height="20.50" fill="#28C2A8"/>
<rect x="109.10" y="867.20" width="20.50" height="20.50" fill="#5CCA7A"/>
<rect x="129.20" y="867.20" width="20.50" height="20.50" fill="#5CCA7A"/>
<rect x="149.30" y="867.20" width="20.50" height="20.50" fill="#5CCA7A"/>
<rect x="169.40" y="867.20" width="20.50" height="20.50" fill="#C8BC2E"/>
<rect x="189.50" y="867.20" width="20.50" height="20.50" fill="#5CCA7A"/>
<rect x="209.60" y="867.20" width="20.50" height="20.50" fill="#10BAC8"/>
<rect x="229.70" y="867.20" width="20.50" height="20.50" fill="#18A6DE"/>
<rect x="249.80" y="867.20" width="20.50" height="20.50" fill="#10BAC8"/>
<rect x="269.90" y="867.20" width="20.50" height="20.50" fill="#C8BC2E"/>
<rect x="290.00" y="867.20" width="20.50" height="20.50" fill="#18A6DE"/>
<rect x="310.10" y="867.20" width="20.50" height="20.50" fill="#2E88EE"/>
<rect x="330.20" y="867.20" width="20.50" height="20.50" fill="#2E88EE"/>
<rect x="350.30" y="867.20" width="20.50" height="20.50" fill="#2E88EE"/>
<rect x="370.40" y="867.20" width="20.50" height="20.50" fill="#18A6DE"/>
<rect x="390.50" y="867.20" width="20.50" height="20.50" fill="#3B72F6"/>
<rect x="410.60" y="867.20" width="20.50" height="20.50" fill="#18A6DE"/>
<rect x="28.70" y="887.30" width="20.50" height="20.50" fill="#FFFFFF"/>
<rect x="48.80" y="887.30" width="20.50" height="20.50" fill="#FFFFFF"/>
<rect x="68.90" y="887.30" width="20.50" height="20.50" fill="#FFFFFF"/>
<rect x="89.00" y="887.30" width="20.50" height="20.50" fill="#C8BC2E"/>
<rect x="109.10" y="887.30" width="20.50" height="20.50" fill="#5CCA7A"/>
<rect x="129.20" y="887.30" width="20.50" height="20.50" fill="#18A6DE"/>
<rect x="149.30" y="887.30" width="20.50" height="20.50" fill="#5CCA7A"/>
<rect x="169.40" y="887.30" width="20.50" height="20.50" fill="#2E88EE"/>
<rect x="189.50" y="887.30" width="20.50" height="20.50" fill="#98C64C"/>
<rect x="209.60" y="887.30" width="20.50" height="20.50" fill="#C8BC2E"/>
<rect x="229.70" y="887.30" width="20.50" height="20.50" fill="#28C2A8"/>
<rect x="249.80" y="887.30" width="20.50" height="20.50" fill="#18A6DE"/>
<rect x="269.90" y="887.30" width="20.50" height="20.50" fill="#10BAC8"/>
<rect x="290.00" y="887.30" width="20.50" height="20.50" fill="#2E88EE"/>
<rect x="310.10" y="887.30" width="20.50" height="20.50" fill="#4560F2"/>
<rect x="330.20" y="887.30" width="20.50" height="20.50" fill="#2E88EE"/>
<rect x="350.30" y="887.30" width="20.50" height="20.50" fill="#4560F2"/>
<rect x="370.40" y="887.30" width="20.50" height="20.50" fill="#2E88EE"/>
<rect x="390.50" y="887.30" width="20.50" height="20.50" fill="#18A6DE"/>
<rect x="410.60" y="887.30" width="20.50" height="20.50" fill="#18A6DE"/>
<rect x="28.70" y="907.40" width="20.50" height="20.50" fill="#FFFFFF"/>
<rect x="48.80" y="907.40" width="20.50" height="20.50" fill="#FFFFFF"/>
<rect x="68.90" y="907.40" width="20.50" height="20.50" fill="#FFFFFF"/>
<rect x="89.00" y="907.40" width="20.50" height="20.50" fill="#FFFFFF"/>
<rect x="109.10" y="907.40" width="20.50" height="20.50" fill="#3B72F6"/>
<rect x="129.20" y="907.40" width="20.50" height="20.50" fill="#2E88EE"/>
<rect x="149.30" y="907.40" width="20.50" height="20.50" fill="#18A6DE"/>
<rect x="169.40" y="907.40" width="20.50" height="20.50" fill="#18A6DE"/>
<rect x="189.50" y="907.40" width="20.50" height="20.50" fill="#18A6DE"/>
<rect x="209.60" y="907.40" width="20.50" height="20.50" fill="#10BAC8"/>
<rect x="229.70" y="907.40" width="20.50" height="20.50" fill="#10BAC8"/>
<rect x="249.80" y="907.40" width="20.50" height="20.50" fill="#5CCA7A"/>
<rect x="269.90" y="907.40" width="20.50" height="20.50" fill="#28C2A8"/>
<rect x="290.00" y="907.40" width="20.50" height="20.50" fill="#10BAC8"/>
<rect x="310.10" y="907.40" width="20.50" height="20.50" fill="#18A6DE"/>
<rect x="330.20" y="907.40" width="20.50" height="20.50" fill="#2E88EE"/>
<rect x="350.30" y="907.40" width="20.50" height="20.50" fill="#2E88EE"/>
<rect x="370.40" y="907.40" width="20.50" height="20.50" fill="#18A6DE"/>
<rect x="390.50" y="907.40" width="20.50" height="20.50" fill="#2E88EE"/>
<rect x="410.60" y="907.40" width="20.50" height="20.50" fill="#2E88EE"/>
</g>
<rect x="28.7" y="889.4" width="121.5" height="20.1" fill="#fff"/>
<line x1="29.2" y1="826" x2="29.2" y2="928" stroke="#888" stroke-width="1"/>
<line x1="29" y1="927.6" x2="110" y2="927.6" stroke="#888" stroke-width="1"/>
<line x1="29" y1="918" x2="32" y2="918" stroke="#222" stroke-width="1.5"/>
<g shape-rendering="crispEdges">
<rect x="523.30" y="527.90" width="20.60" height="20.40" fill="#4658F2"/>
<rect x="543.50" y="527.90" width="20.60" height="20.40" fill="#4658F2"/>
<rect x="563.70" y="527.90" width="20.60" height="20.40" fill="#4658F2"/>
<rect x="583.90" y="527.90" width="20.60" height="20.40" fill="#4658F2"/>
<rect x="604.10" y="527.90" width="20.60" height="20.40" fill="#4658F2"/>
<rect x="624.30" y="527.90" width="20.60" height="20.40" fill="#4264F4"/>
<rect x="644.50" y="527.90" width="20.60" height="20.40" fill="#4264F4"/>
<rect x="664.70" y="527.90" width="20.60" height="20.40" fill="#4264F4"/>
<rect x="684.90" y="527.90" width="20.60" height="20.40" fill="#4264F4"/>
<rect x="705.10" y="527.90" width="20.60" height="20.40" fill="#3A78F5"/>
<rect x="725.30" y="527.90" width="20.60" height="20.40" fill="#3A78F5"/>
<rect x="745.50" y="527.90" width="20.60" height="20.40" fill="#3A78F5"/>
<rect x="765.70" y="527.90" width="20.60" height="20.40" fill="#2E88F0"/>
<rect x="785.90" y="527.90" width="20.60" height="20.40" fill="#2E88F0"/>
<rect x="806.10" y="527.90" width="20.60" height="20.40" fill="#2E88F0"/>
<rect x="826.30" y="527.90" width="20.60" height="20.40" fill="#2E88F0"/>
<rect x="846.50" y="527.90" width="20.60" height="20.40" fill="#3482F3"/>
<rect x="866.70" y="527.90" width="20.60" height="20.40" fill="#3482F3"/>
<rect x="886.90" y="527.90" width="20.60" height="20.40" fill="#3482F3"/>
<rect x="907.10" y="527.90" width="20.60" height="20.40" fill="#3482F3"/>
<rect x="523.30" y="547.90" width="20.60" height="20.40" fill="#4658F2"/>
<rect x="543.50" y="547.90" width="20.60" height="20.40" fill="#4658F2"/>
<rect x="563.70" y="547.90" width="20.60" height="20.40" fill="#4658F2"/>
<rect x="583.90" y="547.90" width="20.60" height="20.40" fill="#4658F2"/>
<rect x="604.10" y="547.90" width="20.60" height="20.40" fill="#4658F2"/>
<rect x="624.30" y="547.90" width="20.60" height="20.40" fill="#4264F4"/>
<rect x="644.50" y="547.90" width="20.60" height="20.40" fill="#4264F4"/>
<rect x="664.70" y="547.90" width="20.60" height="20.40" fill="#4264F4"/>
<rect x="684.90" y="547.90" width="20.60" height="20.40" fill="#4264F4"/>
<rect x="705.10" y="547.90" width="20.60" height="20.40" fill="#3A78F5"/>
<rect x="725.30" y="547.90" width="20.60" height="20.40" fill="#3A78F5"/>
<rect x="745.50" y="547.90" width="20.60" height="20.40" fill="#3482F3"/>
<rect x="765.70" y="547.90" width="20.60" height="20.40" fill="#3A78F5"/>
<rect x="785.90" y="547.90" width="20.60" height="20.40" fill="#2E88F0"/>
<rect x="806.10" y="547.90" width="20.60" height="20.40" fill="#2E88F0"/>
<rect x="826.30" y="547.90" width="20.60" height="20.40" fill="#2E88F0"/>
<rect x="846.50" y="547.90" width="20.60" height="20.40" fill="#3482F3"/>
<rect x="866.70" y="547.90" width="20.60" height="20.40" fill="#3A78F5"/>
<rect x="886.90" y="547.90" width="20.60" height="20.40" fill="#3A78F5"/>
<rect x="907.10" y="547.90" width="20.60" height="20.40" fill="#3A78F5"/>
<rect x="523.30" y="567.90" width="20.60" height="20.40" fill="#4658F2"/>
<rect x="543.50" y="567.90" width="20.60" height="20.40" fill="#4658F2"/>
<rect x="563.70" y="567.90" width="20.60" height="20.40" fill="#4658F2"/>
<rect x="583.90" y="567.90" width="20.60" height="20.40" fill="#4658F2"/>
<rect x="604.10" y="567.90" width="20.60" height="20.40" fill="#4658F2"/>
<rect x="624.30" y="567.90" width="20.60" height="20.40" fill="#4264F4"/>
<rect x="644.50" y="567.90" width="20.60" height="20.40" fill="#4264F4"/>
<rect x="664.70" y="567.90" width="20.60" height="20.40" fill="#4264F4"/>
<rect x="684.90" y="567.90" width="20.60" height="20.40" fill="#4264F4"/>
<rect x="705.10" y="567.90" width="20.60" height="20.40" fill="#3A78F5"/>
<rect x="725.30" y="567.90" width="20.60" height="20.40" fill="#3A78F5"/>
<rect x="745.50" y="567.90" width="20.60" height="20.40" fill="#3482F3"/>
<rect x="765.70" y="567.90" width="20.60" height="20.40" fill="#2E88F0"/>
<rect x="785.90" y="567.90" width="20.60" height="20.40" fill="#2E88F0"/>
<rect x="806.10" y="567.90" width="20.60" height="20.40" fill="#2E88F0"/>
<rect x="826.30" y="567.90" width="20.60" height="20.40" fill="#3482F3"/>
<rect x="846.50" y="567.90" width="20.60" height="20.40" fill="#3482F3"/>
<rect x="866.70" y="567.90" width="20.60" height="20.40" fill="#3A78F5"/>
<rect x="886.90" y="567.90" width="20.60" height="20.40" fill="#3A78F5"/>
<rect x="907.10" y="567.90" width="20.60" height="20.40" fill="#3482F3"/>
<rect x="523.30" y="587.90" width="20.60" height="20.40" fill="#4658F2"/>
<rect x="543.50" y="587.90" width="20.60" height="20.40" fill="#4658F2"/>
<rect x="563.70" y="587.90" width="20.60" height="20.40" fill="#4658F2"/>
<rect x="583.90" y="587.90" width="20.60" height="20.40" fill="#4658F2"/>
<rect x="604.10" y="587.90" width="20.60" height="20.40" fill="#4658F2"/>
<rect x="624.30" y="587.90" width="20.60" height="20.40" fill="#4658F2"/>
<rect x="644.50" y="587.90" width="20.60" height="20.40" fill="#4264F4"/>
<rect x="664.70" y="587.90" width="20.60" height="20.40" fill="#4264F4"/>
<rect x="684.90" y="587.90" width="20.60" height="20.40" fill="#4264F4"/>
<rect x="705.10" y="587.90" width="20.60" height="20.40" fill="#3A78F5"/>
<rect x="725.30" y="587.90" width="20.60" height="20.40" fill="#3A78F5"/>
<rect x="745.50" y="587.90" width="20.60" height="20.40" fill="#3482F3"/>
<rect x="765.70" y="587.90" width="20.60" height="20.40" fill="#3482F3"/>
<rect x="785.90" y="587.90" width="20.60" height="20.40" fill="#3A78F5"/>
<rect x="806.10" y="587.90" width="20.60" height="20.40" fill="#3A78F5"/>
<rect x="826.30" y="587.90" width="20.60" height="20.40" fill="#3A78F5"/>
<rect x="846.50" y="587.90" width="20.60" height="20.40" fill="#3A78F5"/>
<rect x="866.70" y="587.90" width="20.60" height="20.40" fill="#3A78F5"/>
<rect x="886.90" y="587.90" width="20.60" height="20.40" fill="#3482F3"/>
<rect x="907.10" y="587.90" width="20.60" height="20.40" fill="#3482F3"/>
<rect x="523.30" y="607.90" width="20.60" height="20.40" fill="#4658F2"/>
<rect x="543.50" y="607.90" width="20.60" height="20.40" fill="#4658F2"/>
<rect x="563.70" y="607.90" width="20.60" height="20.40" fill="#4658F2"/>
<rect x="583.90" y="607.90" width="20.60" height="20.40" fill="#4658F2"/>
<rect x="604.10" y="607.90" width="20.60" height="20.40" fill="#4658F2"/>
<rect x="624.30" y="607.90" width="20.60" height="20.40" fill="#4658F2"/>
<rect x="644.50" y="607.90" width="20.60" height="20.40" fill="#4264F4"/>
<rect x="664.70" y="607.90" width="20.60" height="20.40" fill="#4264F4"/>
<rect x="684.90" y="607.90" width="20.60" height="20.40" fill="#4264F4"/>
<rect x="705.10" y="607.90" width="20.60" height="20.40" fill="#3482F3"/>
<rect x="725.30" y="607.90" width="20.60" height="20.40" fill="#20A0E2"/>
<rect x="745.50" y="607.90" width="20.60" height="20.40" fill="#4CC98A"/>
<rect x="765.70" y="607.90" width="20.60" height="20.40" fill="#2E88F0"/>
<rect x="785.90" y="607.90" width="20.60" height="20.40" fill="#3482F3"/>
<rect x="806.10" y="607.90" width="20.60" height="20.40" fill="#3482F3"/>
<rect x="826.30" y="607.90" width="20.60" height="20.40" fill="#3482F3"/>
<rect x="846.50" y="607.90" width="20.60" height="20.40" fill="#3A78F5"/>
<rect x="866.70" y="607.90" width="20.60" height="20.40" fill="#3A78F5"/>
<rect x="886.90" y="607.90" width="20.60" height="20.40" fill="#3A78F5"/>
<rect x="907.10" y="607.90" width="20.60" height="20.40" fill="#3A78F5"/>
<rect x="523.30" y="627.90" width="20.60" height="20.40" fill="#4658F2"/>
<rect x="543.50" y="627.90" width="20.60" height="20.40" fill="#4658F2"/>
<rect x="563.70" y="627.90" width="20.60" height="20.40" fill="#4658F2"/>
<rect x="583.90" y="627.90" width="20.60" height="20.40" fill="#4658F2"/>
<rect x="604.10" y="627.90" width="20.60" height="20.40" fill="#4658F2"/>
<rect x="624.30" y="627.90" width="20.60" height="20.40" fill="#4658F2"/>
<rect x="644.50" y="627.90" width="20.60" height="20.40" fill="#4264F4"/>
<rect x="664.70" y="627.90" width="20.60" height="20.40" fill="#4264F4"/>
<rect x="684.90" y="627.90" width="20.60" height="20.40" fill="#4264F4"/>
<rect x="705.10" y="627.90" width="20.60" height="20.40" fill="#3482F3"/>
<rect x="725.30" y="627.90" width="20.60" height="20.40" fill="#7CC860"/>
<rect x="745.50" y="627.90" width="20.60" height="20.40" fill="#C4BC30"/>
<rect x="765.70" y="627.90" width="20.60" height="20.40" fill="#0CB6CC"/>
<rect x="785.90" y="627.90" width="20.60" height="20.40" fill="#2E88F0"/>
<rect x="806.10" y="627.90" width="20.60" height="20.40" fill="#2E88F0"/>
<rect x="826.30" y="627.90" width="20.60" height="20.40" fill="#2E88F0"/>
<rect x="846.50" y="627.90" width="20.60" height="20.40" fill="#3A78F5"/>
<rect x="866.70" y="627.90" width="20.60" height="20.40" fill="#3A78F5"/>
<rect x="886.90" y="627.90" width="20.60" height="20.40" fill="#3A78F5"/>
<rect x="907.10" y="627.90" width="20.60" height="20.40" fill="#3A78F5"/>
<rect x="523.30" y="647.90" width="20.60" height="20.40" fill="#4658F2"/>
<rect x="543.50" y="647.90" width="20.60" height="20.40" fill="#4658F2"/>
<rect x="563.70" y="647.90" width="20.60" height="20.40" fill="#4658F2"/>
<rect x="583.90" y="647.90" width="20.60" height="20.40" fill="#4658F2"/>
<rect x="604.10" y="647.90" width="20.60" height="20.40" fill="#4658F2"/>
<rect x="624.30" y="647.90" width="20.60" height="20.40" fill="#4658F2"/>
<rect x="644.50" y="647.90" width="20.60" height="20.40" fill="#4264F4"/>
<rect x="664.70" y="647.90" width="20.60" height="20.40" fill="#4264F4"/>
<rect x="684.90" y="647.90" width="20.60" height="20.40" fill="#4264F4"/>
<rect x="705.10" y="647.90" width="20.60" height="20.40" fill="#3482F3"/>
<rect x="725.30" y="647.90" width="20.60" height="20.40" fill="#90C650"/>
<rect x="745.50" y="647.90" width="20.60" height="20.40" fill="#90C650"/>
<rect x="765.70" y="647.90" width="20.60" height="20.40" fill="#2E88F0"/>
<rect x="785.90" y="647.90" width="20.60" height="20.40" fill="#2E88F0"/>
<rect x="806.10" y="647.90" width="20.60" height="20.40" fill="#0CB6CC"/>
<rect x="826.30" y="647.90" width="20.60" height="20.40" fill="#FCBC34"/>
<rect x="846.50" y="647.90" width="20.60" height="20.40" fill="#0CB6CC"/>
<rect x="866.70" y="647.90" width="20.60" height="20.40" fill="#2E88F0"/>
<rect x="886.90" y="647.90" width="20.60" height="20.40" fill="#3482F3"/>
<rect x="907.10" y="647.90" width="20.60" height="20.40" fill="#3482F3"/>
<rect x="523.30" y="667.90" width="20.60" height="20.40" fill="#4658F2"/>
<rect x="543.50" y="667.90" width="20.60" height="20.40" fill="#4658F2"/>
<rect x="563.70" y="667.90" width="20.60" height="20.40" fill="#4658F2"/>
<rect x="583.90" y="667.90" width="20.60" height="20.40" fill="#4658F2"/>
<rect x="604.10" y="667.90" width="20.60" height="20.40" fill="#4658F2"/>
<rect x="624.30" y="667.90" width="20.60" height="20.40" fill="#4658F2"/>
<rect x="644.50" y="667.90" width="20.60" height="20.40" fill="#4658F2"/>
<rect x="664.70" y="667.90" width="20.60" height="20.40" fill="#4264F4"/>
<rect x="684.90" y="667.90" width="20.60" height="20.40" fill="#4264F4"/>
<rect x="705.10" y="667.90" width="20.60" height="20.40" fill="#3A78F5"/>
<rect x="725.30" y="667.90" width="20.60" height="20.40" fill="#2E88F0"/>
<rect x="745.50" y="667.90" width="20.60" height="20.40" fill="#20A0E2"/>
<rect x="765.70" y="667.90" width="20.60" height="20.40" fill="#2E88F0"/>
<rect x="785.90" y="667.90" width="20.60" height="20.40" fill="#0CB6CC"/>
<rect x="806.10" y="667.90" width="20.60" height="20.40" fill="#0CB6CC"/>
<rect x="826.30" y="667.90" width="20.60" height="20.40" fill="#20A0E2"/>
<rect x="846.50" y="667.90" width="20.60" height="20.40" fill="#2E88F0"/>
<rect x="866.70" y="667.90" width="20.60" height="20.40" fill="#2E88F0"/>
<rect x="886.90" y="667.90" width="20.60" height="20.40" fill="#3482F3"/>
<rect x="907.10" y="667.90" width="20.60" height="20.40" fill="#3482F3"/>
<rect x="523.30" y="687.90" width="20.60" height="20.40" fill="#4658F2"/>
<rect x="543.50" y="687.90" width="20.60" height="20.40" fill="#4658F2"/>
<rect x="563.70" y="687.90" width="20.60" height="20.40" fill="#4658F2"/>
<rect x="583.90" y="687.90" width="20.60" height="20.40" fill="#4658F2"/>
<rect x="604.10" y="687.90" width="20.60" height="20.40" fill="#4658F2"/>
<rect x="624.30" y="687.90" width="20.60" height="20.40" fill="#4658F2"/>
<rect x="644.50" y="687.90" width="20.60" height="20.40" fill="#4658F2"/>
<rect x="664.70" y="687.90" width="20.60" height="20.40" fill="#4264F4"/>
<rect x="684.90" y="687.90" width="20.60" height="20.40" fill="#4264F4"/>
<rect x="705.10" y="687.90" width="20.60" height="20.40" fill="#3A78F5"/>
<rect x="725.30" y="687.90" width="20.60" height="20.40" fill="#3482F3"/>
<rect x="745.50" y="687.90" width="20.60" height="20.40" fill="#3482F3"/>
<rect x="765.70" y="687.90" width="20.60" height="20.40" fill="#2E88F0"/>
<rect x="785.90" y="687.90" width="20.60" height="20.40" fill="#2E88F0"/>
<rect x="806.10" y="687.90" width="20.60" height="20.40" fill="#20A0E2"/>
<rect x="826.30" y="687.90" width="20.60" height="20.40" fill="#20A0E2"/>
<rect x="846.50" y="687.90" width="20.60" height="20.40" fill="#2E88F0"/>
<rect x="866.70" y="687.90" width="20.60" height="20.40" fill="#2E88F0"/>
<rect x="886.90" y="687.90" width="20.60" height="20.40" fill="#3482F3"/>
<rect x="907.10" y="687.90" width="20.60" height="20.40" fill="#3482F3"/>
<rect x="523.30" y="707.90" width="20.60" height="20.40" fill="#4658F2"/>
<rect x="543.50" y="707.90" width="20.60" height="20.40" fill="#4658F2"/>
<rect x="563.70" y="707.90" width="20.60" height="20.40" fill="#4658F2"/>
<rect x="583.90" y="707.90" width="20.60" height="20.40" fill="#4658F2"/>
<rect x="604.10" y="707.90" width="20.60" height="20.40" fill="#4658F2"/>
<rect x="624.30" y="707.90" width="20.60" height="20.40" fill="#4658F2"/>
<rect x="644.50" y="707.90" width="20.60" height="20.40" fill="#4658F2"/>
<rect x="664.70" y="707.90" width="20.60" height="20.40" fill="#4264F4"/>
<rect x="684.90" y="707.90" width="20.60" height="20.40" fill="#4264F4"/>
<rect x="705.10" y="707.90" width="20.60" height="20.40" fill="#3A78F5"/>
<rect x="725.30" y="707.90" width="20.60" height="20.40" fill="#3482F3"/>
<rect x="745.50" y="707.90" width="20.60" height="20.40" fill="#3482F3"/>
<rect x="765.70" y="707.90" width="20.60" height="20.40" fill="#20A0E2"/>
<rect x="785.90" y="707.90" width="20.60" height="20.40" fill="#2E88F0"/>
<rect x="806.10" y="707.90" width="20.60" height="20.40" fill="#2E88F0"/>
<rect x="826.30" y="707.90" width="20.60" height="20.40" fill="#2E88F0"/>
<rect x="846.50" y="707.90" width="20.60" height="20.40" fill="#2E88F0"/>
<rect x="866.70" y="707.90" width="20.60" height="20.40" fill="#3482F3"/>
<rect x="886.90" y="707.90" width="20.60" height="20.40" fill="#3482F3"/>
<rect x="907.10" y="707.90" width="20.60" height="20.40" fill="#2E88F0"/>
<rect x="523.30" y="727.90" width="20.60" height="20.40" fill="#4658F2"/>
<rect x="543.50" y="727.90" width="20.60" height="20.40" fill="#4658F2"/>
<rect x="563.70" y="727.90" width="20.60" height="20.40" fill="#4658F2"/>
<rect x="583.90" y="727.90" width="20.60" height="20.40" fill="#4658F2"/>
<rect x="604.10" y="727.90" width="20.60" height="20.40" fill="#4658F2"/>
<rect x="624.30" y="727.90" width="20.60" height="20.40" fill="#4658F2"/>
<rect x="644.50" y="727.90" width="20.60" height="20.40" fill="#4658F2"/>
<rect x="664.70" y="727.90" width="20.60" height="20.40" fill="#4264F4"/>
<rect x="684.90" y="727.90" width="20.60" height="20.40" fill="#4264F4"/>
<rect x="705.10" y="727.90" width="20.60" height="20.40" fill="#3A78F5"/>
<rect x="725.30" y="727.90" width="20.60" height="20.40" fill="#3A78F5"/>
<rect x="745.50" y="727.90" width="20.60" height="20.40" fill="#3A78F5"/>
<rect x="765.70" y="727.90" width="20.60" height="20.40" fill="#3A78F5"/>
<rect x="785.90" y="727.90" width="20.60" height="20.40" fill="#3A78F5"/>
<rect x="806.10" y="727.90" width="20.60" height="20.40" fill="#3A78F5"/>
<rect x="826.30" y="727.90" width="20.60" height="20.40" fill="#2E88F0"/>
<rect x="846.50" y="727.90" width="20.60" height="20.40" fill="#2E88F0"/>
<rect x="866.70" y="727.90" width="20.60" height="20.40" fill="#3A78F5"/>
<rect x="886.90" y="727.90" width="20.60" height="20.40" fill="#3A78F5"/>
<rect x="907.10" y="727.90" width="20.60" height="20.40" fill="#3A78F5"/>
<rect x="523.30" y="747.90" width="20.60" height="20.40" fill="#4658F2"/>
<rect x="543.50" y="747.90" width="20.60" height="20.40" fill="#4658F2"/>
<rect x="563.70" y="747.90" width="20.60" height="20.40" fill="#4658F2"/>
<rect x="583.90" y="747.90" width="20.60" height="20.40" fill="#4658F2"/>
<rect x="604.10" y="747.90" width="20.60" height="20.40" fill="#4658F2"/>
<rect x="624.30" y="747.90" width="20.60" height="20.40" fill="#4658F2"/>
<rect x="644.50" y="747.90" width="20.60" height="20.40" fill="#4658F2"/>
<rect x="664.70" y="747.90" width="20.60" height="20.40" fill="#4264F4"/>
<rect x="684.90" y="747.90" width="20.60" height="20.40" fill="#4264F4"/>
<rect x="705.10" y="747.90" width="20.60" height="20.40" fill="#3A78F5"/>
<rect x="725.30" y="747.90" width="20.60" height="20.40" fill="#3A78F5"/>
<rect x="745.50" y="747.90" width="20.60" height="20.40" fill="#3A78F5"/>
<rect x="765.70" y="747.90" width="20.60" height="20.40" fill="#3A78F5"/>
<rect x="785.90" y="747.90" width="20.60" height="20.40" fill="#3A78F5"/>
<rect x="806.10" y="747.90" width="20.60" height="20.40" fill="#3A78F5"/>
<rect x="826.30" y="747.90" width="20.60" height="20.40" fill="#3482F3"/>
<rect x="846.50" y="747.90" width="20.60" height="20.40" fill="#2E88F0"/>
<rect x="866.70" y="747.90" width="20.60" height="20.40" fill="#3A78F5"/>
<rect x="886.90" y="747.90" width="20.60" height="20.40" fill="#2E88F0"/>
<rect x="907.10" y="747.90" width="20.60" height="20.40" fill="#3A78F5"/>
<rect x="523.30" y="767.90" width="20.60" height="20.40" fill="#4658F2"/>
<rect x="543.50" y="767.90" width="20.60" height="20.40" fill="#4658F2"/>
<rect x="563.70" y="767.90" width="20.60" height="20.40" fill="#4658F2"/>
<rect x="583.90" y="767.90" width="20.60" height="20.40" fill="#4658F2"/>
<rect x="604.10" y="767.90" width="20.60" height="20.40" fill="#4658F2"/>
<rect x="624.30" y="767.90" width="20.60" height="20.40" fill="#4658F2"/>
<rect x="644.50" y="767.90" width="20.60" height="20.40" fill="#4658F2"/>
<rect x="664.70" y="767.90" width="20.60" height="20.40" fill="#4264F4"/>
<rect x="684.90" y="767.90" width="20.60" height="20.40" fill="#4264F4"/>
<rect x="705.10" y="767.90" width="20.60" height="20.40" fill="#3A78F5"/>
<rect x="725.30" y="767.90" width="20.60" height="20.40" fill="#3A78F5"/>
<rect x="745.50" y="767.90" width="20.60" height="20.40" fill="#3482F3"/>
<rect x="765.70" y="767.90" width="20.60" height="20.40" fill="#3A78F5"/>
<rect x="785.90" y="767.90" width="20.60" height="20.40" fill="#2E88F0"/>
<rect x="806.10" y="767.90" width="20.60" height="20.40" fill="#3A78F5"/>
<rect x="826.30" y="767.90" width="20.60" height="20.40" fill="#3A78F5"/>
<rect x="846.50" y="767.90" width="20.60" height="20.40" fill="#2E88F0"/>
<rect x="866.70" y="767.90" width="20.60" height="20.40" fill="#2E88F0"/>
<rect x="886.90" y="767.90" width="20.60" height="20.40" fill="#2E88F0"/>
<rect x="907.10" y="767.90" width="20.60" height="20.40" fill="#3A78F5"/>
<rect x="523.30" y="787.90" width="20.60" height="20.40" fill="#4658F2"/>
<rect x="543.50" y="787.90" width="20.60" height="20.40" fill="#4658F2"/>
<rect x="563.70" y="787.90" width="20.60" height="20.40" fill="#4658F2"/>
<rect x="583.90" y="787.90" width="20.60" height="20.40" fill="#4658F2"/>
<rect x="604.10" y="787.90" width="20.60" height="20.40" fill="#4658F2"/>
<rect x="624.30" y="787.90" width="20.60" height="20.40" fill="#4658F2"/>
<rect x="644.50" y="787.90" width="20.60" height="20.40" fill="#4658F2"/>
<rect x="664.70" y="787.90" width="20.60" height="20.40" fill="#4658F2"/>
<rect x="684.90" y="787.90" width="20.60" height="20.40" fill="#4264F4"/>
<rect x="705.10" y="787.90" width="20.60" height="20.40" fill="#4264F4"/>
<rect x="725.30" y="787.90" width="20.60" height="20.40" fill="#3A78F5"/>
<rect x="745.50" y="787.90" width="20.60" height="20.40" fill="#2E88F0"/>
<rect x="765.70" y="787.90" width="20.60" height="20.40" fill="#3A78F5"/>
<rect x="785.90" y="787.90" width="20.60" height="20.40" fill="#C4BC30"/>
<rect x="806.10" y="787.90" width="20.60" height="20.40" fill="#3A78F5"/>
<rect x="826.30" y="787.90" width="20.60" height="20.40" fill="#3A78F5"/>
<rect x="846.50" y="787.90" width="20.60" height="20.40" fill="#3A78F5"/>
<rect x="866.70" y="787.90" width="20.60" height="20.40" fill="#3A78F5"/>
<rect x="886.90" y="787.90" width="20.60" height="20.40" fill="#3A78F5"/>
<rect x="907.10" y="787.90" width="20.60" height="20.40" fill="#2E88F0"/>
<rect x="523.30" y="807.90" width="20.60" height="20.40" fill="#4658F2"/>
<rect x="543.50" y="807.90" width="20.60" height="20.40" fill="#4658F2"/>
<rect x="563.70" y="807.90" width="20.60" height="20.40" fill="#4658F2"/>
<rect x="583.90" y="807.90" width="20.60" height="20.40" fill="#4658F2"/>
<rect x="604.10" y="807.90" width="20.60" height="20.40" fill="#4658F2"/>
<rect x="624.30" y="807.90" width="20.60" height="20.40" fill="#4658F2"/>
<rect x="644.50" y="807.90" width="20.60" height="20.40" fill="#4658F2"/>
<rect x="664.70" y="807.90" width="20.60" height="20.40" fill="#4658F2"/>
<rect x="684.90" y="807.90" width="20.60" height="20.40" fill="#4264F4"/>
<rect x="705.10" y="807.90" width="20.60" height="20.40" fill="#4264F4"/>
<rect x="725.30" y="807.90" width="20.60" height="20.40" fill="#2E88F0"/>
<rect x="745.50" y="807.90" width="20.60" height="20.40" fill="#2E88F0"/>
<rect x="765.70" y="807.90" width="20.60" height="20.40" fill="#2E88F0"/>
<rect x="785.90" y="807.90" width="20.60" height="20.40" fill="#2E88F0"/>
<rect x="806.10" y="807.90" width="20.60" height="20.40" fill="#3A78F5"/>
<rect x="826.30" y="807.90" width="20.60" height="20.40" fill="#3A78F5"/>
<rect x="846.50" y="807.90" width="20.60" height="20.40" fill="#3A78F5"/>
<rect x="866.70" y="807.90" width="20.60" height="20.40" fill="#3A78F5"/>
<rect x="886.90" y="807.90" width="20.60" height="20.40" fill="#3A78F5"/>
<rect x="907.10" y="807.90" width="20.60" height="20.40" fill="#3A78F5"/>
<rect x="523.30" y="827.90" width="20.60" height="20.40" fill="#4658F2"/>
<rect x="543.50" y="827.90" width="20.60" height="20.40" fill="#4658F2"/>
<rect x="563.70" y="827.90" width="20.60" height="20.40" fill="#4658F2"/>
<rect x="583.90" y="827.90" width="20.60" height="20.40" fill="#4658F2"/>
<rect x="604.10" y="827.90" width="20.60" height="20.40" fill="#4658F2"/>
<rect x="624.30" y="827.90" width="20.60" height="20.40" fill="#4658F2"/>
<rect x="644.50" y="827.90" width="20.60" height="20.40" fill="#4658F2"/>
<rect x="664.70" y="827.90" width="20.60" height="20.40" fill="#4658F2"/>
<rect x="684.90" y="827.90" width="20.60" height="20.40" fill="#4264F4"/>
<rect x="705.10" y="827.90" width="20.60" height="20.40" fill="#4264F4"/>
<rect x="725.30" y="827.90" width="20.60" height="20.40" fill="#4264F4"/>
<rect x="745.50" y="827.90" width="20.60" height="20.40" fill="#4264F4"/>
<rect x="765.70" y="827.90" width="20.60" height="20.40" fill="#4264F4"/>
<rect x="785.90" y="827.90" width="20.60" height="20.40" fill="#4264F4"/>
<rect x="806.10" y="827.90" width="20.60" height="20.40" fill="#4264F4"/>
<rect x="826.30" y="827.90" width="20.60" height="20.40" fill="#2E88F0"/>
<rect x="846.50" y="827.90" width="20.60" height="20.40" fill="#3A78F5"/>
<rect x="866.70" y="827.90" width="20.60" height="20.40" fill="#20A0E2"/>
<rect x="886.90" y="827.90" width="20.60" height="20.40" fill="#20A0E2"/>
<rect x="907.10" y="827.90" width="20.60" height="20.40" fill="#3A78F5"/>
<rect x="523.30" y="847.90" width="20.60" height="20.40" fill="#4658F2"/>
<rect x="543.50" y="847.90" width="20.60" height="20.40" fill="#4658F2"/>
<rect x="563.70" y="847.90" width="20.60" height="20.40" fill="#4658F2"/>
<rect x="583.90" y="847.90" width="20.60" height="20.40" fill="#4658F2"/>
<rect x="604.10" y="847.90" width="20.60" height="20.40" fill="#4658F2"/>
<rect x="624.30" y="847.90" width="20.60" height="20.40" fill="#4658F2"/>
<rect x="644.50" y="847.90" width="20.60" height="20.40" fill="#4658F2"/>
<rect x="664.70" y="847.90" width="20.60" height="20.40" fill="#4658F2"/>
<rect x="684.90" y="847.90" width="20.60" height="20.40" fill="#4658F2"/>
<rect x="705.10" y="847.90" width="20.60" height="20.40" fill="#4264F4"/>
<rect x="725.30" y="847.90" width="20.60" height="20.40" fill="#4264F4"/>
<rect x="745.50" y="847.90" width="20.60" height="20.40" fill="#4264F4"/>
<rect x="765.70" y="847.90" width="20.60" height="20.40" fill="#4264F4"/>
<rect x="785.90" y="847.90" width="20.60" height="20.40" fill="#4264F4"/>
<rect x="806.10" y="847.90" width="20.60" height="20.40" fill="#4264F4"/>
<rect x="826.30" y="847.90" width="20.60" height="20.40" fill="#20A0E2"/>
<rect x="846.50" y="847.90" width="20.60" height="20.40" fill="#3A78F5"/>
<rect x="866.70" y="847.90" width="20.60" height="20.40" fill="#F9F515"/>
<rect x="886.90" y="847.90" width="20.60" height="20.40" fill="#33C3A2"/>
<rect x="907.10" y="847.90" width="20.60" height="20.40" fill="#3A78F5"/>
<rect x="523.30" y="867.90" width="20.60" height="20.40" fill="#4658F2"/>
<rect x="543.50" y="867.90" width="20.60" height="20.40" fill="#4658F2"/>
<rect x="563.70" y="867.90" width="20.60" height="20.40" fill="#4658F2"/>
<rect x="583.90" y="867.90" width="20.60" height="20.40" fill="#4658F2"/>
<rect x="604.10" y="867.90" width="20.60" height="20.40" fill="#4658F2"/>
<rect x="624.30" y="867.90" width="20.60" height="20.40" fill="#4658F2"/>
<rect x="644.50" y="867.90" width="20.60" height="20.40" fill="#4658F2"/>
<rect x="664.70" y="867.90" width="20.60" height="20.40" fill="#4658F2"/>
<rect x="684.90" y="867.90" width="20.60" height="20.40" fill="#4658F2"/>
<rect x="705.10" y="867.90" width="20.60" height="20.40" fill="#4264F4"/>
<rect x="725.30" y="867.90" width="20.60" height="20.40" fill="#4264F4"/>
<rect x="745.50" y="867.90" width="20.60" height="20.40" fill="#4264F4"/>
<rect x="765.70" y="867.90" width="20.60" height="20.40" fill="#4264F4"/>
<rect x="785.90" y="867.90" width="20.60" height="20.40" fill="#4264F4"/>
<rect x="806.10" y="867.90" width="20.60" height="20.40" fill="#4264F4"/>
<rect x="826.30" y="867.90" width="20.60" height="20.40" fill="#4264F4"/>
<rect x="846.50" y="867.90" width="20.60" height="20.40" fill="#3A78F5"/>
<rect x="866.70" y="867.90" width="20.60" height="20.40" fill="#3A78F5"/>
<rect x="886.90" y="867.90" width="20.60" height="20.40" fill="#2E88F0"/>
<rect x="907.10" y="867.90" width="20.60" height="20.40" fill="#3A78F5"/>
<rect x="523.30" y="887.90" width="20.60" height="20.40" fill="#4658F2"/>
<rect x="543.50" y="887.90" width="20.60" height="20.40" fill="#4658F2"/>
<rect x="563.70" y="887.90" width="20.60" height="20.40" fill="#4658F2"/>
<rect x="583.90" y="887.90" width="20.60" height="20.40" fill="#4658F2"/>
<rect x="604.10" y="887.90" width="20.60" height="20.40" fill="#4658F2"/>
<rect x="624.30" y="887.90" width="20.60" height="20.40" fill="#4658F2"/>
<rect x="644.50" y="887.90" width="20.60" height="20.40" fill="#4658F2"/>
<rect x="664.70" y="887.90" width="20.60" height="20.40" fill="#4658F2"/>
<rect x="684.90" y="887.90" width="20.60" height="20.40" fill="#4658F2"/>
<rect x="705.10" y="887.90" width="20.60" height="20.40" fill="#4264F4"/>
<rect x="725.30" y="887.90" width="20.60" height="20.40" fill="#4264F4"/>
<rect x="745.50" y="887.90" width="20.60" height="20.40" fill="#4264F4"/>
<rect x="765.70" y="887.90" width="20.60" height="20.40" fill="#4264F4"/>
<rect x="785.90" y="887.90" width="20.60" height="20.40" fill="#4264F4"/>
<rect x="806.10" y="887.90" width="20.60" height="20.40" fill="#4264F4"/>
<rect x="826.30" y="887.90" width="20.60" height="20.40" fill="#3A78F5"/>
<rect x="846.50" y="887.90" width="20.60" height="20.40" fill="#2E88F0"/>
<rect x="866.70" y="887.90" width="20.60" height="20.40" fill="#3A78F5"/>
<rect x="886.90" y="887.90" width="20.60" height="20.40" fill="#3A78F5"/>
<rect x="907.10" y="887.90" width="20.60" height="20.40" fill="#3A78F5"/>
<rect x="523.30" y="907.90" width="20.60" height="20.40" fill="#4658F2"/>
<rect x="543.50" y="907.90" width="20.60" height="20.40" fill="#4658F2"/>
<rect x="563.70" y="907.90" width="20.60" height="20.40" fill="#4658F2"/>
<rect x="583.90" y="907.90" width="20.60" height="20.40" fill="#4658F2"/>
<rect x="604.10" y="907.90" width="20.60" height="20.40" fill="#4658F2"/>
<rect x="624.30" y="907.90" width="20.60" height="20.40" fill="#4658F2"/>
<rect x="644.50" y="907.90" width="20.60" height="20.40" fill="#4658F2"/>
<rect x="664.70" y="907.90" width="20.60" height="20.40" fill="#4658F2"/>
<rect x="684.90" y="907.90" width="20.60" height="20.40" fill="#4658F2"/>
<rect x="705.10" y="907.90" width="20.60" height="20.40" fill="#4264F4"/>
<rect x="725.30" y="907.90" width="20.60" height="20.40" fill="#4264F4"/>
<rect x="745.50" y="907.90" width="20.60" height="20.40" fill="#4264F4"/>
<rect x="765.70" y="907.90" width="20.60" height="20.40" fill="#4264F4"/>
<rect x="785.90" y="907.90" width="20.60" height="20.40" fill="#4264F4"/>
<rect x="806.10" y="907.90" width="20.60" height="20.40" fill="#4264F4"/>
<rect x="826.30" y="907.90" width="20.60" height="20.40" fill="#2E88F0"/>
<rect x="846.50" y="907.90" width="20.60" height="20.40" fill="#2E88F0"/>
<rect x="866.70" y="907.90" width="20.60" height="20.40" fill="#3A78F5"/>
<rect x="886.90" y="907.90" width="20.60" height="20.40" fill="#3A78F5"/>
<rect x="907.10" y="907.90" width="20.60" height="20.40" fill="#3A78F5"/>
</g>
<line x1="523.6" y1="527.9" x2="523.6" y2="928" stroke="#222" stroke-width="1.6"/>
<rect x="440.8" y="626.9" width="37.89999999999998" height="241.30000000000007" fill="url(#parula)" stroke="#555" stroke-width="1"/>
<line x1="474.7" y1="687.1" x2="478.7" y2="687.1" stroke="#333" stroke-width="1"/>
<line x1="474.7" y1="754.4" x2="478.7" y2="754.4" stroke="#333" stroke-width="1"/>
<line x1="474.7" y1="822.2" x2="478.7" y2="822.2" stroke="#333" stroke-width="1"/>
<rect x="941.8" y="632.2" width="37.90000000000009" height="241.5" fill="url(#parula)" stroke="#555" stroke-width="1"/>
<line x1="975.7" y1="692.4" x2="979.7" y2="692.4" stroke="#333" stroke-width="1"/>
<line x1="975.7" y1="759.7" x2="979.7" y2="759.7" stroke="#333" stroke-width="1"/>
<line x1="975.7" y1="827.6" x2="979.7" y2="827.6" stroke="#333" stroke-width="1"/>
<rect x="204.1" y="112.7" width="65.1" height="65.49999999999999" fill="none" stroke="#FF0000" stroke-width="6"/>
<rect x="26.6" y="209.4" width="62.9" height="62.49999999999997" fill="none" stroke="#7030A0" stroke-width="5.4"/>
<rect x="57" y="411.2" width="100.8" height="19.2" fill="#fff"/>
<polygon points="740.5,127.3 762.5,127.3 762.5,185.3 720.7,185.3 720.7,144.6 740.5,144.6" fill="#FFFFFF"/>
<rect x="740.5" y="127.3" width="22.0" height="19.3" fill="#EEEEEE"/>
<polygon points="740.5,127.3 762.5,127.3 762.5,185.3 720.7,185.3 720.7,144.6 740.5,144.6" fill="none" stroke="#FF0000" stroke-width="6.6" stroke-linejoin="miter"/>
<polygon points="727.1,189.0 751.8,214.4 741.3,217.6 748.4,241.3 738.4,244.3 731.2,220.7 720.7,223.9" fill="#FF0000"/>
<rect x="521.1" y="231.8" width="53.39999999999998" height="55.5" fill="none" stroke="#7030A0" stroke-width="5.5"/>
<rect x="548.3" y="404.8" width="101.3" height="19.9" fill="#fff"/>
<polygon points="251.6,602.4 273.4,602.4 273.4,660.5 231.5,660.5 231.5,620.1 251.6,620.1" fill="none" stroke="#FF0000" stroke-width="6.6" stroke-linejoin="miter"/>
<polygon points="236.3,664.5 260.6,690.3 250.0,693.3 256.8,716.8 246.7,719.7 240.0,696.2 229.4,699.3" fill="#FF0000"/>
<rect x="31.0" y="708.0" width="54.0" height="55.200000000000045" fill="none" stroke="#7030A0" stroke-width="5.2" filter="url(#boxglow)"/>
<polygon points="744.6,609.3 766.7,609.3 766.7,667.0 724.4,667.0 724.4,626.6 744.6,626.6" fill="none" stroke="#FF0000" stroke-width="6.6" stroke-linejoin="miter"/>
<polygon points="723.0,671.0 748.0,696.2 737.5,699.5 744.0,720.2 734.0,723.3 727.5,702.6 717.0,705.9" fill="#FF0000"/>
<rect x="525.3" y="713.0" width="52.40000000000009" height="56.0" fill="none" stroke="#7030A0" stroke-width="5.3" filter="url(#boxglow)"/>
<rect x="548.2" y="888.8" width="101.6" height="19.8" fill="#fff"/>
<rect x="162.5" y="1025.5" width="809.0" height="442.5" fill="none" stroke="#222" stroke-width="2.2"/>
<line x1="162.5" y1="1468.0" x2="170.0" y2="1468.0" stroke="#222" stroke-width="2"/>
<line x1="162.5" y1="1383.8" x2="170.0" y2="1383.8" stroke="#222" stroke-width="2"/>
<line x1="162.5" y1="1299.6" x2="170.0" y2="1299.6" stroke="#222" stroke-width="2"/>
<line x1="162.5" y1="1215.4" x2="170.0" y2="1215.4" stroke="#222" stroke-width="2"/>
<line x1="162.5" y1="1131.2" x2="170.0" y2="1131.2" stroke="#222" stroke-width="2"/>
<line x1="162.5" y1="1047.0" x2="170.0" y2="1047.0" stroke="#222" stroke-width="2"/>
<line x1="162.0" y1="1468" x2="162.0" y2="1462" stroke="#222" stroke-width="2"/>
<line x1="202.4" y1="1468" x2="202.4" y2="1462" stroke="#222" stroke-width="2"/>
<line x1="242.9" y1="1468" x2="242.9" y2="1462" stroke="#222" stroke-width="2"/>
<line x1="283.3" y1="1468" x2="283.3" y2="1462" stroke="#222" stroke-width="2"/>
<line x1="323.8" y1="1468" x2="323.8" y2="1462" stroke="#222" stroke-width="2"/>
<line x1="364.2" y1="1468" x2="364.2" y2="1462" stroke="#222" stroke-width="2"/>
<line x1="404.7" y1="1468" x2="404.7" y2="1462" stroke="#222" stroke-width="2"/>
<line x1="445.1" y1="1468" x2="445.1" y2="1462" stroke="#222" stroke-width="2"/>
<line x1="485.6" y1="1468" x2="485.6" y2="1462" stroke="#222" stroke-width="2"/>
<line x1="526.0" y1="1468" x2="526.0" y2="1462" stroke="#222" stroke-width="2"/>
<line x1="566.5" y1="1468" x2="566.5" y2="1462" stroke="#222" stroke-width="2"/>
<line x1="607.0" y1="1468" x2="607.0" y2="1462" stroke="#222" stroke-width="2"/>
<line x1="647.4" y1="1468" x2="647.4" y2="1462" stroke="#222" stroke-width="2"/>
<line x1="687.9" y1="1468" x2="687.9" y2="1462" stroke="#222" stroke-width="2"/>
<line x1="728.3" y1="1468" x2="728.3" y2="1462" stroke="#222" stroke-width="2"/>
<line x1="768.8" y1="1468" x2="768.8" y2="1462" stroke="#222" stroke-width="2"/>
<line x1="809.2" y1="1468" x2="809.2" y2="1462" stroke="#222" stroke-width="2"/>
<line x1="849.7" y1="1468" x2="849.7" y2="1462" stroke="#222" stroke-width="2"/>
<line x1="890.1" y1="1468" x2="890.1" y2="1462" stroke="#222" stroke-width="2"/>
<line x1="930.5" y1="1468" x2="930.5" y2="1462" stroke="#222" stroke-width="2"/>
<line x1="971.0" y1="1468" x2="971.0" y2="1462" stroke="#222" stroke-width="2"/>
<path d="M162.0,1467.0 L163.0,1467.6 L164.0,1467.7 L165.0,1468.4 L166.0,1467.4 L167.1,1467.5 L168.1,1467.6 L169.1,1467.3 L170.1,1467.2 L171.1,1467.7 L172.1,1467.6 L173.1,1467.4 L174.1,1467.0 L175.1,1467.0 L176.2,1467.6 L177.2,1467.5 L178.2,1466.9 L179.2,1466.6 L180.2,1467.1 L181.2,1467.3 L182.2,1466.7 L183.2,1467.2 L184.2,1466.8 L185.3,1466.5 L186.3,1466.8 L187.3,1467.0 L188.3,1466.8 L189.3,1467.2 L190.3,1467.1 L191.3,1467.2 L192.3,1467.0 L193.3,1467.1 L194.4,1467.0 L195.4,1467.1 L196.4,1466.9 L197.4,1466.9 L198.4,1466.8 L199.4,1466.4 L200.4,1467.4 L201.4,1466.4 L202.4,1466.9 L203.5,1467.3 L204.5,1466.9 L205.5,1466.8 L206.5,1466.5 L207.5,1467.2 L208.5,1466.7 L209.5,1466.8 L210.5,1467.3 L211.6,1467.2 L212.6,1466.6 L213.6,1466.5 L214.6,1466.4 L215.6,1466.5 L216.6,1466.6 L217.6,1466.7 L218.6,1466.3 L219.6,1467.0 L220.7,1466.7 L221.7,1466.5 L222.7,1467.2 L223.7,1466.2 L224.7,1466.9 L225.7,1466.6 L226.7,1465.8 L227.7,1466.8 L228.7,1466.7 L229.8,1466.0 L230.8,1466.9 L231.8,1466.7 L232.8,1466.3 L233.8,1466.3 L234.8,1466.3 L235.8,1466.3 L236.8,1466.0 L237.8,1466.1 L238.9,1466.2 L239.9,1466.6 L240.9,1466.6 L241.9,1467.0 L242.9,1466.1 L243.9,1466.9 L244.9,1466.0 L245.9,1465.7 L246.9,1466.6 L248.0,1466.5 L249.0,1466.4 L250.0,1465.9 L251.0,1466.5 L252.0,1466.2 L253.0,1466.3 L254.0,1466.2 L255.0,1465.7 L256.0,1466.4 L257.1,1466.1 L258.1,1466.0 L259.1,1465.8 L260.1,1466.5 L261.1,1465.6 L262.1,1465.9 L263.1,1465.7 L264.1,1465.9 L265.1,1466.5 L266.2,1466.1 L267.2,1465.6 L268.2,1465.9 L269.2,1465.9 L270.2,1465.2 L271.2,1465.1 L272.2,1465.8 L273.2,1465.1 L274.2,1466.4 L275.3,1466.4 L276.3,1465.4 L277.3,1465.8 L278.3,1465.5 L279.3,1465.5 L280.3,1465.7 L281.3,1465.4 L282.3,1465.5 L283.3,1466.1 L284.4,1465.5 L285.4,1465.4 L286.4,1464.9 L287.4,1465.8 L288.4,1465.4 L289.4,1465.6 L290.4,1465.4 L291.4,1464.8 L292.5,1465.2 L293.5,1465.5 L294.5,1465.2 L295.5,1465.0 L296.5,1465.6 L297.5,1465.3 L298.5,1464.7 L299.5,1464.9 L300.5,1465.1 L301.6,1465.3 L302.6,1465.1 L303.6,1465.6 L304.6,1464.7 L305.6,1464.9 L306.6,1464.9 L307.6,1465.4 L308.6,1465.1 L309.6,1464.7 L310.7,1464.7 L311.7,1465.0 L312.7,1464.6 L313.7,1464.4 L314.7,1464.9 L315.7,1464.9 L316.7,1464.9 L317.7,1465.0 L318.7,1464.3 L319.8,1464.4 L320.8,1464.4 L321.8,1464.9 L322.8,1464.8 L323.8,1464.4 L324.8,1464.5 L325.8,1464.3 L326.8,1464.5 L327.8,1464.0 L328.9,1463.6 L329.9,1463.7 L330.9,1463.6 L331.9,1464.1 L332.9,1463.8 L333.9,1464.2 L334.9,1463.7 L335.9,1464.1 L336.9,1464.1 L338.0,1464.1 L339.0,1463.6 L340.0,1463.7 L341.0,1463.7 L342.0,1464.1 L343.0,1463.6 L344.0,1464.1 L345.0,1463.1 L346.0,1463.6 L347.1,1463.4 L348.1,1463.5 L349.1,1463.9 L350.1,1463.8 L351.1,1463.3 L352.1,1462.8 L353.1,1463.6 L354.1,1463.4 L355.1,1463.1 L356.2,1463.6 L357.2,1463.6 L358.2,1463.1 L359.2,1462.9 L360.2,1463.0 L361.2,1462.3 L362.2,1462.8 L363.2,1462.6 L364.2,1462.1 L365.3,1462.0 L366.3,1463.1 L367.3,1462.6 L368.3,1462.1 L369.3,1462.9 L370.3,1462.7 L371.3,1462.7 L372.3,1462.7 L373.4,1462.5 L374.4,1462.0 L375.4,1461.6 L376.4,1461.5 L377.4,1461.9 L378.4,1462.5 L379.4,1461.8 L380.4,1461.8 L381.4,1461.5 L382.5,1461.6 L383.5,1462.1 L384.5,1461.3 L385.5,1462.1 L386.5,1461.6 L387.5,1461.1 L388.5,1461.1 L389.5,1460.6 L390.5,1461.8 L391.6,1460.8 L392.6,1460.6 L393.6,1460.9 L394.6,1460.5 L395.6,1461.0 L396.6,1460.3 L397.6,1460.3 L398.6,1460.7 L399.6,1460.5 L400.7,1460.3 L401.7,1460.4 L402.7,1459.7 L403.7,1459.9 L404.7,1459.4 L405.7,1459.4 L406.7,1459.7 L407.7,1459.7 L408.7,1459.8 L409.8,1459.7 L410.8,1459.6 L411.8,1459.1 L412.8,1459.4 L413.8,1458.9 L414.8,1458.8 L415.8,1458.9 L416.8,1458.7 L417.8,1458.0 L418.9,1457.9 L419.9,1458.5 L420.9,1458.2 L421.9,1458.2 L422.9,1458.0 L423.9,1457.3 L424.9,1457.4 L425.9,1457.1 L426.9,1456.8 L428.0,1457.4 L429.0,1457.1 L430.0,1456.9 L431.0,1456.4 L432.0,1456.6 L433.0,1456.2 L434.0,1455.9 L435.0,1455.7 L436.0,1455.8 L437.1,1456.0 L438.1,1456.1 L439.1,1455.0 L440.1,1455.0 L441.1,1455.3 L442.1,1455.0 L443.1,1454.7 L444.1,1454.9 L445.1,1454.1 L446.2,1454.2 L447.2,1453.8 L448.2,1453.2 L449.2,1453.2 L450.2,1452.8 L451.2,1452.5 L452.2,1452.4 L453.2,1452.1 L454.3,1451.2 L455.3,1451.6 L456.3,1450.7 L457.3,1451.2 L458.3,1450.3 L459.3,1450.2 L460.3,1450.1 L461.3,1450.4 L462.3,1448.6 L463.4,1449.2 L464.4,1448.7 L465.4,1447.9 L466.4,1447.5 L467.4,1447.0 L468.4,1446.7 L469.4,1446.6 L470.4,1445.4 L471.4,1445.4 L472.5,1444.5 L473.5,1443.9 L474.5,1443.1 L475.5,1442.9 L476.5,1442.4 L477.5,1441.7 L478.5,1441.6 L479.5,1440.5 L480.5,1439.9 L481.6,1439.2 L482.6,1438.0 L483.6,1437.3 L484.6,1435.8 L485.6,1435.0 L486.6,1435.2 L487.6,1433.6 L488.6,1433.0 L489.6,1431.4 L490.7,1430.5 L491.7,1429.1 L492.7,1428.2 L493.7,1426.8 L494.7,1425.9 L495.7,1425.3 L496.7,1423.5 L497.7,1422.0 L498.7,1420.4 L499.8,1419.0 L500.8,1416.5 L501.8,1415.4 L502.8,1413.2 L503.8,1411.9 L504.8,1409.3 L505.8,1408.2 L506.8,1405.5 L507.8,1404.0 L508.9,1401.1 L509.9,1398.4 L510.9,1397.0 L511.9,1394.1 L512.9,1391.1 L513.9,1388.4 L514.9,1385.8 L515.9,1381.9 L516.9,1379.0 L518.0,1375.3 L519.0,1372.1 L520.0,1368.9 L521.0,1364.8 L522.0,1360.2 L523.0,1356.9 L524.0,1352.2 L525.0,1347.3 L526.0,1342.4 L527.1,1337.4 L528.1,1333.0 L529.1,1326.3 L530.1,1321.4 L531.1,1315.4 L532.1,1309.2 L533.1,1302.8 L534.1,1296.3 L535.2,1289.0 L536.2,1281.1 L537.2,1274.4 L538.2,1266.8 L539.2,1257.6 L540.2,1249.2 L541.2,1240.3 L542.2,1230.9 L543.2,1222.4 L544.3,1212.5 L545.3,1202.7 L546.3,1192.4 L547.3,1182.4 L548.3,1172.8 L549.3,1162.7 L550.3,1152.1 L551.3,1142.4 L552.3,1131.4 L553.4,1122.0 L554.4,1112.4 L555.4,1103.3 L556.4,1093.7 L557.4,1085.9 L558.4,1078.4 L559.4,1071.1 L560.4,1065.1 L561.4,1059.5 L562.5,1054.8 L563.5,1051.7 L564.5,1048.9 L565.5,1047.4 L566.5,1046.6 L567.5,1047.3 L568.5,1049.1 L569.5,1051.9 L570.5,1055.1 L571.6,1060.1 L572.6,1064.9 L573.6,1071.3 L574.6,1078.1 L575.6,1086.1 L576.6,1094.5 L577.6,1103.3 L578.6,1111.9 L579.6,1121.9 L580.7,1131.8 L581.7,1142.4 L582.7,1152.0 L583.7,1163.4 L584.7,1172.1 L585.7,1182.8 L586.7,1192.9 L587.7,1203.3 L588.7,1213.0 L589.8,1222.0 L590.8,1231.5 L591.8,1240.4 L592.8,1248.9 L593.8,1257.6 L594.8,1266.7 L595.8,1274.3 L596.8,1281.9 L597.8,1289.2 L598.9,1296.6 L599.9,1303.4 L600.9,1309.4 L601.9,1315.6 L602.9,1321.2 L603.9,1327.1 L604.9,1332.0 L605.9,1338.3 L607.0,1343.2 L608.0,1347.4 L609.0,1352.2 L610.0,1356.8 L611.0,1360.4 L612.0,1364.3 L613.0,1368.1 L614.0,1372.3 L615.0,1375.7 L616.1,1379.0 L617.1,1382.3 L618.1,1385.0 L619.1,1388.5 L620.1,1391.0 L621.1,1394.6 L622.1,1396.2 L623.1,1398.4 L624.1,1401.3 L625.2,1403.2 L626.2,1406.3 L627.2,1407.9 L628.2,1410.4 L629.2,1411.6 L630.2,1413.4 L631.2,1415.8 L632.2,1417.3 L633.2,1418.9 L634.3,1419.4 L635.3,1421.7 L636.3,1423.1 L637.3,1424.4 L638.3,1425.7 L639.3,1427.1 L640.3,1428.7 L641.3,1429.7 L642.3,1430.0 L643.4,1431.5 L644.4,1432.8 L645.4,1434.1 L646.4,1434.6 L647.4,1435.5 L648.4,1436.6 L649.4,1436.9 L650.4,1438.2 L651.4,1438.8 L652.5,1439.3 L653.5,1440.2 L654.5,1440.6 L655.5,1441.7 L656.5,1442.4 L657.5,1442.7 L658.5,1443.4 L659.5,1443.6 L660.5,1444.5 L661.6,1445.1 L662.6,1445.5 L663.6,1445.9 L664.6,1447.0 L665.6,1447.1 L666.6,1447.6 L667.6,1447.6 L668.6,1448.5 L669.6,1448.4 L670.7,1449.6 L671.7,1449.6 L672.7,1449.5 L673.7,1450.3 L674.7,1450.2 L675.7,1451.6 L676.7,1451.2 L677.7,1451.5 L678.7,1451.9 L679.8,1452.6 L680.8,1452.2 L681.8,1453.5 L682.8,1452.6 L683.8,1453.1 L684.8,1453.1 L685.8,1453.8 L686.8,1454.3 L687.9,1454.3 L688.9,1454.5 L689.9,1454.4 L690.9,1454.9 L691.9,1454.9 L692.9,1455.0 L693.9,1454.9 L694.9,1456.2 L695.9,1455.9 L697.0,1455.7 L698.0,1455.9 L699.0,1456.5 L700.0,1456.5 L701.0,1456.6 L702.0,1456.7 L703.0,1457.1 L704.0,1457.3 L705.0,1457.6 L706.1,1457.5 L707.1,1457.0 L708.1,1458.0 L709.1,1457.4 L710.1,1457.2 L711.1,1458.0 L712.1,1457.4 L713.1,1458.3 L714.1,1457.8 L715.2,1458.5 L716.2,1459.0 L717.2,1458.6 L718.2,1458.2 L719.2,1459.2 L720.2,1458.9 L721.2,1459.5 L722.2,1459.6 L723.2,1459.2 L724.3,1459.5 L725.3,1459.4 L726.3,1459.2 L727.3,1460.2 L728.3,1460.1 L729.3,1459.9 L730.3,1459.3 L731.3,1460.2 L732.3,1460.4 L733.4,1460.2 L734.4,1459.7 L735.4,1460.7 L736.4,1460.6 L737.4,1460.6 L738.4,1460.5 L739.4,1460.0 L740.4,1461.3 L741.4,1461.5 L742.5,1461.0 L743.5,1460.9 L744.5,1461.9 L745.5,1461.4 L746.5,1461.0 L747.5,1461.5 L748.5,1461.3 L749.5,1461.4 L750.5,1461.3 L751.6,1461.5 L752.6,1461.6 L753.6,1461.3 L754.6,1462.0 L755.6,1461.8 L756.6,1461.6 L757.6,1462.2 L758.6,1462.2 L759.6,1462.4 L760.7,1462.5 L761.7,1461.6 L762.7,1462.1 L763.7,1461.7 L764.7,1462.2 L765.7,1462.4 L766.7,1462.6 L767.7,1462.5 L768.8,1462.7 L769.8,1462.4 L770.8,1463.0 L771.8,1462.7 L772.8,1462.7 L773.8,1463.0 L774.8,1463.0 L775.8,1462.8 L776.8,1462.9 L777.9,1463.1 L778.9,1463.1 L779.9,1463.4 L780.9,1463.0 L781.9,1463.3 L782.9,1463.9 L783.9,1463.5 L784.9,1463.2 L785.9,1463.4 L787.0,1463.8 L788.0,1463.3 L789.0,1463.4 L790.0,1463.4 L791.0,1463.2 L792.0,1463.8 L793.0,1463.6 L794.0,1463.9 L795.0,1463.5 L796.1,1463.5 L797.1,1463.8 L798.1,1463.7 L799.1,1464.3 L800.1,1463.8 L801.1,1464.5 L802.1,1463.4 L803.1,1463.8 L804.1,1464.7 L805.2,1465.1 L806.2,1463.8 L807.2,1464.6 L808.2,1464.2 L809.2,1464.8 L810.2,1464.4 L811.2,1464.7 L812.2,1464.3 L813.2,1464.6 L814.3,1464.1 L815.3,1464.9 L816.3,1464.2 L817.3,1464.7 L818.3,1464.5 L819.3,1465.3 L820.3,1465.4 L821.3,1464.4 L822.3,1465.2 L823.4,1465.0 L824.4,1465.0 L825.4,1465.2 L826.4,1464.9 L827.4,1465.5 L828.4,1465.4 L829.4,1464.7 L830.4,1465.3 L831.4,1464.8 L832.5,1464.9 L833.5,1464.6 L834.5,1465.0 L835.5,1465.8 L836.5,1465.4 L837.5,1465.4 L838.5,1464.9 L839.5,1465.2 L840.5,1465.5 L841.6,1465.2 L842.6,1465.5 L843.6,1465.2 L844.6,1465.4 L845.6,1465.1 L846.6,1465.4 L847.6,1465.2 L848.6,1465.5 L849.7,1465.3 L850.7,1465.6 L851.7,1465.4 L852.7,1465.6 L853.7,1465.7 L854.7,1465.8 L855.7,1465.8 L856.7,1465.6 L857.7,1466.5 L858.8,1465.3 L859.8,1466.6 L860.8,1465.9 L861.8,1465.9 L862.8,1465.6 L863.8,1465.8 L864.8,1465.9 L865.8,1465.9 L866.8,1465.6 L867.9,1465.2 L868.9,1465.8 L869.9,1466.7 L870.9,1466.1 L871.9,1465.9 L872.9,1464.9 L873.9,1466.3 L874.9,1466.2 L875.9,1465.9 L877.0,1466.0 L878.0,1466.6 L879.0,1465.8 L880.0,1466.6 L881.0,1466.3 L882.0,1465.8 L883.0,1466.7 L884.0,1466.4 L885.0,1465.7 L886.1,1466.4 L887.1,1466.6 L888.1,1466.5 L889.1,1466.0 L890.1,1466.9 L891.1,1466.6 L892.1,1466.9 L893.1,1466.8 L894.1,1466.0 L895.2,1466.4 L896.2,1466.6 L897.2,1466.3 L898.2,1466.7 L899.2,1466.9 L900.2,1466.1 L901.2,1466.2 L902.2,1466.8 L903.2,1466.3 L904.3,1466.1 L905.3,1466.4 L906.3,1466.4 L907.3,1467.0 L908.3,1466.6 L909.3,1467.2 L910.3,1466.3 L911.3,1466.7 L912.3,1466.2 L913.4,1466.9 L914.4,1466.4 L915.4,1467.2 L916.4,1466.8 L917.4,1466.5 L918.4,1466.6 L919.4,1466.8 L920.4,1467.3 L921.4,1466.3 L922.5,1466.6 L923.5,1466.4 L924.5,1466.4 L925.5,1466.9 L926.5,1466.7 L927.5,1465.9 L928.5,1467.1 L929.5,1466.7 L930.5,1467.1 L931.6,1466.3 L932.6,1466.8 L933.6,1467.3 L934.6,1467.1 L935.6,1467.4 L936.6,1467.7 L937.6,1467.9 L938.6,1467.2 L939.7,1467.4 L940.7,1466.9 L941.7,1467.3 L942.7,1466.9 L943.7,1466.4 L944.7,1467.4 L945.7,1467.4 L946.7,1466.7 L947.7,1466.3 L948.8,1467.4 L949.8,1467.7 L950.8,1467.2 L951.8,1467.2 L952.8,1466.9 L953.8,1467.5 L954.8,1467.2 L955.8,1467.3 L956.8,1467.7 L957.9,1467.7 L958.9,1467.1 L959.9,1467.1 L960.9,1467.6 L961.9,1466.8 L962.9,1467.0 L963.9,1467.2 L964.9,1467.2 L965.9,1467.3 L967.0,1467.2 L968.0,1467.2 L969.0,1467.5 L970.0,1468.2 L971.0,1467.6" fill="none" stroke="#FF0000" stroke-width="4.6" stroke-linejoin="round"/>
<path d="M162.0,1462.6 L163.0,1462.6 L164.0,1462.5 L165.0,1465.0 L166.0,1464.9 L167.1,1464.9 L168.1,1457.7 L169.1,1457.7 L170.1,1457.6 L171.1,1464.5 L172.1,1464.4 L173.1,1464.4 L174.1,1463.2 L175.1,1463.2 L176.2,1463.2 L177.2,1458.2 L178.2,1458.2 L179.2,1458.2 L180.2,1466.5 L181.2,1466.5 L182.2,1466.5 L183.2,1465.4 L184.2,1465.4 L185.3,1465.4 L186.3,1462.8 L187.3,1462.8 L188.3,1462.8 L189.3,1464.5 L190.3,1464.5 L191.3,1464.5 L192.3,1467.3 L193.3,1467.3 L194.4,1467.3 L195.4,1464.0 L196.4,1464.0 L197.4,1464.0 L198.4,1464.5 L199.4,1464.4 L200.4,1464.4 L201.4,1461.2 L202.4,1461.2 L203.5,1461.1 L204.5,1468.8 L205.5,1468.8 L206.5,1468.7 L207.5,1465.5 L208.5,1465.5 L209.5,1465.4 L210.5,1459.2 L211.6,1459.2 L212.6,1459.1 L213.6,1456.9 L214.6,1456.9 L215.6,1456.9 L216.6,1468.1 L217.6,1468.1 L218.6,1468.0 L219.6,1460.7 L220.7,1460.7 L221.7,1460.7 L222.7,1466.2 L223.7,1466.2 L224.7,1466.1 L225.7,1465.7 L226.7,1465.7 L227.7,1465.7 L228.7,1465.7 L229.8,1465.7 L230.8,1465.7 L231.8,1464.1 L232.8,1464.1 L233.8,1464.1 L234.8,1459.2 L235.8,1459.2 L236.8,1459.2 L237.8,1460.1 L238.9,1460.1 L239.9,1460.1 L240.9,1462.3 L241.9,1462.3 L242.9,1462.2 L243.9,1463.7 L244.9,1463.6 L245.9,1463.6 L246.9,1462.3 L248.0,1462.3 L249.0,1462.3 L250.0,1462.6 L251.0,1462.6 L252.0,1462.6 L253.0,1459.5 L254.0,1459.5 L255.0,1459.4 L256.0,1464.3 L257.1,1464.3 L258.1,1464.2 L259.1,1462.1 L260.1,1462.0 L261.1,1462.0 L262.1,1462.3 L263.1,1462.3 L264.1,1462.3 L265.1,1462.1 L266.2,1462.0 L267.2,1462.0 L268.2,1460.9 L269.2,1460.9 L270.2,1460.9 L271.2,1461.0 L272.2,1461.0 L273.2,1461.0 L274.2,1457.0 L275.3,1457.0 L276.3,1456.9 L277.3,1461.8 L278.3,1461.8 L279.3,1461.7 L280.3,1456.0 L281.3,1455.9 L282.3,1455.9 L283.3,1462.4 L284.4,1462.3 L285.4,1462.3 L286.4,1462.9 L287.4,1462.8 L288.4,1462.8 L289.4,1460.7 L290.4,1460.7 L291.4,1460.7 L292.5,1459.7 L293.5,1459.7 L294.5,1459.6 L295.5,1459.9 L296.5,1459.9 L297.5,1459.8 L298.5,1456.2 L299.5,1456.1 L300.5,1456.1 L301.6,1456.6 L302.6,1456.5 L303.6,1456.5 L304.6,1458.7 L305.6,1458.7 L306.6,1458.6 L307.6,1461.5 L308.6,1461.5 L309.6,1461.4 L310.7,1460.6 L311.7,1460.5 L312.7,1460.5 L313.7,1455.0 L314.7,1455.0 L315.7,1454.9 L316.7,1459.1 L317.7,1459.1 L318.7,1459.0 L319.8,1464.4 L320.8,1464.4 L321.8,1464.3 L322.8,1462.0 L323.8,1462.0 L324.8,1461.9 L325.8,1461.5 L326.8,1461.4 L327.8,1461.4 L328.9,1455.1 L329.9,1455.0 L330.9,1455.0 L331.9,1459.4 L332.9,1459.4 L333.9,1459.3 L334.9,1452.4 L335.9,1452.3 L336.9,1452.2 L338.0,1456.3 L339.0,1456.2 L340.0,1456.2 L341.0,1458.0 L342.0,1458.0 L343.0,1457.9 L344.0,1459.8 L345.0,1459.8 L346.0,1459.7 L347.1,1454.5 L348.1,1454.4 L349.1,1454.3 L350.1,1458.7 L351.1,1458.6 L352.1,1458.5 L353.1,1460.6 L354.1,1460.5 L355.1,1460.4 L356.2,1455.3 L357.2,1455.2 L358.2,1455.1 L359.2,1457.0 L360.2,1456.9 L361.2,1456.9 L362.2,1452.4 L363.2,1452.3 L364.2,1452.2 L365.3,1456.8 L366.3,1456.7 L367.3,1456.6 L368.3,1463.0 L369.3,1462.9 L370.3,1462.8 L371.3,1453.0 L372.3,1452.9 L373.4,1452.8 L374.4,1462.4 L375.4,1462.3 L376.4,1462.2 L377.4,1449.5 L378.4,1449.4 L379.4,1449.3 L380.4,1448.2 L381.4,1448.0 L382.5,1447.9 L383.5,1456.2 L384.5,1456.1 L385.5,1456.0 L386.5,1458.7 L387.5,1458.5 L388.5,1458.4 L389.5,1459.2 L390.5,1459.0 L391.6,1458.9 L392.6,1450.1 L393.6,1449.9 L394.6,1449.8 L395.6,1453.7 L396.6,1453.6 L397.6,1453.4 L398.6,1454.8 L399.6,1454.7 L400.7,1454.5 L401.7,1453.0 L402.7,1452.8 L403.7,1452.6 L404.7,1444.5 L405.7,1444.3 L406.7,1444.1 L407.7,1449.6 L408.7,1449.4 L409.8,1449.2 L410.8,1447.5 L411.8,1447.3 L412.8,1447.0 L413.8,1446.7 L414.8,1446.5 L415.8,1446.3 L416.8,1445.1 L417.8,1444.9 L418.9,1444.6 L419.9,1444.2 L420.9,1444.0 L421.9,1443.7 L422.9,1450.6 L423.9,1450.4 L424.9,1450.1 L425.9,1447.8 L426.9,1447.6 L428.0,1447.3 L429.0,1449.3 L430.0,1449.0 L431.0,1448.7 L432.0,1448.2 L433.0,1447.9 L434.0,1447.6 L435.0,1439.6 L436.0,1439.3 L437.1,1438.9 L438.1,1445.4 L439.1,1445.1 L440.1,1444.7 L441.1,1442.6 L442.1,1442.2 L443.1,1441.9 L444.1,1444.1 L445.1,1443.7 L446.2,1443.3 L447.2,1442.4 L448.2,1442.0 L449.2,1441.6 L450.2,1435.2 L451.2,1434.7 L452.2,1434.2 L453.2,1439.1 L454.3,1438.6 L455.3,1438.1 L456.3,1437.7 L457.3,1437.2 L458.3,1436.7 L459.3,1431.8 L460.3,1431.2 L461.3,1430.6 L462.3,1430.0 L463.4,1429.3 L464.4,1428.7 L465.4,1426.7 L466.4,1426.0 L467.4,1425.3 L468.4,1427.4 L469.4,1426.6 L470.4,1425.9 L471.4,1434.0 L472.5,1433.2 L473.5,1432.4 L474.5,1420.5 L475.5,1419.6 L476.5,1418.7 L477.5,1418.4 L478.5,1417.5 L479.5,1416.5 L480.5,1413.0 L481.6,1411.9 L482.6,1410.9 L483.6,1418.8 L484.6,1417.7 L485.6,1416.5 L486.6,1402.4 L487.6,1401.1 L488.6,1399.8 L489.6,1413.6 L490.7,1412.3 L491.7,1410.9 L492.7,1399.6 L493.7,1398.2 L494.7,1396.6 L495.7,1398.6 L496.7,1397.0 L497.7,1395.3 L498.7,1396.4 L499.8,1394.7 L500.8,1392.9 L501.8,1384.2 L502.8,1382.2 L503.8,1380.2 L504.8,1384.1 L505.8,1382.0 L506.8,1379.8 L507.8,1386.0 L508.9,1383.7 L509.9,1381.4 L510.9,1375.5 L511.9,1373.0 L512.9,1370.4 L513.9,1358.5 L514.9,1355.7 L515.9,1352.9 L516.9,1342.1 L518.0,1338.9 L519.0,1335.7 L520.0,1351.9 L521.0,1348.6 L522.0,1345.2 L523.0,1332.8 L524.0,1329.1 L525.0,1325.3 L526.0,1312.3 L527.1,1308.1 L528.1,1303.9 L529.1,1304.8 L530.1,1300.3 L531.1,1295.6 L532.1,1297.2 L533.1,1292.3 L534.1,1287.2 L535.2,1289.0 L536.2,1283.6 L537.2,1278.1 L538.2,1274.8 L539.2,1268.9 L540.2,1262.8 L541.2,1249.3 L542.2,1242.7 L543.2,1235.9 L544.3,1226.1 L545.3,1218.8 L546.3,1211.3 L547.3,1214.1 L548.3,1206.2 L549.3,1198.0 L550.3,1188.7 L551.3,1179.9 L552.3,1170.8 L553.4,1145.7 L554.4,1136.0 L555.4,1126.0 L556.4,1121.6 L557.4,1111.5 L558.4,1101.4 L559.4,1094.4 L560.4,1085.0 L561.4,1076.3 L562.5,1065.7 L563.5,1056.9 L564.5,1052.1 L565.5,1050.2 L566.5,1049.2 L567.5,1050.2 L568.5,1048.5 L569.5,1053.3 L570.5,1054.3 L571.6,1056.0 L572.6,1064.8 L573.6,1074.4 L574.6,1083.1 L575.6,1093.4 L576.6,1103.7 L577.6,1122.8 L578.6,1132.8 L579.6,1142.5 L580.7,1151.8 L581.7,1161.0 L582.7,1170.0 L583.7,1173.2 L584.7,1181.7 L585.7,1189.9 L586.7,1195.8 L587.7,1203.4 L588.7,1210.9 L589.8,1220.0 L590.8,1227.0 L591.8,1233.7 L592.8,1241.9 L593.8,1248.2 L594.8,1254.3 L595.8,1272.7 L596.8,1278.3 L597.8,1283.7 L598.9,1295.4 L599.9,1300.4 L600.9,1305.2 L601.9,1293.9 L602.9,1298.6 L603.9,1303.1 L604.9,1313.6 L605.9,1317.8 L607.0,1321.9 L608.0,1325.6 L609.0,1329.4 L610.0,1333.1 L611.0,1341.7 L612.0,1345.1 L613.0,1348.4 L614.0,1354.0 L615.0,1357.1 L616.1,1360.1 L617.1,1347.4 L618.1,1350.3 L619.1,1353.1 L620.1,1361.2 L621.1,1363.8 L622.1,1366.4 L623.1,1377.3 L624.1,1379.7 L625.2,1381.9 L626.2,1376.2 L627.2,1378.4 L628.2,1380.5 L629.2,1383.0 L630.2,1384.9 L631.2,1386.9 L632.2,1387.6 L633.2,1389.4 L634.3,1391.2 L635.3,1386.2 L636.3,1387.9 L637.3,1389.6 L638.3,1400.5 L639.3,1402.0 L640.3,1403.5 L641.3,1411.2 L642.3,1412.5 L643.4,1413.8 L644.4,1408.6 L645.4,1409.8 L646.4,1411.0 L647.4,1415.5 L648.4,1416.7 L649.4,1417.8 L650.4,1413.1 L651.4,1414.2 L652.5,1415.2 L653.5,1417.8 L654.5,1418.8 L655.5,1419.8 L656.5,1420.0 L657.5,1420.9 L658.5,1421.8 L659.5,1426.9 L660.5,1427.7 L661.6,1428.5 L662.6,1424.8 L663.6,1425.5 L664.6,1426.3 L665.6,1431.2 L666.6,1431.9 L667.6,1432.6 L668.6,1428.6 L669.6,1429.3 L670.7,1429.9 L671.7,1434.1 L672.7,1434.7 L673.7,1435.3 L674.7,1439.5 L675.7,1440.0 L676.7,1440.5 L677.7,1434.0 L678.7,1434.5 L679.8,1435.0 L680.8,1440.7 L681.8,1441.2 L682.8,1441.6 L683.8,1432.9 L684.8,1433.3 L685.8,1433.8 L686.8,1438.4 L687.9,1438.9 L688.9,1439.3 L689.9,1439.6 L690.9,1439.9 L691.9,1440.3 L692.9,1442.2 L693.9,1442.6 L694.9,1442.9 L695.9,1443.9 L697.0,1444.3 L698.0,1444.6 L699.0,1452.1 L700.0,1452.4 L701.0,1452.7 L702.0,1440.6 L703.0,1440.9 L704.0,1441.2 L705.0,1449.7 L706.1,1450.0 L707.1,1450.3 L708.1,1443.4 L709.1,1443.6 L710.1,1443.9 L711.1,1450.6 L712.1,1450.8 L713.1,1451.0 L714.1,1449.3 L715.2,1449.5 L716.2,1449.7 L717.2,1450.3 L718.2,1450.5 L719.2,1450.7 L720.2,1454.1 L721.2,1454.3 L722.2,1454.5 L723.2,1451.3 L724.3,1451.5 L725.3,1451.6 L726.3,1449.3 L727.3,1449.5 L728.3,1449.6 L729.3,1453.3 L730.3,1453.5 L731.3,1453.6 L732.3,1457.1 L733.4,1457.2 L734.4,1457.4 L735.4,1454.9 L736.4,1455.0 L737.4,1455.2 L738.4,1452.2 L739.4,1452.3 L740.4,1452.4 L741.4,1449.2 L742.5,1449.3 L743.5,1449.4 L744.5,1450.8 L745.5,1450.9 L746.5,1451.0 L747.5,1453.3 L748.5,1453.4 L749.5,1453.5 L750.5,1458.5 L751.6,1458.6 L752.6,1458.7 L753.6,1451.7 L754.6,1451.8 L755.6,1451.9 L756.6,1455.3 L757.6,1455.4 L758.6,1455.5 L759.6,1456.6 L760.7,1456.7 L761.7,1456.8 L762.7,1452.7 L763.7,1452.8 L764.7,1452.9 L765.7,1454.1 L766.7,1454.2 L767.7,1454.2 L768.8,1454.8 L769.8,1454.9 L770.8,1455.0 L771.8,1461.2 L772.8,1461.2 L773.8,1461.3 L774.8,1459.4 L775.8,1459.5 L776.8,1459.6 L777.9,1463.7 L778.9,1463.8 L779.9,1463.8 L780.9,1457.0 L781.9,1457.0 L782.9,1457.1 L783.9,1457.8 L784.9,1457.9 L785.9,1457.9 L787.0,1454.7 L788.0,1454.8 L789.0,1454.9 L790.0,1457.6 L791.0,1457.6 L792.0,1457.7 L793.0,1459.9 L794.0,1459.9 L795.0,1460.0 L796.1,1452.2 L797.1,1452.3 L798.1,1452.4 L799.1,1462.6 L800.1,1462.7 L801.1,1462.8 L802.1,1463.9 L803.1,1464.0 L804.1,1464.0 L805.2,1461.5 L806.2,1461.5 L807.2,1461.6 L808.2,1457.6 L809.2,1457.6 L810.2,1457.7 L811.2,1460.9 L812.2,1460.9 L813.2,1461.0 L814.3,1461.4 L815.3,1461.4 L816.3,1461.5 L817.3,1463.9 L818.3,1464.0 L819.3,1464.0 L820.3,1454.9 L821.3,1454.9 L822.3,1455.0 L823.4,1462.4 L824.4,1462.5 L825.4,1462.5 L826.4,1464.2 L827.4,1464.2 L828.4,1464.3 L829.4,1460.9 L830.4,1461.0 L831.4,1461.0 L832.5,1463.5 L833.5,1463.5 L834.5,1463.6 L835.5,1461.6 L836.5,1461.6 L837.5,1461.7 L838.5,1456.2 L839.5,1456.3 L840.5,1456.3 L841.6,1462.6 L842.6,1462.6 L843.6,1462.6 L844.6,1461.3 L845.6,1461.3 L846.6,1461.4 L847.6,1462.5 L848.6,1462.6 L849.7,1462.6 L850.7,1462.0 L851.7,1462.0 L852.7,1462.1 L853.7,1458.6 L854.7,1458.6 L855.7,1458.7 L856.7,1459.7 L857.7,1459.7 L858.8,1459.8 L859.8,1462.8 L860.8,1462.9 L861.8,1462.9 L862.8,1464.9 L863.8,1465.0 L864.8,1465.0 L865.8,1462.3 L866.8,1462.3 L867.9,1462.3 L868.9,1459.0 L869.9,1459.1 L870.9,1459.1 L871.9,1462.1 L872.9,1462.1 L873.9,1462.1 L874.9,1462.5 L875.9,1462.5 L877.0,1462.6 L878.0,1468.3 L879.0,1468.4 L880.0,1468.4 L881.0,1458.8 L882.0,1458.9 L883.0,1458.9 L884.0,1467.4 L885.0,1467.4 L886.1,1467.5 L887.1,1466.8 L888.1,1466.8 L889.1,1466.8 L890.1,1463.7 L891.1,1463.8 L892.1,1463.8 L893.1,1462.4 L894.1,1462.4 L895.2,1462.4 L896.2,1462.4 L897.2,1462.4 L898.2,1462.5 L899.2,1465.2 L900.2,1465.3 L901.2,1465.3 L902.2,1463.8 L903.2,1463.8 L904.3,1463.8 L905.3,1464.8 L906.3,1464.8 L907.3,1464.9 L908.3,1468.9 L909.3,1468.9 L910.3,1469.0 L911.3,1463.7 L912.3,1463.8 L913.4,1463.8 L914.4,1465.3 L915.4,1465.3 L916.4,1465.3 L917.4,1461.6 L918.4,1461.6 L919.4,1461.6 L920.4,1463.5 L921.4,1463.5 L922.5,1463.6 L923.5,1459.8 L924.5,1459.9 L925.5,1459.9 L926.5,1460.8 L927.5,1460.8 L928.5,1460.8 L929.5,1460.2 L930.5,1460.2 L931.6,1460.2 L932.6,1459.2 L933.6,1459.2 L934.6,1459.2 L935.6,1460.9 L936.6,1461.0 L937.6,1461.0 L938.6,1463.9 L939.7,1463.9 L940.7,1463.9 L941.7,1458.8 L942.7,1458.8 L943.7,1458.8 L944.7,1466.5 L945.7,1466.5 L946.7,1466.5 L947.7,1463.5 L948.8,1463.6 L949.8,1463.6 L950.8,1460.6 L951.8,1460.6 L952.8,1460.6 L953.8,1464.5 L954.8,1464.5 L955.8,1464.5 L956.8,1461.1 L957.9,1461.2 L958.9,1461.2 L959.9,1466.3 L960.9,1466.3 L961.9,1466.3 L962.9,1465.4 L963.9,1465.5 L964.9,1465.5 L965.9,1461.9 L967.0,1462.0 L968.0,1462.1 L969.0,1461.6 L970.0,1461.7 L971.0,1461.7" fill="none" stroke="#7030A0" stroke-width="5" stroke-linejoin="round"/>
<rect x="232" y="1055.5" width="271.4" height="229.79999999999995" fill="#fff" stroke="#222" stroke-width="1.8"/>
<line x1="232" y1="1262.3" x2="235" y2="1262.3" stroke="#222" stroke-width="1.5"/>
<line x1="232" y1="1239.3" x2="235" y2="1239.3" stroke="#222" stroke-width="1.5"/>
<line x1="232" y1="1216.4" x2="235" y2="1216.4" stroke="#222" stroke-width="1.5"/>
<line x1="232" y1="1193.4" x2="235" y2="1193.4" stroke="#222" stroke-width="1.5"/>
<line x1="232" y1="1170.4" x2="235" y2="1170.4" stroke="#222" stroke-width="1.5"/>
<line x1="232" y1="1147.4" x2="235" y2="1147.4" stroke="#222" stroke-width="1.5"/>
<line x1="232" y1="1124.4" x2="235" y2="1124.4" stroke="#222" stroke-width="1.5"/>
<line x1="232" y1="1101.5" x2="235" y2="1101.5" stroke="#222" stroke-width="1.5"/>
<line x1="232" y1="1078.5" x2="235" y2="1078.5" stroke="#222" stroke-width="1.5"/>
<line x1="292.8" y1="1285.3" x2="292.8" y2="1277.3" stroke="#222" stroke-width="2"/>
<line x1="366.7" y1="1285.3" x2="366.7" y2="1277.3" stroke="#222" stroke-width="2"/>
<line x1="434.4" y1="1285.3" x2="434.4" y2="1277.3" stroke="#222" stroke-width="2"/>
<path d="M232.00,1280.8 L232.22,1280.8 L232.45,1280.8 L232.67,1280.8 L232.90,1280.8 L233.12,1280.8 L233.35,1280.8 L233.57,1280.8 L233.80,1280.8 L234.02,1280.8 L234.25,1280.8 L234.47,1280.8 L234.69,1280.8 L234.92,1280.8 L235.14,1280.8 L235.37,1280.8 L235.59,1280.8 L235.82,1280.8 L236.04,1280.8 L236.27,1280.8 L236.49,1280.8 L236.71,1280.8 L236.94,1280.8 L237.16,1280.8 L237.39,1280.8 L237.61,1280.8 L237.84,1280.8 L238.06,1280.8 L238.29,1280.8 L238.51,1280.8 L238.74,1280.8 L238.96,1280.8 L239.18,1280.8 L239.41,1280.8 L239.63,1280.8 L239.86,1280.8 L240.08,1280.8 L240.31,1280.8 L240.53,1280.8 L240.76,1280.8 L240.98,1280.8 L241.20,1280.8 L241.43,1280.8 L241.65,1280.8 L241.88,1280.8 L242.10,1280.8 L242.33,1280.8 L242.55,1280.8 L242.78,1280.8 L243.00,1280.8 L243.22,1280.8 L243.45,1280.8 L243.67,1280.8 L243.90,1280.8 L244.12,1280.8 L244.35,1280.8 L244.57,1280.8 L244.80,1280.8 L245.02,1280.8 L245.25,1280.8 L245.47,1280.8 L245.69,1280.8 L245.92,1280.8 L246.14,1280.8 L246.37,1280.8 L246.59,1280.8 L246.82,1280.8 L247.04,1280.8 L247.27,1280.8 L247.49,1280.8 L247.72,1280.8 L247.94,1280.8 L248.16,1280.8 L248.39,1280.8 L248.61,1280.8 L248.84,1280.8 L249.06,1280.8 L249.29,1280.8 L249.51,1280.8 L249.74,1280.8 L249.96,1280.8 L250.18,1280.8 L250.41,1280.8 L250.63,1280.8 L250.86,1280.8 L251.08,1280.8 L251.31,1280.8 L251.53,1280.8 L251.76,1280.8 L251.98,1280.8 L252.21,1280.8 L252.43,1280.8 L252.65,1280.8 L252.88,1280.8 L253.10,1280.8 L253.33,1280.8 L253.55,1280.8 L253.78,1280.8 L254.00,1280.8 L254.23,1280.8 L254.45,1280.8 L254.67,1280.8 L254.90,1280.8 L255.12,1280.8 L255.35,1280.8 L255.57,1280.8 L255.80,1280.8 L256.02,1280.8 L256.25,1280.8 L256.47,1280.8 L256.69,1280.8 L256.92,1280.8 L257.14,1280.8 L257.37,1280.8 L257.59,1280.8 L257.82,1280.8 L258.04,1280.8 L258.27,1280.8 L258.49,1280.8 L258.72,1280.8 L258.94,1280.8 L259.16,1280.8 L259.39,1280.8 L259.61,1280.8 L259.84,1280.8 L260.06,1280.8 L260.29,1280.8 L260.51,1280.8 L260.74,1280.8 L260.96,1280.8 L261.19,1280.8 L261.41,1280.8 L261.63,1280.8 L261.86,1280.8 L262.08,1280.8 L262.31,1280.8 L262.53,1280.8 L262.76,1280.8 L262.98,1280.8 L263.21,1280.8 L263.43,1280.8 L263.65,1280.8 L263.88,1280.8 L264.10,1280.8 L264.33,1280.8 L264.55,1280.8 L264.78,1280.8 L265.00,1280.8 L265.23,1280.8 L265.45,1280.8 L265.67,1280.8 L265.90,1280.8 L266.12,1280.8 L266.35,1280.8 L266.57,1280.8 L266.80,1280.8 L267.02,1280.8 L267.25,1280.8 L267.47,1280.8 L267.70,1280.8 L267.92,1280.8 L268.14,1280.8 L268.37,1280.8 L268.59,1280.8 L268.82,1280.8 L269.04,1280.8 L269.27,1280.8 L269.49,1280.8 L269.72,1280.8 L269.94,1280.8 L270.16,1280.8 L270.39,1280.8 L270.61,1280.8 L270.84,1280.8 L271.06,1280.8 L271.29,1280.8 L271.51,1280.8 L271.74,1280.8 L271.96,1280.8 L272.19,1280.8 L272.41,1280.8 L272.63,1280.8 L272.86,1280.8 L273.08,1280.8 L273.31,1280.8 L273.53,1280.8 L273.76,1280.8 L273.98,1280.8 L274.21,1280.8 L274.43,1280.8 L274.65,1280.8 L274.88,1280.8 L275.10,1280.8 L275.33,1280.8 L275.55,1280.8 L275.78,1280.8 L276.00,1280.8 L276.23,1280.8 L276.45,1280.8 L276.68,1280.8 L276.90,1280.8 L277.12,1280.8 L277.35,1280.8 L277.57,1280.8 L277.80,1280.8 L278.02,1280.8 L278.25,1280.8 L278.47,1280.8 L278.70,1280.8 L278.92,1280.8 L279.14,1280.8 L279.37,1280.8 L279.59,1280.8 L279.82,1280.8 L280.04,1280.8 L280.27,1280.8 L280.49,1280.8 L280.72,1280.8 L280.94,1280.8 L281.17,1280.8 L281.39,1280.8 L281.61,1280.8 L281.84,1280.8 L282.06,1280.8 L282.29,1280.8 L282.51,1280.8 L282.74,1280.8 L282.96,1280.8 L283.19,1280.8 L283.41,1280.8 L283.63,1280.8 L283.86,1280.8 L284.08,1280.8 L284.31,1280.8 L284.53,1280.8 L284.76,1280.8 L284.98,1280.8 L285.21,1280.8 L285.43,1280.8 L285.66,1280.8 L285.88,1280.8 L286.10,1280.8 L286.33,1280.8 L286.55,1280.8 L286.78,1280.8 L287.00,1280.8 L287.23,1280.8 L287.45,1280.8 L287.68,1280.8 L287.90,1280.8 L288.12,1280.8 L288.35,1280.8 L288.57,1280.8 L288.80,1280.8 L289.02,1280.8 L289.25,1280.8 L289.47,1280.8 L289.70,1280.8 L289.92,1280.8 L290.15,1280.8 L290.37,1280.8 L290.59,1280.8 L290.82,1280.8 L291.04,1280.8 L291.27,1280.8 L291.49,1280.8 L291.72,1280.8 L291.94,1280.8 L292.17,1280.8 L292.39,1280.8 L292.62,1280.8 L292.84,1280.8 L293.06,1280.8 L293.29,1280.8 L293.51,1280.8 L293.74,1280.8 L293.96,1280.8 L294.19,1280.8 L294.41,1280.8 L294.64,1280.8 L294.86,1280.8 L295.08,1280.8 L295.31,1280.8 L295.53,1280.8 L295.76,1280.8 L295.98,1280.8 L296.21,1280.8 L296.43,1280.8 L296.66,1280.8 L296.88,1280.8 L297.11,1280.8 L297.33,1280.8 L297.55,1280.8 L297.78,1280.8 L298.00,1280.8 L298.23,1280.8 L298.45,1280.8 L298.68,1280.8 L298.90,1280.8 L299.13,1280.8 L299.35,1280.8 L299.57,1280.8 L299.80,1280.8 L300.02,1280.8 L300.25,1280.8 L300.47,1280.8 L300.70,1280.8 L300.92,1280.8 L301.15,1280.8 L301.37,1280.8 L301.59,1280.8 L301.82,1280.8 L302.04,1280.8 L302.27,1280.8 L302.49,1280.8 L302.72,1280.8 L302.94,1280.8 L303.17,1280.8 L303.39,1280.8 L303.62,1280.8 L303.84,1280.8 L304.06,1280.8 L304.29,1280.8 L304.51,1280.8 L304.74,1280.8 L304.96,1280.8 L305.19,1280.8 L305.41,1280.8 L305.64,1280.8 L305.86,1280.8 L306.08,1280.8 L306.31,1280.8 L306.53,1280.8 L306.76,1280.8 L306.98,1280.8 L307.21,1280.8 L307.43,1280.8 L307.66,1280.8 L307.88,1280.8 L308.11,1280.8 L308.33,1280.8 L308.55,1280.8 L308.78,1280.8 L309.00,1280.8 L309.23,1280.8 L309.45,1280.8 L309.68,1280.8 L309.90,1280.8 L310.13,1280.8 L310.35,1280.8 L310.57,1280.8 L310.80,1280.8 L311.02,1280.8 L311.25,1280.8 L311.47,1280.8 L311.70,1280.8 L311.92,1280.8 L312.15,1280.8 L312.37,1280.8 L312.60,1280.8 L312.82,1280.8 L313.04,1280.8 L313.27,1280.8 L313.49,1280.8 L313.72,1280.8 L313.94,1280.8 L314.17,1280.8 L314.39,1280.8 L314.62,1280.8 L314.84,1280.8 L315.06,1280.8 L315.29,1280.8 L315.51,1280.8 L315.74,1280.8 L315.96,1280.8 L316.19,1280.8 L316.41,1280.8 L316.64,1280.8 L316.86,1280.8 L317.09,1280.8 L317.31,1280.8 L317.53,1280.8 L317.76,1280.8 L317.98,1280.8 L318.21,1280.8 L318.43,1280.8 L318.66,1280.8 L318.88,1280.8 L319.11,1280.8 L319.33,1280.8 L319.56,1280.8 L319.78,1280.8 L320.00,1280.8 L320.23,1280.8 L320.45,1280.8 L320.68,1280.8 L320.90,1280.8 L321.13,1280.8 L321.35,1280.8 L321.58,1280.8 L321.80,1280.8 L322.02,1280.8 L322.25,1280.8 L322.47,1280.8 L322.70,1280.8 L322.92,1280.8 L323.15,1280.8 L323.37,1280.8 L323.60,1280.8 L323.82,1280.8 L324.04,1280.8 L324.27,1280.8 L324.49,1280.8 L324.72,1280.8 L324.94,1280.8 L325.17,1280.8 L325.39,1280.8 L325.62,1280.8 L325.84,1280.8 L326.07,1280.8 L326.29,1280.8 L326.51,1280.8 L326.74,1280.8 L326.96,1280.8 L327.19,1280.8 L327.41,1280.8 L327.64,1280.8 L327.86,1280.8 L328.09,1280.8 L328.31,1280.8 L328.53,1280.8 L328.76,1280.8 L328.98,1280.8 L329.21,1280.8 L329.43,1280.8 L329.66,1280.8 L329.88,1280.8 L330.11,1280.8 L330.33,1280.8 L330.56,1280.8 L330.78,1280.8 L331.00,1280.8 L331.23,1280.8 L331.45,1280.8 L331.68,1280.8 L331.90,1280.8 L332.13,1280.8 L332.35,1280.8 L332.58,1280.8 L332.80,1280.8 L333.02,1280.8 L333.25,1280.8 L333.47,1280.8 L333.70,1280.8 L333.92,1280.8 L334.15,1280.8 L334.37,1280.8 L334.60,1280.8 L334.82,1280.8 L335.05,1280.8 L335.27,1280.8 L335.49,1280.8 L335.72,1280.8 L335.94,1280.8 L336.17,1280.8 L336.39,1280.8 L336.62,1280.8 L336.84,1280.8 L337.07,1280.8 L337.29,1280.8 L337.51,1280.8 L337.74,1280.8 L337.96,1280.8 L338.19,1280.8 L338.41,1280.8 L338.64,1280.8 L338.86,1280.8 L339.09,1280.8 L339.31,1280.8 L339.54,1280.8 L339.76,1280.8 L339.98,1280.8 L340.21,1280.8 L340.43,1280.8 L340.66,1280.8 L340.88,1280.8 L341.11,1280.8 L341.33,1280.8 L341.56,1280.8 L341.78,1280.8 L342.00,1280.8 L342.23,1280.8 L342.45,1280.8 L342.68,1280.8 L342.90,1280.8 L343.13,1280.8 L343.35,1280.8 L343.58,1280.8 L343.80,1280.8 L344.03,1280.8 L344.25,1280.8 L344.47,1280.8 L344.70,1280.8 L344.92,1280.8 L345.15,1280.8 L345.37,1280.8 L345.60,1280.8 L345.82,1280.8 L346.05,1280.8 L346.27,1280.8 L346.50,1280.8 L346.72,1280.8 L346.94,1280.8 L347.17,1280.8 L347.39,1280.8 L347.62,1280.8 L347.84,1280.8 L348.07,1280.8 L348.29,1280.8 L348.52,1280.8 L348.74,1280.8 L348.96,1280.8 L349.19,1280.8 L349.41,1280.8 L349.64,1280.8 L349.86,1280.8 L350.09,1280.8 L350.31,1280.8 L350.54,1280.8 L350.76,1280.8 L350.98,1280.8 L351.21,1280.8 L351.43,1280.8 L351.66,1280.8 L351.88,1280.8 L352.11,1280.8 L352.33,1280.8 L352.56,1280.8 L352.78,1280.8 L353.01,1280.8 L353.23,1280.8 L353.45,1280.8 L353.68,1280.8 L353.90,1280.8 L354.13,1280.8 L354.35,1280.8 L354.58,1280.8 L354.80,1280.8 L355.03,1280.8 L355.25,1280.8 L355.47,1280.8 L355.70,1280.8 L355.92,1280.8 L356.15,1280.8 L356.37,1280.8 L356.60,1280.8 L356.82,1280.8 L357.05,1280.8 L357.27,1280.8 L357.50,1280.8 L357.72,1280.8 L357.94,1280.8 L358.17,1280.8 L358.39,1280.7 L358.62,1280.7 L358.84,1280.7 L359.07,1280.7 L359.29,1280.6 L359.52,1280.6 L359.74,1280.5 L359.96,1280.5 L360.19,1280.4 L360.41,1280.3 L360.64,1280.2 L360.86,1280.0 L361.09,1279.8 L361.31,1279.6 L361.54,1279.3 L361.76,1278.9 L361.99,1278.4 L362.21,1277.8 L362.43,1277.1 L362.66,1276.3 L362.88,1275.2 L363.11,1273.8 L363.33,1272.1 L363.56,1270.1 L363.78,1267.5 L364.01,1264.4 L364.23,1260.4 L364.45,1255.6 L364.68,1249.6 L364.90,1242.1 L365.13,1232.9 L365.35,1221.5 L365.58,1207.3 L365.80,1189.8 L366.03,1168.1 L366.25,1141.3 L366.48,1108.0 L366.70,1066.9 L366.93,1108.0 L367.16,1141.3 L367.38,1168.1 L367.61,1189.8 L367.84,1207.3 L368.07,1221.5 L368.29,1232.9 L368.52,1242.1 L368.75,1249.6 L368.98,1255.6 L369.21,1260.4 L369.43,1264.4 L369.66,1267.5 L369.89,1270.1 L370.12,1272.1 L370.35,1273.8 L370.57,1275.2 L370.80,1276.3 L371.03,1277.1 L371.26,1277.8 L371.48,1278.4 L371.71,1278.9 L371.94,1279.3 L372.17,1279.6 L372.40,1279.8 L372.62,1280.0 L372.85,1280.2 L373.08,1280.3 L373.31,1280.4 L373.53,1280.5 L373.76,1280.5 L373.99,1280.6 L374.22,1280.6 L374.45,1280.7 L374.67,1280.7 L374.90,1280.7 L375.13,1280.7 L375.36,1280.8 L375.59,1280.8 L375.81,1280.8 L376.04,1280.8 L376.27,1280.8 L376.50,1280.8 L376.72,1280.8 L376.95,1280.8 L377.18,1280.8 L377.41,1280.8 L377.64,1280.8 L377.86,1280.8 L378.09,1280.8 L378.32,1280.8 L378.55,1280.8 L378.78,1280.8 L379.00,1280.8 L379.23,1280.8 L379.46,1280.8 L379.69,1280.8 L379.91,1280.8 L380.14,1280.8 L380.37,1280.8 L380.60,1280.8 L380.83,1280.8 L381.05,1280.8 L381.28,1280.8 L381.51,1280.8 L381.74,1280.8 L381.96,1280.8 L382.19,1280.8 L382.42,1280.8 L382.65,1280.8 L382.88,1280.8 L383.10,1280.8 L383.33,1280.8 L383.56,1280.8 L383.79,1280.8 L384.02,1280.8 L384.24,1280.8 L384.47,1280.8 L384.70,1280.8 L384.93,1280.8 L385.15,1280.8 L385.38,1280.8 L385.61,1280.8 L385.84,1280.8 L386.07,1280.8 L386.29,1280.8 L386.52,1280.8 L386.75,1280.8 L386.98,1280.8 L387.20,1280.8 L387.43,1280.8 L387.66,1280.8 L387.89,1280.8 L388.12,1280.8 L388.34,1280.8 L388.57,1280.8 L388.80,1280.8 L389.03,1280.8 L389.26,1280.8 L389.48,1280.8 L389.71,1280.8 L389.94,1280.8 L390.17,1280.8 L390.39,1280.8 L390.62,1280.8 L390.85,1280.8 L391.08,1280.8 L391.31,1280.8 L391.53,1280.8 L391.76,1280.8 L391.99,1280.8 L392.22,1280.8 L392.45,1280.8 L392.67,1280.8 L392.90,1280.8 L393.13,1280.8 L393.36,1280.8 L393.58,1280.8 L393.81,1280.8 L394.04,1280.8 L394.27,1280.8 L394.50,1280.8 L394.72,1280.8 L394.95,1280.8 L395.18,1280.8 L395.41,1280.8 L395.63,1280.8 L395.86,1280.8 L396.09,1280.8 L396.32,1280.8 L396.55,1280.8 L396.77,1280.8 L397.00,1280.8 L397.23,1280.8 L397.46,1280.8 L397.69,1280.8 L397.91,1280.8 L398.14,1280.8 L398.37,1280.8 L398.60,1280.8 L398.82,1280.8 L399.05,1280.8 L399.28,1280.8 L399.51,1280.8 L399.74,1280.8 L399.96,1280.8 L400.19,1280.8 L400.42,1280.8 L400.65,1280.8 L400.88,1280.8 L401.10,1280.8 L401.33,1280.8 L401.56,1280.8 L401.79,1280.8 L402.01,1280.8 L402.24,1280.8 L402.47,1280.8 L402.70,1280.8 L402.93,1280.8 L403.15,1280.8 L403.38,1280.8 L403.61,1280.8 L403.84,1280.8 L404.06,1280.8 L404.29,1280.8 L404.52,1280.8 L404.75,1280.8 L404.98,1280.8 L405.20,1280.8 L405.43,1280.8 L405.66,1280.8 L405.89,1280.8 L406.12,1280.8 L406.34,1280.8 L406.57,1280.8 L406.80,1280.8 L407.03,1280.8 L407.25,1280.8 L407.48,1280.8 L407.71,1280.8 L407.94,1280.8 L408.17,1280.8 L408.39,1280.8 L408.62,1280.8 L408.85,1280.8 L409.08,1280.8 L409.30,1280.8 L409.53,1280.8 L409.76,1280.8 L409.99,1280.8 L410.22,1280.8 L410.44,1280.8 L410.67,1280.8 L410.90,1280.8 L411.13,1280.8 L411.36,1280.8 L411.58,1280.8 L411.81,1280.8 L412.04,1280.8 L412.27,1280.8 L412.49,1280.8 L412.72,1280.8 L412.95,1280.8 L413.18,1280.8 L413.41,1280.8 L413.63,1280.8 L413.86,1280.8 L414.09,1280.8 L414.32,1280.8 L414.54,1280.8 L414.77,1280.8 L415.00,1280.8 L415.23,1280.8 L415.46,1280.8 L415.68,1280.8 L415.91,1280.8 L416.14,1280.8 L416.37,1280.8 L416.60,1280.8 L416.82,1280.8 L417.05,1280.8 L417.28,1280.8 L417.51,1280.8 L417.73,1280.8 L417.96,1280.8 L418.19,1280.8 L418.42,1280.8 L418.65,1280.8 L418.87,1280.8 L419.10,1280.8 L419.33,1280.8 L419.56,1280.8 L419.79,1280.8 L420.01,1280.8 L420.24,1280.8 L420.47,1280.8 L420.70,1280.8 L420.92,1280.8 L421.15,1280.8 L421.38,1280.8 L421.61,1280.8 L421.84,1280.8 L422.06,1280.8 L422.29,1280.8 L422.52,1280.8 L422.75,1280.8 L422.97,1280.8 L423.20,1280.8 L423.43,1280.8 L423.66,1280.8 L423.89,1280.8 L424.11,1280.8 L424.34,1280.8 L424.57,1280.8 L424.80,1280.8 L425.03,1280.8 L425.25,1280.8 L425.48,1280.8 L425.71,1280.8 L425.94,1280.8 L426.16,1280.8 L426.39,1280.8 L426.62,1280.8 L426.85,1280.8 L427.08,1280.8 L427.30,1280.8 L427.53,1280.8 L427.76,1280.8 L427.99,1280.8 L428.21,1280.8 L428.44,1280.8 L428.67,1280.8 L428.90,1280.8 L429.13,1280.8 L429.35,1280.8 L429.58,1280.8 L429.81,1280.8 L430.04,1280.8 L430.27,1280.8 L430.49,1280.8 L430.72,1280.8 L430.95,1280.8 L431.18,1280.8 L431.40,1280.8 L431.63,1280.8 L431.86,1280.8 L432.09,1280.8 L432.32,1280.8 L432.54,1280.8 L432.77,1280.8 L433.00,1280.8 L433.23,1280.8 L433.46,1280.8 L433.68,1280.8 L433.91,1280.8 L434.14,1280.8 L434.37,1280.8 L434.59,1280.8 L434.82,1280.8 L435.05,1280.8 L435.28,1280.8 L435.51,1280.8 L435.73,1280.8 L435.96,1280.8 L436.19,1280.8 L436.42,1280.8 L436.64,1280.8 L436.87,1280.8 L437.10,1280.8 L437.33,1280.8 L437.56,1280.8 L437.78,1280.8 L438.01,1280.8 L438.24,1280.8 L438.47,1280.8 L438.70,1280.8 L438.92,1280.8 L439.15,1280.8 L439.38,1280.8 L439.61,1280.8 L439.83,1280.8 L440.06,1280.8 L440.29,1280.8 L440.52,1280.8 L440.75,1280.8 L440.97,1280.8 L441.20,1280.8 L441.43,1280.8 L441.66,1280.8 L441.88,1280.8 L442.11,1280.8 L442.34,1280.8 L442.57,1280.8 L442.80,1280.8 L443.02,1280.8 L443.25,1280.8 L443.48,1280.8 L443.71,1280.8 L443.94,1280.8 L444.16,1280.8 L444.39,1280.8 L444.62,1280.8 L444.85,1280.8 L445.07,1280.8 L445.30,1280.8 L445.53,1280.8 L445.76,1280.8 L445.99,1280.8 L446.21,1280.8 L446.44,1280.8 L446.67,1280.8 L446.90,1280.8 L447.13,1280.8 L447.35,1280.8 L447.58,1280.8 L447.81,1280.8 L448.04,1280.8 L448.26,1280.8 L448.49,1280.8 L448.72,1280.8 L448.95,1280.8 L449.18,1280.8 L449.40,1280.8 L449.63,1280.8 L449.86,1280.8 L450.09,1280.8 L450.31,1280.8 L450.54,1280.8 L450.77,1280.8 L451.00,1280.8 L451.23,1280.8 L451.45,1280.8 L451.68,1280.8 L451.91,1280.8 L452.14,1280.8 L452.37,1280.8 L452.59,1280.8 L452.82,1280.8 L453.05,1280.8 L453.28,1280.8 L453.50,1280.8 L453.73,1280.8 L453.96,1280.8 L454.19,1280.8 L454.42,1280.8 L454.64,1280.8 L454.87,1280.8 L455.10,1280.8 L455.33,1280.8 L455.56,1280.8 L455.78,1280.8 L456.01,1280.8 L456.24,1280.8 L456.47,1280.8 L456.69,1280.8 L456.92,1280.8 L457.15,1280.8 L457.38,1280.8 L457.61,1280.8 L457.83,1280.8 L458.06,1280.8 L458.29,1280.8 L458.52,1280.8 L458.74,1280.8 L458.97,1280.8 L459.20,1280.8 L459.43,1280.8 L459.66,1280.8 L459.88,1280.8 L460.11,1280.8 L460.34,1280.8 L460.57,1280.8 L460.80,1280.8 L461.02,1280.8 L461.25,1280.8 L461.48,1280.8 L461.71,1280.8 L461.93,1280.8 L462.16,1280.8 L462.39,1280.8 L462.62,1280.8 L462.85,1280.8 L463.07,1280.8 L463.30,1280.8 L463.53,1280.8 L463.76,1280.8 L463.98,1280.8 L464.21,1280.8 L464.44,1280.8 L464.67,1280.8 L464.90,1280.8 L465.12,1280.8 L465.35,1280.8 L465.58,1280.8 L465.81,1280.8 L466.04,1280.8 L466.26,1280.8 L466.49,1280.8 L466.72,1280.8 L466.95,1280.8 L467.17,1280.8 L467.40,1280.8 L467.63,1280.8 L467.86,1280.8 L468.09,1280.8 L468.31,1280.8 L468.54,1280.8 L468.77,1280.8 L469.00,1280.8 L469.23,1280.8 L469.45,1280.8 L469.68,1280.8 L469.91,1280.8 L470.14,1280.8 L470.36,1280.8 L470.59,1280.8 L470.82,1280.8 L471.05,1280.8 L471.28,1280.8 L471.50,1280.8 L471.73,1280.8 L471.96,1280.8 L472.19,1280.8 L472.41,1280.8 L472.64,1280.8 L472.87,1280.8 L473.10,1280.8 L473.33,1280.8 L473.55,1280.8 L473.78,1280.8 L474.01,1280.8 L474.24,1280.8 L474.47,1280.8 L474.69,1280.8 L474.92,1280.8 L475.15,1280.8 L475.38,1280.8 L475.60,1280.8 L475.83,1280.8 L476.06,1280.8 L476.29,1280.8 L476.52,1280.8 L476.74,1280.8 L476.97,1280.8 L477.20,1280.8 L477.43,1280.8 L477.65,1280.8 L477.88,1280.8 L478.11,1280.8 L478.34,1280.8 L478.57,1280.8 L478.79,1280.8 L479.02,1280.8 L479.25,1280.8 L479.48,1280.8 L479.71,1280.8 L479.93,1280.8 L480.16,1280.8 L480.39,1280.8 L480.62,1280.8 L480.84,1280.8 L481.07,1280.8 L481.30,1280.8 L481.53,1280.8 L481.76,1280.8 L481.98,1280.8 L482.21,1280.8 L482.44,1280.8 L482.67,1280.8 L482.89,1280.8 L483.12,1280.8 L483.35,1280.8 L483.58,1280.8 L483.81,1280.8 L484.03,1280.8 L484.26,1280.8 L484.49,1280.8 L484.72,1280.8 L484.95,1280.8 L485.17,1280.8 L485.40,1280.8 L485.63,1280.8 L485.86,1280.8 L486.08,1280.8 L486.31,1280.8 L486.54,1280.8 L486.77,1280.8 L487.00,1280.8 L487.22,1280.8 L487.45,1280.8 L487.68,1280.8 L487.91,1280.8 L488.14,1280.8 L488.36,1280.8 L488.59,1280.8 L488.82,1280.8 L489.05,1280.8 L489.27,1280.8 L489.50,1280.8 L489.73,1280.8 L489.96,1280.8 L490.19,1280.8 L490.41,1280.8 L490.64,1280.8 L490.87,1280.8 L491.10,1280.8 L491.32,1280.8 L491.55,1280.8 L491.78,1280.8 L492.01,1280.8 L492.24,1280.8 L492.46,1280.8 L492.69,1280.8 L492.92,1280.8 L493.15,1280.8 L493.38,1280.8 L493.60,1280.8 L493.83,1280.8 L494.06,1280.8 L494.29,1280.8 L494.51,1280.8 L494.74,1280.8 L494.97,1280.8 L495.20,1280.8 L495.43,1280.8 L495.65,1280.8 L495.88,1280.8 L496.11,1280.8 L496.34,1280.8 L496.56,1280.8 L496.79,1280.8 L497.02,1280.8 L497.25,1280.8 L497.48,1280.8 L497.70,1280.8 L497.93,1280.8 L498.16,1280.8 L498.39,1280.8 L498.62,1280.8 L498.84,1280.8 L499.07,1280.8 L499.30,1280.8 L499.53,1280.8 L499.75,1280.8 L499.98,1280.8 L500.21,1280.8 L500.44,1280.8 L500.67,1280.8 L500.89,1280.8 L501.12,1280.8 L501.35,1280.8 L501.58,1280.8 L501.81,1280.8 L502.03,1280.8 L502.26,1280.8 L502.49,1280.8 L502.72,1280.8 L502.94,1280.8 L503.17,1280.8 L503.40,1280.8" fill="none" stroke="#FF0000" stroke-width="2.6" stroke-linejoin="round"/>
<line x1="233" y1="1283.3" x2="502.4" y2="1283.3" stroke="#FF0000" stroke-width="3.5"/>
<rect x="639" y="1051" width="31" height="14" fill="#FF0000"/>
<rect x="644" y="1246" width="30.5" height="14" fill="#7030A0"/>
<text transform="translate(147.85,35.40) scale(0.9366,1)" font-family="Liberation Sans" font-size="41.60" fill="#000" filter="url(#glowS)">CL image</text>
<text transform="translate(581.84,39.40) scale(0.9304,1)" font-family="Liberation Sans" font-size="42.04" fill="#000" filter="url(#glowS)">CL image (HBT)</text>
<text transform="translate(159.03,513.00) scale(1.0392,1)" font-family="Liberation Sans" font-size="41.60" fill="#000" filter="url(#glowS)">Lifetime</text>
<text transform="translate(667.70,512.32) scale(1.0086,1)" font-family="Liberation Serif" font-size="45.57" font-style="italic" fill="#000" filter="url(#glowS)">g</text>
<text transform="translate(691.77,497.92) scale(1.1000,1)" font-family="Liberation Serif" font-size="30.96" fill="#000" filter="url(#glowS)">(2)</text>
<text transform="translate(735.39,514.10) scale(1.1193,1)" font-family="Liberation Serif" font-size="41.87" fill="#000" filter="url(#glowS)">(0)</text>
<g filter="url(#glowL)"><text transform="translate(48.88,103.23) scale(0.6878,1)" font-family="Liberation Sans" font-size="47.08" fill="#000" stroke="#000" stroke-width="0.7">(</text><text transform="translate(63.45,103.57) scale(0.8537,1)" font-family="Liberation Sans" font-size="42.74" fill="#000" stroke="#000" stroke-width="0.7">a</text><text transform="translate(88.53,103.23) scale(0.7606,1)" font-family="Liberation Sans" font-size="47.08" fill="#000" stroke="#000" stroke-width="0.7">)</text></g>
<g filter="url(#glowL)"><text transform="translate(541.88,101.16) scale(0.7153,1)" font-family="Liberation Sans" font-size="47.40" fill="#000" stroke="#000" stroke-width="0.7">(</text><text transform="translate(557.25,101.24) scale(0.9548,1)" font-family="Liberation Sans" font-size="45.85" fill="#000" stroke="#000" stroke-width="0.7">b</text><text transform="translate(584.74,101.16) scale(0.7394,1)" font-family="Liberation Sans" font-size="47.40" fill="#000" stroke="#000" stroke-width="0.7">)</text></g>
<g filter="url(#glowL)"><text transform="translate(51.88,574.36) scale(0.7153,1)" font-family="Liberation Sans" font-size="47.40" fill="#000" stroke="#000" stroke-width="0.7">(</text><text transform="translate(66.00,575.27) scale(0.9280,1)" font-family="Liberation Sans" font-size="43.11" fill="#000" stroke="#000" stroke-width="0.7">c</text><text transform="translate(89.15,574.36) scale(0.7073,1)" font-family="Liberation Sans" font-size="47.40" fill="#000" stroke="#000" stroke-width="0.7">)</text></g>
<g filter="url(#glowL)"><text transform="translate(543.88,577.85) scale(0.7218,1)" font-family="Liberation Sans" font-size="46.97" fill="#000" stroke="#000" stroke-width="0.7">(</text><text transform="translate(558.60,578.64) scale(0.9628,1)" font-family="Liberation Sans" font-size="46.39" fill="#000" stroke="#000" stroke-width="0.7">d</text><text transform="translate(587.15,577.85) scale(0.7137,1)" font-family="Liberation Sans" font-size="46.97" fill="#000" stroke="#000" stroke-width="0.7">)</text></g>
<text transform="translate(23.28,1028.74) scale(0.7285,1)" font-family="Liberation Sans" font-size="46.54" fill="#000" stroke="#000" stroke-width="0.7">(</text><text transform="translate(38.46,1029.09) scale(1.0609,1)" font-family="Liberation Sans" font-size="40.91" fill="#000" stroke="#000" stroke-width="0.7">e</text><text transform="translate(66.16,1028.74) scale(0.6876,1)" font-family="Liberation Sans" font-size="46.54" fill="#000" stroke="#000" stroke-width="0.7">)</text>
<text transform="translate(156.88,105.00) scale(1.0699,1)" font-family="Liberation Sans" font-size="33.75" fill="#FF0000" filter="url(#glow)" stroke="#FF0000" stroke-width="0.6">Spot 1</text>
<text transform="translate(735.28,277.50) scale(1.0408,1)" font-family="Liberation Sans" font-size="34.62" fill="#FF0000" filter="url(#glow)" stroke="#FF0000" stroke-width="0.6">Spot 1</text>
<text transform="translate(243.28,753.20) scale(1.0977,1)" font-family="Liberation Sans" font-size="32.73" fill="#FF0000" filter="url(#glow)" stroke="#FF0000" stroke-width="0.6">Spot 1</text>
<text transform="translate(731.18,756.70) scale(1.1010,1)" font-family="Liberation Sans" font-size="32.73" fill="#FF0000" filter="url(#glow)" stroke="#FF0000" stroke-width="0.6">Spot 1</text>
<text transform="translate(680.87,1066.90) scale(1.0893,1)" font-family="Liberation Sans" font-size="33.31" fill="#FF0000">Spot 1</text>
<text transform="translate(0.60,199.90) scale(1.1123,1)" font-family="Liberation Sans" font-size="35.93" fill="#7030A0" filter="url(#glow)" stroke="#7030A0" stroke-width="0.6">Matrix</text>
<text transform="translate(502.10,214.90) scale(1.1123,1)" font-family="Liberation Sans" font-size="35.93" fill="#7030A0" filter="url(#glow)" stroke="#7030A0" stroke-width="0.6">Matrix</text>
<text transform="translate(15.50,694.50) scale(1.1270,1)" font-family="Liberation Sans" font-size="35.49" fill="#7030A0" filter="url(#glow)" stroke="#7030A0" stroke-width="0.6">Matrix</text>
<text transform="translate(497.81,697.80) scale(1.1047,1)" font-family="Liberation Sans" font-size="36.07" fill="#7030A0" filter="url(#glow)" stroke="#7030A0" stroke-width="0.6">Matrix</text>
<text transform="translate(681.72,1266.00) scale(1.0850,1)" font-family="Liberation Sans" font-size="36.65" fill="#7030A0">Matrix</text>
<text transform="translate(53.21,399.04) scale(1.0287,1)" font-family="Liberation Sans" font-size="36.18" fill="#fff">500nm</text>
<text transform="translate(538.21,397.25) scale(1.0648,1)" font-family="Liberation Sans" font-size="35.05" fill="#fff">500nm</text>
<text transform="translate(43.50,881.35) scale(1.0667,1)" font-family="Liberation Sans" font-size="35.05" fill="#fff">500nm</text>
<text transform="translate(541.50,879.03) scale(1.0145,1)" font-family="Liberation Sans" font-size="36.89" fill="#fff">500nm</text>
<text transform="translate(427.66,570.97) scale(0.9502,1)" font-family="Liberation Sans" font-size="37.75" fill="#000" filter="url(#glowS)">(ns)</text>
<text transform="translate(426.64,618.64) scale(1.0240,1)" font-family="Liberation Sans" font-size="35.76" fill="#000" filter="url(#glowS)">0.48</text>
<text transform="translate(428.40,905.08) scale(1.1612,1)" font-family="Liberation Sans" font-size="32.37" fill="#000" filter="url(#glowS)">0.36</text>
<text transform="translate(930.06,621.27) scale(1.1311,1)" font-family="Liberation Sans" font-size="32.51" fill="#000" filter="url(#glowS)">200</text>
<text transform="translate(951.13,905.09) scale(1.2652,1)" font-family="Liberation Sans" font-size="30.95" fill="#000">0</text>
<text transform="translate(115.86,1069.00) scale(1.0067,1)" font-family="Liberation Sans" font-size="34.91" fill="#000">1</text>
<text transform="translate(100.33,1149.34) scale(1.0268,1)" font-family="Liberation Sans" font-size="35.90" fill="#000">0.8</text>
<text transform="translate(99.70,1231.14) scale(1.0500,1)" font-family="Liberation Sans" font-size="35.62" fill="#000">0.6</text>
<text transform="translate(99.73,1312.63) scale(1.0000,1)" font-family="Liberation Sans" font-size="36.75" fill="#000">0.4</text>
<text transform="translate(99.70,1393.34) scale(1.0539,1)" font-family="Liberation Sans" font-size="35.62" fill="#000">0.2</text>
<text transform="translate(114.91,1473.07) scale(1.1271,1)" font-family="Liberation Sans" font-size="33.07" fill="#000">0</text>
<text transform="translate(137.69,1508.24) scale(1.1275,1)" font-family="Liberation Sans" font-size="35.70" fill="#000">-5</text>
<text transform="translate(217.99,1508.60) scale(1.0502,1)" font-family="Liberation Sans" font-size="36.22" fill="#000">-4</text>
<text transform="translate(302.95,1508.25) scale(1.0442,1)" font-family="Liberation Sans" font-size="35.19" fill="#000">-3</text>
<text transform="translate(386.21,1508.60) scale(1.0498,1)" font-family="Liberation Sans" font-size="35.70" fill="#000">-2</text>
<text transform="translate(465.91,1508.60) scale(1.0350,1)" font-family="Liberation Sans" font-size="36.22" fill="#000">-1</text>
<text transform="translate(557.24,1508.25) scale(1.1068,1)" font-family="Liberation Sans" font-size="35.19" fill="#000">0</text>
<text transform="translate(637.83,1508.60) scale(0.9831,1)" font-family="Liberation Sans" font-size="36.22" fill="#000">1</text>
<text transform="translate(715.85,1508.60) scale(1.0343,1)" font-family="Liberation Sans" font-size="35.70" fill="#000">2</text>
<text transform="translate(802.51,1508.25) scale(0.9750,1)" font-family="Liberation Sans" font-size="35.19" fill="#000">3</text>
<text transform="translate(882.38,1508.60) scale(1.0115,1)" font-family="Liberation Sans" font-size="36.22" fill="#000">4</text>
<text transform="translate(959.89,1508.24) scale(0.9907,1)" font-family="Liberation Sans" font-size="35.70" fill="#000">5</text>
<text transform="translate(490.36,1543.70) scale(0.9579,1)" font-family="Liberation Sans" font-size="37.24" fill="#000">Delay(ns)</text>
<text transform="translate(172.12,1064.69) scale(1.0630,1)" font-family="Liberation Sans" font-size="31.10" fill="#000">100</text>
<text transform="translate(202.81,1293.40) scale(1.0663,1)" font-family="Liberation Sans" font-size="30.25" fill="#000">0</text>
<text transform="translate(200.59,1317.93) scale(1.1402,1)" font-family="Liberation Sans" font-size="27.42" fill="#000">-50</text>
<text transform="translate(272.25,1317.93) scale(1.0968,1)" font-family="Liberation Sans" font-size="27.42" fill="#000">-25</text>
<text transform="translate(358.18,1317.93) scale(1.1991,1)" font-family="Liberation Sans" font-size="27.42" fill="#000">0</text>
<text transform="translate(417.59,1317.93) scale(1.1727,1)" font-family="Liberation Sans" font-size="27.42" fill="#000">25</text>
<text transform="translate(488.88,1317.93) scale(1.1091,1)" font-family="Liberation Sans" font-size="27.42" fill="#000">50</text>
<text transform="translate(294.82,1348.20) scale(1.0469,1)" font-family="Liberation Sans" font-size="29.82" fill="#000">Delay(ns)</text>
<text transform="translate(741.59,1107.20) scale(1.1131,1)" font-family="Liberation Sans" font-size="29.53" fill="#000">Lifetime (ns)</text>
<text transform="translate(742.74,1140.60) scale(1.0650,1)" font-family="Liberation Sans" font-size="29.68" fill="#000">0.386</text>
<text transform="translate(832.33,1138.70) scale(1.7413,1)" font-family="Liberation Sans" font-size="26.05" fill="#000" stroke="#000" stroke-width="0.3">±</text>
<text transform="translate(867.15,1140.60) scale(1.0539,1)" font-family="Liberation Sans" font-size="29.68" fill="#000">0.006</text>
<text transform="translate(741.87,1226.13) scale(0.9729,1)" font-family="Liberation Sans" font-size="29.46" fill="#000">=</text>
<text transform="translate(767.41,1225.60) scale(1.1148,1)" font-family="Liberation Sans" font-size="28.53" fill="#000">121.1</text>
<text transform="translate(857.73,1221.80) scale(1.9417,1)" font-family="Liberation Sans" font-size="23.36" fill="#000" stroke="#000" stroke-width="0.3">±</text>
<text transform="translate(892.24,1225.32) scale(1.1116,1)" font-family="Liberation Sans" font-size="28.13" fill="#000">23.5</text>
<text transform="translate(741.59,1306.50) scale(1.1298,1)" font-family="Liberation Sans" font-size="29.09" fill="#000">Lifetime (ns)</text>
<text transform="translate(742.04,1340.80) scale(1.0429,1)" font-family="Liberation Sans" font-size="30.25" fill="#000">0.412</text>
<text transform="translate(832.33,1338.50) scale(1.7413,1)" font-family="Liberation Sans" font-size="26.05" fill="#000" stroke="#000" stroke-width="0.3">±</text>
<text transform="translate(866.76,1340.80) scale(1.0278,1)" font-family="Liberation Sans" font-size="30.25" fill="#000">0.007</text>
<text transform="translate(741.82,1421.29) scale(0.9575,1)" font-family="Liberation Sans" font-size="31.01" fill="#000">=</text>
<text transform="translate(768.61,1420.20) scale(1.0681,1)" font-family="Liberation Sans" font-size="29.68" fill="#000">31.4</text>
<text transform="translate(840.02,1417.20) scale(1.8828,1)" font-family="Liberation Sans" font-size="24.20" fill="#000" stroke="#000" stroke-width="0.3">±</text>
<text transform="translate(874.39,1420.20) scale(1.0823,1)" font-family="Liberation Sans" font-size="29.68" fill="#000">1.9</text>
<text transform="translate(743.40,1192.30) scale(1.2124,1)" font-family="Liberation Serif" font-size="31.06" font-style="italic" fill="#000">g</text>
<text transform="translate(763.10,1184.07) scale(1.3768,1)" font-family="Liberation Serif" font-size="24.13" fill="#000">(2)</text>
<text transform="translate(803.17,1193.11) scale(1.3318,1)" font-family="Liberation Serif" font-size="30.52" fill="#000">(0)</text>
<text transform="translate(743.40,1387.24) scale(1.2787,1)" font-family="Liberation Serif" font-size="29.45" font-style="italic" fill="#000">g</text>
<text transform="translate(763.15,1378.67) scale(1.3306,1)" font-family="Liberation Serif" font-size="24.13" fill="#000">(2)</text>
<text transform="translate(803.17,1387.88) scale(1.3663,1)" font-family="Liberation Serif" font-size="29.75" fill="#000">(0)</text>
<g transform="translate(38.20,1479.00) rotate(-90) scale(1.0890,0.8478) translate(-2.00,37.00)"><text font-family="Liberation Serif" font-size="40">(<tspan font-weight="bold" font-style="italic">g</tspan><tspan font-size="28" dy="-17.6">(2)</tspan><tspan dy="17.6">(</tspan><tspan font-weight="bold" font-style="italic">τ</tspan>) − <tspan font-weight="bold">1</tspan>)/(<tspan font-weight="bold" font-style="italic">g</tspan><tspan font-size="28" dy="-17.6">(2)</tspan><tspan dy="17.6">(</tspan><tspan font-weight="bold">0</tspan>) − <tspan font-weight="bold">1</tspan>)</text></g>
<g transform="translate(186.80,1209.80) rotate(-90) scale(0.9320,0.7370) translate(1.00,37.00)"><text font-family="Liberation Serif" font-size="40"><tspan font-weight="bold" font-style="italic">g</tspan><tspan font-size="28" dy="-17.6">(2)</tspan><tspan dy="17.6">(</tspan><tspan font-weight="bold" font-style="italic">τ</tspan>)</text></g>
</svg></body></html>
